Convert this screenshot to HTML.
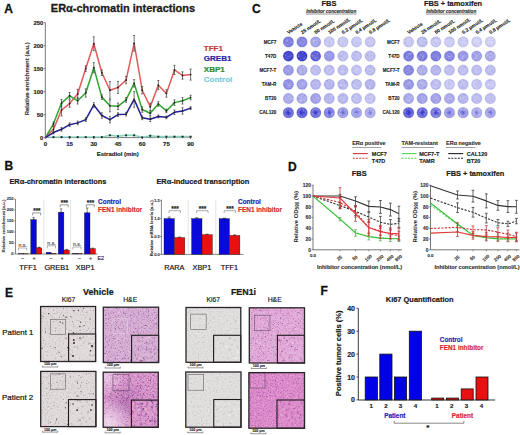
<!DOCTYPE html>
<html><head><meta charset="utf-8"><style>
html,body{margin:0;padding:0;background:#fff;width:520px;height:435px;overflow:hidden}
svg{display:block}
text{font-family:"Liberation Sans", sans-serif}
</style></head><body>
<svg width="520" height="435" viewBox="0 0 520 435" font-family='"Liberation Sans", sans-serif'><defs><filter id="wtex" x="0" y="0" width="1" height="1" color-interpolation-filters="sRGB"><feTurbulence type="fractalNoise" baseFrequency="0.45" numOctaves="2" seed="11"/><feColorMatrix type="matrix" values="0 0 0 0 0.3  0 0 0 0 0.3  0 0 0 0 0.82  2.2 0 0 0 -1.15"/><feComposite in2="SourceAlpha" operator="in"/></filter><filter id="wtex2" x="0" y="0" width="1" height="1" color-interpolation-filters="sRGB"><feTurbulence type="fractalNoise" baseFrequency="0.45" numOctaves="2" seed="23"/><feColorMatrix type="matrix" values="0 0 0 0 0.95  0 0 0 0 0.95  0 0 0 0 1  0 2.2 0 0 -1.15"/><feComposite in2="SourceAlpha" operator="in"/></filter><radialGradient id="w1"><stop offset="0" stop-color="#8383df"/><stop offset="0.6" stop-color="#8383df"/><stop offset="0.9" stop-color="#6e6eda"/><stop offset="1" stop-color="#9191e3"/></radialGradient><radialGradient id="w2"><stop offset="0" stop-color="#8c8ce2"/><stop offset="0.6" stop-color="#8c8ce2"/><stop offset="0.9" stop-color="#7878dc"/><stop offset="1" stop-color="#9999e5"/></radialGradient><radialGradient id="w3"><stop offset="0" stop-color="#ababea"/><stop offset="0.6" stop-color="#ababea"/><stop offset="0.9" stop-color="#9999e5"/><stop offset="1" stop-color="#b4b4ec"/></radialGradient><radialGradient id="w4"><stop offset="0" stop-color="#cbcbf3"/><stop offset="0.6" stop-color="#cbcbf3"/><stop offset="0.9" stop-color="#bdbdef"/><stop offset="1" stop-color="#d0d0f4"/></radialGradient><radialGradient id="w5"><stop offset="0" stop-color="#cbcbf3"/><stop offset="0.6" stop-color="#cbcbf3"/><stop offset="0.9" stop-color="#bdbdef"/><stop offset="1" stop-color="#d0d0f4"/></radialGradient><radialGradient id="w6"><stop offset="0" stop-color="#cbcbf3"/><stop offset="0.6" stop-color="#cbcbf3"/><stop offset="0.9" stop-color="#bdbdef"/><stop offset="1" stop-color="#d0d0f4"/></radialGradient><radialGradient id="w7"><stop offset="0" stop-color="#cbcbf3"/><stop offset="0.6" stop-color="#cbcbf3"/><stop offset="0.9" stop-color="#bdbdef"/><stop offset="1" stop-color="#d0d0f4"/></radialGradient><radialGradient id="w8"><stop offset="0" stop-color="#4d4dd1"/><stop offset="0.6" stop-color="#4d4dd1"/><stop offset="0.9" stop-color="#3333ca"/><stop offset="1" stop-color="#6262d6"/></radialGradient><radialGradient id="w9"><stop offset="0" stop-color="#4444ce"/><stop offset="0.6" stop-color="#4444ce"/><stop offset="0.9" stop-color="#2c2cc8"/><stop offset="1" stop-color="#5b5bd4"/></radialGradient><radialGradient id="w10"><stop offset="0" stop-color="#6868d8"/><stop offset="0.6" stop-color="#6868d8"/><stop offset="0.9" stop-color="#5151d2"/><stop offset="1" stop-color="#7a7add"/></radialGradient><radialGradient id="w11"><stop offset="0" stop-color="#9e9ee7"/><stop offset="0.6" stop-color="#9e9ee7"/><stop offset="0.9" stop-color="#8c8ce1"/><stop offset="1" stop-color="#a9a9e9"/></radialGradient><radialGradient id="w12"><stop offset="0" stop-color="#c2c2f0"/><stop offset="0.6" stop-color="#c2c2f0"/><stop offset="0.9" stop-color="#b3b3ec"/><stop offset="1" stop-color="#c8c8f2"/></radialGradient><radialGradient id="w13"><stop offset="0" stop-color="#c2c2f0"/><stop offset="0.6" stop-color="#c2c2f0"/><stop offset="0.9" stop-color="#b3b3ec"/><stop offset="1" stop-color="#c8c8f2"/></radialGradient><radialGradient id="w14"><stop offset="0" stop-color="#c2c2f0"/><stop offset="0.6" stop-color="#c2c2f0"/><stop offset="0.9" stop-color="#b3b3ec"/><stop offset="1" stop-color="#c8c8f2"/></radialGradient><radialGradient id="w15"><stop offset="0" stop-color="#9e9ee7"/><stop offset="0.6" stop-color="#9e9ee7"/><stop offset="0.9" stop-color="#8c8ce1"/><stop offset="1" stop-color="#a9a9e9"/></radialGradient><radialGradient id="w16"><stop offset="0" stop-color="#b0b0eb"/><stop offset="0.6" stop-color="#b0b0eb"/><stop offset="0.9" stop-color="#9f9fe7"/><stop offset="1" stop-color="#b9b9ee"/></radialGradient><radialGradient id="w17"><stop offset="0" stop-color="#c2c2f0"/><stop offset="0.6" stop-color="#c2c2f0"/><stop offset="0.9" stop-color="#b3b3ec"/><stop offset="1" stop-color="#c8c8f2"/></radialGradient><radialGradient id="w18"><stop offset="0" stop-color="#c2c2f0"/><stop offset="0.6" stop-color="#c2c2f0"/><stop offset="0.9" stop-color="#b3b3ec"/><stop offset="1" stop-color="#c8c8f2"/></radialGradient><radialGradient id="w19"><stop offset="0" stop-color="#c2c2f0"/><stop offset="0.6" stop-color="#c2c2f0"/><stop offset="0.9" stop-color="#b3b3ec"/><stop offset="1" stop-color="#c8c8f2"/></radialGradient><radialGradient id="w20"><stop offset="0" stop-color="#c8c8f2"/><stop offset="0.6" stop-color="#c8c8f2"/><stop offset="0.9" stop-color="#b9b9ee"/><stop offset="1" stop-color="#cdcdf3"/></radialGradient><radialGradient id="w21"><stop offset="0" stop-color="#c2c2f0"/><stop offset="0.6" stop-color="#c2c2f0"/><stop offset="0.9" stop-color="#b3b3ec"/><stop offset="1" stop-color="#c8c8f2"/></radialGradient><radialGradient id="w22"><stop offset="0" stop-color="#9595e4"/><stop offset="0.6" stop-color="#9595e4"/><stop offset="0.9" stop-color="#8282df"/><stop offset="1" stop-color="#a1a1e7"/></radialGradient><radialGradient id="w23"><stop offset="0" stop-color="#a7a7e9"/><stop offset="0.6" stop-color="#a7a7e9"/><stop offset="0.9" stop-color="#9595e4"/><stop offset="1" stop-color="#b1b1ec"/></radialGradient><radialGradient id="w24"><stop offset="0" stop-color="#b9b9ee"/><stop offset="0.6" stop-color="#b9b9ee"/><stop offset="0.9" stop-color="#a9a9e9"/><stop offset="1" stop-color="#c0c0f0"/></radialGradient><radialGradient id="w25"><stop offset="0" stop-color="#b9b9ee"/><stop offset="0.6" stop-color="#b9b9ee"/><stop offset="0.9" stop-color="#a9a9e9"/><stop offset="1" stop-color="#c0c0f0"/></radialGradient><radialGradient id="w26"><stop offset="0" stop-color="#bdbdef"/><stop offset="0.6" stop-color="#bdbdef"/><stop offset="0.9" stop-color="#adadea"/><stop offset="1" stop-color="#c4c4f1"/></radialGradient><radialGradient id="w27"><stop offset="0" stop-color="#c2c2f0"/><stop offset="0.6" stop-color="#c2c2f0"/><stop offset="0.9" stop-color="#b3b3ec"/><stop offset="1" stop-color="#c8c8f2"/></radialGradient><radialGradient id="w28"><stop offset="0" stop-color="#b9b9ee"/><stop offset="0.6" stop-color="#b9b9ee"/><stop offset="0.9" stop-color="#a9a9e9"/><stop offset="1" stop-color="#c0c0f0"/></radialGradient><radialGradient id="w29"><stop offset="0" stop-color="#b0b0eb"/><stop offset="0.6" stop-color="#b0b0eb"/><stop offset="0.9" stop-color="#9f9fe7"/><stop offset="1" stop-color="#b9b9ee"/></radialGradient><radialGradient id="w30"><stop offset="0" stop-color="#b0b0eb"/><stop offset="0.6" stop-color="#b0b0eb"/><stop offset="0.9" stop-color="#9f9fe7"/><stop offset="1" stop-color="#b9b9ee"/></radialGradient><radialGradient id="w31"><stop offset="0" stop-color="#a7a7e9"/><stop offset="0.6" stop-color="#a7a7e9"/><stop offset="0.9" stop-color="#9595e4"/><stop offset="1" stop-color="#b1b1ec"/></radialGradient><radialGradient id="w32"><stop offset="0" stop-color="#b9b9ee"/><stop offset="0.6" stop-color="#b9b9ee"/><stop offset="0.9" stop-color="#a9a9e9"/><stop offset="1" stop-color="#c0c0f0"/></radialGradient><radialGradient id="w33"><stop offset="0" stop-color="#bdbdef"/><stop offset="0.6" stop-color="#bdbdef"/><stop offset="0.9" stop-color="#adadea"/><stop offset="1" stop-color="#c4c4f1"/></radialGradient><radialGradient id="w34"><stop offset="0" stop-color="#c2c2f0"/><stop offset="0.6" stop-color="#c2c2f0"/><stop offset="0.9" stop-color="#b3b3ec"/><stop offset="1" stop-color="#c8c8f2"/></radialGradient><radialGradient id="w35"><stop offset="0" stop-color="#c8c8f2"/><stop offset="0.6" stop-color="#c8c8f2"/><stop offset="0.9" stop-color="#b9b9ee"/><stop offset="1" stop-color="#cdcdf3"/></radialGradient><radialGradient id="w36"><stop offset="0" stop-color="#2c2cc8"/><stop offset="0.35" stop-color="#4d4dd1"/><stop offset="0.7" stop-color="#7a7add"/><stop offset="1" stop-color="#4949cf"/></radialGradient><radialGradient id="w37"><stop offset="0" stop-color="#2c2cc8"/><stop offset="0.35" stop-color="#4343ce"/><stop offset="0.7" stop-color="#7272db"/><stop offset="1" stop-color="#3f3fcd"/></radialGradient><radialGradient id="w38"><stop offset="0" stop-color="#2c2cc8"/><stop offset="0.35" stop-color="#5757d3"/><stop offset="0.7" stop-color="#8282df"/><stop offset="1" stop-color="#5353d2"/></radialGradient><radialGradient id="w39"><stop offset="0" stop-color="#3f3fcd"/><stop offset="0.35" stop-color="#6a6ad8"/><stop offset="0.7" stop-color="#9191e3"/><stop offset="1" stop-color="#6666d7"/></radialGradient><radialGradient id="w40"><stop offset="0" stop-color="#5d5dd5"/><stop offset="0.35" stop-color="#8888e0"/><stop offset="0.7" stop-color="#a9a9e9"/><stop offset="1" stop-color="#8484df"/></radialGradient><radialGradient id="w41"><stop offset="0" stop-color="#6666d7"/><stop offset="0.35" stop-color="#9191e3"/><stop offset="0.7" stop-color="#b1b1ec"/><stop offset="1" stop-color="#8e8ee2"/></radialGradient><radialGradient id="w42"><stop offset="0" stop-color="#7070da"/><stop offset="0.35" stop-color="#9b9be6"/><stop offset="0.7" stop-color="#b9b9ee"/><stop offset="1" stop-color="#9797e5"/></radialGradient><radialGradient id="w43"><stop offset="0" stop-color="#cbcbf3"/><stop offset="0.6" stop-color="#cbcbf3"/><stop offset="0.9" stop-color="#bdbdef"/><stop offset="1" stop-color="#d0d0f4"/></radialGradient><radialGradient id="w44"><stop offset="0" stop-color="#c2c2f0"/><stop offset="0.6" stop-color="#c2c2f0"/><stop offset="0.9" stop-color="#b3b3ec"/><stop offset="1" stop-color="#c8c8f2"/></radialGradient><radialGradient id="w45"><stop offset="0" stop-color="#cbcbf3"/><stop offset="0.6" stop-color="#cbcbf3"/><stop offset="0.9" stop-color="#bdbdef"/><stop offset="1" stop-color="#d0d0f4"/></radialGradient><radialGradient id="w46"><stop offset="0" stop-color="#cfcff4"/><stop offset="0.6" stop-color="#cfcff4"/><stop offset="0.9" stop-color="#c0c0f0"/><stop offset="1" stop-color="#d3d3f5"/></radialGradient><radialGradient id="w47"><stop offset="0" stop-color="#cfcff4"/><stop offset="0.6" stop-color="#cfcff4"/><stop offset="0.9" stop-color="#c0c0f0"/><stop offset="1" stop-color="#d3d3f5"/></radialGradient><radialGradient id="w48"><stop offset="0" stop-color="#d4d4f5"/><stop offset="0.6" stop-color="#d4d4f5"/><stop offset="0.9" stop-color="#c6c6f1"/><stop offset="1" stop-color="#d8d8f6"/></radialGradient><radialGradient id="w49"><stop offset="0" stop-color="#d4d4f5"/><stop offset="0.6" stop-color="#d4d4f5"/><stop offset="0.9" stop-color="#c6c6f1"/><stop offset="1" stop-color="#d8d8f6"/></radialGradient><radialGradient id="w50"><stop offset="0" stop-color="#8383df"/><stop offset="0.6" stop-color="#8383df"/><stop offset="0.9" stop-color="#6e6eda"/><stop offset="1" stop-color="#9191e3"/></radialGradient><radialGradient id="w51"><stop offset="0" stop-color="#8383df"/><stop offset="0.6" stop-color="#8383df"/><stop offset="0.9" stop-color="#6e6eda"/><stop offset="1" stop-color="#9191e3"/></radialGradient><radialGradient id="w52"><stop offset="0" stop-color="#8383df"/><stop offset="0.6" stop-color="#8383df"/><stop offset="0.9" stop-color="#6e6eda"/><stop offset="1" stop-color="#9191e3"/></radialGradient><radialGradient id="w53"><stop offset="0" stop-color="#8c8ce2"/><stop offset="0.6" stop-color="#8c8ce2"/><stop offset="0.9" stop-color="#7878dc"/><stop offset="1" stop-color="#9999e5"/></radialGradient><radialGradient id="w54"><stop offset="0" stop-color="#9e9ee7"/><stop offset="0.6" stop-color="#9e9ee7"/><stop offset="0.9" stop-color="#8c8ce1"/><stop offset="1" stop-color="#a9a9e9"/></radialGradient><radialGradient id="w55"><stop offset="0" stop-color="#a7a7e9"/><stop offset="0.6" stop-color="#a7a7e9"/><stop offset="0.9" stop-color="#9595e4"/><stop offset="1" stop-color="#b1b1ec"/></radialGradient><radialGradient id="w56"><stop offset="0" stop-color="#b0b0eb"/><stop offset="0.6" stop-color="#b0b0eb"/><stop offset="0.9" stop-color="#9f9fe7"/><stop offset="1" stop-color="#b9b9ee"/></radialGradient><radialGradient id="w57"><stop offset="0" stop-color="#8c8ce2"/><stop offset="0.6" stop-color="#8c8ce2"/><stop offset="0.9" stop-color="#7878dc"/><stop offset="1" stop-color="#9999e5"/></radialGradient><radialGradient id="w58"><stop offset="0" stop-color="#b0b0eb"/><stop offset="0.6" stop-color="#b0b0eb"/><stop offset="0.9" stop-color="#9f9fe7"/><stop offset="1" stop-color="#b9b9ee"/></radialGradient><radialGradient id="w59"><stop offset="0" stop-color="#b9b9ee"/><stop offset="0.6" stop-color="#b9b9ee"/><stop offset="0.9" stop-color="#a9a9e9"/><stop offset="1" stop-color="#c0c0f0"/></radialGradient><radialGradient id="w60"><stop offset="0" stop-color="#c2c2f0"/><stop offset="0.6" stop-color="#c2c2f0"/><stop offset="0.9" stop-color="#b3b3ec"/><stop offset="1" stop-color="#c8c8f2"/></radialGradient><radialGradient id="w61"><stop offset="0" stop-color="#c2c2f0"/><stop offset="0.6" stop-color="#c2c2f0"/><stop offset="0.9" stop-color="#b3b3ec"/><stop offset="1" stop-color="#c8c8f2"/></radialGradient><radialGradient id="w62"><stop offset="0" stop-color="#c2c2f0"/><stop offset="0.6" stop-color="#c2c2f0"/><stop offset="0.9" stop-color="#b3b3ec"/><stop offset="1" stop-color="#c8c8f2"/></radialGradient><radialGradient id="w63"><stop offset="0" stop-color="#c2c2f0"/><stop offset="0.6" stop-color="#c2c2f0"/><stop offset="0.9" stop-color="#b3b3ec"/><stop offset="1" stop-color="#c8c8f2"/></radialGradient><radialGradient id="w64"><stop offset="0" stop-color="#9e9ee7"/><stop offset="0.6" stop-color="#9e9ee7"/><stop offset="0.9" stop-color="#8c8ce1"/><stop offset="1" stop-color="#a9a9e9"/></radialGradient><radialGradient id="w65"><stop offset="0" stop-color="#b0b0eb"/><stop offset="0.6" stop-color="#b0b0eb"/><stop offset="0.9" stop-color="#9f9fe7"/><stop offset="1" stop-color="#b9b9ee"/></radialGradient><radialGradient id="w66"><stop offset="0" stop-color="#c2c2f0"/><stop offset="0.6" stop-color="#c2c2f0"/><stop offset="0.9" stop-color="#b3b3ec"/><stop offset="1" stop-color="#c8c8f2"/></radialGradient><radialGradient id="w67"><stop offset="0" stop-color="#cbcbf3"/><stop offset="0.6" stop-color="#cbcbf3"/><stop offset="0.9" stop-color="#bdbdef"/><stop offset="1" stop-color="#d0d0f4"/></radialGradient><radialGradient id="w68"><stop offset="0" stop-color="#c2c2f0"/><stop offset="0.6" stop-color="#c2c2f0"/><stop offset="0.9" stop-color="#b3b3ec"/><stop offset="1" stop-color="#c8c8f2"/></radialGradient><radialGradient id="w69"><stop offset="0" stop-color="#c8c8f2"/><stop offset="0.6" stop-color="#c8c8f2"/><stop offset="0.9" stop-color="#b9b9ee"/><stop offset="1" stop-color="#cdcdf3"/></radialGradient><radialGradient id="w70"><stop offset="0" stop-color="#cbcbf3"/><stop offset="0.6" stop-color="#cbcbf3"/><stop offset="0.9" stop-color="#bdbdef"/><stop offset="1" stop-color="#d0d0f4"/></radialGradient><radialGradient id="w71"><stop offset="0" stop-color="#b0b0eb"/><stop offset="0.6" stop-color="#b0b0eb"/><stop offset="0.9" stop-color="#9f9fe7"/><stop offset="1" stop-color="#b9b9ee"/></radialGradient><radialGradient id="w72"><stop offset="0" stop-color="#a7a7e9"/><stop offset="0.6" stop-color="#a7a7e9"/><stop offset="0.9" stop-color="#9595e4"/><stop offset="1" stop-color="#b1b1ec"/></radialGradient><radialGradient id="w73"><stop offset="0" stop-color="#a7a7e9"/><stop offset="0.6" stop-color="#a7a7e9"/><stop offset="0.9" stop-color="#9595e4"/><stop offset="1" stop-color="#b1b1ec"/></radialGradient><radialGradient id="w74"><stop offset="0" stop-color="#b0b0eb"/><stop offset="0.6" stop-color="#b0b0eb"/><stop offset="0.9" stop-color="#9f9fe7"/><stop offset="1" stop-color="#b9b9ee"/></radialGradient><radialGradient id="w75"><stop offset="0" stop-color="#b9b9ee"/><stop offset="0.6" stop-color="#b9b9ee"/><stop offset="0.9" stop-color="#a9a9e9"/><stop offset="1" stop-color="#c0c0f0"/></radialGradient><radialGradient id="w76"><stop offset="0" stop-color="#c2c2f0"/><stop offset="0.6" stop-color="#c2c2f0"/><stop offset="0.9" stop-color="#b3b3ec"/><stop offset="1" stop-color="#c8c8f2"/></radialGradient><radialGradient id="w77"><stop offset="0" stop-color="#c2c2f0"/><stop offset="0.6" stop-color="#c2c2f0"/><stop offset="0.9" stop-color="#b3b3ec"/><stop offset="1" stop-color="#c8c8f2"/></radialGradient><radialGradient id="w78"><stop offset="0" stop-color="#2c2cc8"/><stop offset="0.35" stop-color="#4343ce"/><stop offset="0.7" stop-color="#7272db"/><stop offset="1" stop-color="#3f3fcd"/></radialGradient><radialGradient id="w79"><stop offset="0" stop-color="#2c2cc8"/><stop offset="0.35" stop-color="#4d4dd1"/><stop offset="0.7" stop-color="#7a7add"/><stop offset="1" stop-color="#4949cf"/></radialGradient><radialGradient id="w80"><stop offset="0" stop-color="#3535ca"/><stop offset="0.35" stop-color="#6060d6"/><stop offset="0.7" stop-color="#8a8ae1"/><stop offset="1" stop-color="#5d5dd5"/></radialGradient><radialGradient id="w81"><stop offset="0" stop-color="#5d5dd5"/><stop offset="0.35" stop-color="#8888e0"/><stop offset="0.7" stop-color="#a9a9e9"/><stop offset="1" stop-color="#8484df"/></radialGradient><radialGradient id="w82"><stop offset="0" stop-color="#5d5dd5"/><stop offset="0.35" stop-color="#8888e0"/><stop offset="0.7" stop-color="#a9a9e9"/><stop offset="1" stop-color="#8484df"/></radialGradient><radialGradient id="w83"><stop offset="0" stop-color="#7070da"/><stop offset="0.35" stop-color="#9b9be6"/><stop offset="0.7" stop-color="#b9b9ee"/><stop offset="1" stop-color="#9797e5"/></radialGradient><radialGradient id="w84"><stop offset="0" stop-color="#6666d7"/><stop offset="0.35" stop-color="#9191e3"/><stop offset="0.7" stop-color="#b1b1ec"/><stop offset="1" stop-color="#8e8ee2"/></radialGradient><filter id="t_ki_0" x="0" y="0" width="1" height="1" color-interpolation-filters="sRGB"><feTurbulence type="fractalNoise" baseFrequency="0.6" numOctaves="2" seed="3"/><feColorMatrix type="matrix" values="0 0 0 0 0.706 0 0 0 0 0.667 0 0 0 0 0.682 4 0 0 0 -2.3"/></filter><filter id="ti_ki_0" x="0" y="0" width="1" height="1" color-interpolation-filters="sRGB"><feTurbulence type="fractalNoise" baseFrequency="0.35" numOctaves="2" seed="9"/><feColorMatrix type="matrix" values="0 0 0 0 0.706 0 0 0 0 0.667 0 0 0 0 0.682 4 0 0 0 -2.3"/></filter><filter id="t_ki_1" x="0" y="0" width="1" height="1" color-interpolation-filters="sRGB"><feTurbulence type="fractalNoise" baseFrequency="0.6" numOctaves="2" seed="4"/><feColorMatrix type="matrix" values="0 0 0 0 0.937 0 0 0 0 0.922 0 0 0 0 0.925 0 3 0 0 -1.75"/></filter><filter id="ti_ki_1" x="0" y="0" width="1" height="1" color-interpolation-filters="sRGB"><feTurbulence type="fractalNoise" baseFrequency="0.35" numOctaves="2" seed="10"/><feColorMatrix type="matrix" values="0 0 0 0 0.937 0 0 0 0 0.922 0 0 0 0 0.925 0 3 0 0 -1.75"/></filter><filter id="t_kig_0" x="0" y="0" width="1" height="1" color-interpolation-filters="sRGB"><feTurbulence type="fractalNoise" baseFrequency="0.6" numOctaves="2" seed="3"/><feColorMatrix type="matrix" values="0 0 0 0 0.769 0 0 0 0 0.753 0 0 0 0 0.753 4 0 0 0 -2.35"/></filter><filter id="ti_kig_0" x="0" y="0" width="1" height="1" color-interpolation-filters="sRGB"><feTurbulence type="fractalNoise" baseFrequency="0.35" numOctaves="2" seed="9"/><feColorMatrix type="matrix" values="0 0 0 0 0.769 0 0 0 0 0.753 0 0 0 0 0.753 4 0 0 0 -2.35"/></filter><filter id="t_kig_1" x="0" y="0" width="1" height="1" color-interpolation-filters="sRGB"><feTurbulence type="fractalNoise" baseFrequency="0.6" numOctaves="2" seed="4"/><feColorMatrix type="matrix" values="0 0 0 0 0.949 0 0 0 0 0.941 0 0 0 0 0.941 0 3 0 0 -1.75"/></filter><filter id="ti_kig_1" x="0" y="0" width="1" height="1" color-interpolation-filters="sRGB"><feTurbulence type="fractalNoise" baseFrequency="0.35" numOctaves="2" seed="10"/><feColorMatrix type="matrix" values="0 0 0 0 0.949 0 0 0 0 0.941 0 0 0 0 0.941 0 3 0 0 -1.75"/></filter><filter id="t_he_0" x="0" y="0" width="1" height="1" color-interpolation-filters="sRGB"><feTurbulence type="fractalNoise" baseFrequency="0.6" numOctaves="2" seed="3"/><feColorMatrix type="matrix" values="0 0 0 0 0.612 0 0 0 0 0.455 0 0 0 0 0.643 5 0 0 0 -2.9"/></filter><filter id="ti_he_0" x="0" y="0" width="1" height="1" color-interpolation-filters="sRGB"><feTurbulence type="fractalNoise" baseFrequency="0.35" numOctaves="2" seed="9"/><feColorMatrix type="matrix" values="0 0 0 0 0.612 0 0 0 0 0.455 0 0 0 0 0.643 5 0 0 0 -2.9"/></filter><filter id="t_he_1" x="0" y="0" width="1" height="1" color-interpolation-filters="sRGB"><feTurbulence type="fractalNoise" baseFrequency="0.6" numOctaves="2" seed="4"/><feColorMatrix type="matrix" values="0 0 0 0 0.925 0 0 0 0 0.831 0 0 0 0 0.918 0 3 0 0 -1.8"/></filter><filter id="ti_he_1" x="0" y="0" width="1" height="1" color-interpolation-filters="sRGB"><feTurbulence type="fractalNoise" baseFrequency="0.35" numOctaves="2" seed="10"/><feColorMatrix type="matrix" values="0 0 0 0 0.925 0 0 0 0 0.831 0 0 0 0 0.918 0 3 0 0 -1.8"/></filter><filter id="t_he_2" x="0" y="0" width="1" height="1" color-interpolation-filters="sRGB"><feTurbulence type="fractalNoise" baseFrequency="0.6" numOctaves="2" seed="5"/><feColorMatrix type="matrix" values="0 0 0 0 0.769 0 0 0 0 0.596 0 0 0 0 0.776 0 0 4 0 -2.1"/></filter><filter id="ti_he_2" x="0" y="0" width="1" height="1" color-interpolation-filters="sRGB"><feTurbulence type="fractalNoise" baseFrequency="0.35" numOctaves="2" seed="11"/><feColorMatrix type="matrix" values="0 0 0 0 0.769 0 0 0 0 0.596 0 0 0 0 0.776 0 0 4 0 -2.1"/></filter><filter id="t_he2_0" x="0" y="0" width="1" height="1" color-interpolation-filters="sRGB"><feTurbulence type="fractalNoise" baseFrequency="0.6" numOctaves="2" seed="3"/><feColorMatrix type="matrix" values="0 0 0 0 0.690 0 0 0 0 0.439 0 0 0 0 0.675 5 0 0 0 -3.0"/></filter><filter id="ti_he2_0" x="0" y="0" width="1" height="1" color-interpolation-filters="sRGB"><feTurbulence type="fractalNoise" baseFrequency="0.35" numOctaves="2" seed="9"/><feColorMatrix type="matrix" values="0 0 0 0 0.690 0 0 0 0 0.439 0 0 0 0 0.675 5 0 0 0 -3.0"/></filter><filter id="t_he2_1" x="0" y="0" width="1" height="1" color-interpolation-filters="sRGB"><feTurbulence type="fractalNoise" baseFrequency="0.6" numOctaves="2" seed="4"/><feColorMatrix type="matrix" values="0 0 0 0 0.957 0 0 0 0 0.847 0 0 0 0 0.933 0 3 0 0 -1.8"/></filter><filter id="ti_he2_1" x="0" y="0" width="1" height="1" color-interpolation-filters="sRGB"><feTurbulence type="fractalNoise" baseFrequency="0.35" numOctaves="2" seed="10"/><feColorMatrix type="matrix" values="0 0 0 0 0.957 0 0 0 0 0.847 0 0 0 0 0.933 0 3 0 0 -1.8"/></filter><filter id="t_he2_2" x="0" y="0" width="1" height="1" color-interpolation-filters="sRGB"><feTurbulence type="fractalNoise" baseFrequency="0.6" numOctaves="2" seed="5"/><feColorMatrix type="matrix" values="0 0 0 0 0.816 0 0 0 0 0.541 0 0 0 0 0.784 0 0 4 0 -2.2"/></filter><filter id="ti_he2_2" x="0" y="0" width="1" height="1" color-interpolation-filters="sRGB"><feTurbulence type="fractalNoise" baseFrequency="0.35" numOctaves="2" seed="11"/><feColorMatrix type="matrix" values="0 0 0 0 0.816 0 0 0 0 0.541 0 0 0 0 0.784 0 0 4 0 -2.2"/></filter><filter id="t_he4_0" x="0" y="0" width="1" height="1" color-interpolation-filters="sRGB"><feTurbulence type="fractalNoise" baseFrequency="0.6" numOctaves="2" seed="3"/><feColorMatrix type="matrix" values="0 0 0 0 0.690 0 0 0 0 0.376 0 0 0 0 0.667 5 0 0 0 -2.95"/></filter><filter id="ti_he4_0" x="0" y="0" width="1" height="1" color-interpolation-filters="sRGB"><feTurbulence type="fractalNoise" baseFrequency="0.35" numOctaves="2" seed="9"/><feColorMatrix type="matrix" values="0 0 0 0 0.690 0 0 0 0 0.376 0 0 0 0 0.667 5 0 0 0 -2.95"/></filter><filter id="t_he4_1" x="0" y="0" width="1" height="1" color-interpolation-filters="sRGB"><feTurbulence type="fractalNoise" baseFrequency="0.6" numOctaves="2" seed="4"/><feColorMatrix type="matrix" values="0 0 0 0 0.949 0 0 0 0 0.800 0 0 0 0 0.910 0 3 0 0 -1.8"/></filter><filter id="ti_he4_1" x="0" y="0" width="1" height="1" color-interpolation-filters="sRGB"><feTurbulence type="fractalNoise" baseFrequency="0.35" numOctaves="2" seed="10"/><feColorMatrix type="matrix" values="0 0 0 0 0.949 0 0 0 0 0.800 0 0 0 0 0.910 0 3 0 0 -1.8"/></filter><filter id="t_he4_2" x="0" y="0" width="1" height="1" color-interpolation-filters="sRGB"><feTurbulence type="fractalNoise" baseFrequency="0.6" numOctaves="2" seed="5"/><feColorMatrix type="matrix" values="0 0 0 0 0.800 0 0 0 0 0.447 0 0 0 0 0.745 0 0 4 0 -2.1"/></filter><filter id="ti_he4_2" x="0" y="0" width="1" height="1" color-interpolation-filters="sRGB"><feTurbulence type="fractalNoise" baseFrequency="0.35" numOctaves="2" seed="11"/><feColorMatrix type="matrix" values="0 0 0 0 0.800 0 0 0 0 0.447 0 0 0 0 0.745 0 0 4 0 -2.1"/></filter><filter id="t_he3_0" x="0" y="0" width="1" height="1" color-interpolation-filters="sRGB"><feTurbulence type="fractalNoise" baseFrequency="0.6" numOctaves="2" seed="3"/><feColorMatrix type="matrix" values="0 0 0 0 0.565 0 0 0 0 0.314 0 0 0 0 0.627 5 0 0 0 -2.85"/></filter><filter id="ti_he3_0" x="0" y="0" width="1" height="1" color-interpolation-filters="sRGB"><feTurbulence type="fractalNoise" baseFrequency="0.35" numOctaves="2" seed="9"/><feColorMatrix type="matrix" values="0 0 0 0 0.565 0 0 0 0 0.314 0 0 0 0 0.627 5 0 0 0 -2.85"/></filter><filter id="t_he3_1" x="0" y="0" width="1" height="1" color-interpolation-filters="sRGB"><feTurbulence type="fractalNoise" baseFrequency="0.6" numOctaves="2" seed="4"/><feColorMatrix type="matrix" values="0 0 0 0 0.949 0 0 0 0 0.816 0 0 0 0 0.910 0 3 0 0 -1.8"/></filter><filter id="ti_he3_1" x="0" y="0" width="1" height="1" color-interpolation-filters="sRGB"><feTurbulence type="fractalNoise" baseFrequency="0.35" numOctaves="2" seed="10"/><feColorMatrix type="matrix" values="0 0 0 0 0.949 0 0 0 0 0.816 0 0 0 0 0.910 0 3 0 0 -1.8"/></filter><filter id="t_he3_2" x="0" y="0" width="1" height="1" color-interpolation-filters="sRGB"><feTurbulence type="fractalNoise" baseFrequency="0.6" numOctaves="2" seed="5"/><feColorMatrix type="matrix" values="0 0 0 0 0.769 0 0 0 0 0.439 0 0 0 0 0.722 0 0 4 0 -2.1"/></filter><filter id="ti_he3_2" x="0" y="0" width="1" height="1" color-interpolation-filters="sRGB"><feTurbulence type="fractalNoise" baseFrequency="0.35" numOctaves="2" seed="11"/><feColorMatrix type="matrix" values="0 0 0 0 0.769 0 0 0 0 0.439 0 0 0 0 0.722 0 0 4 0 -2.1"/></filter><radialGradient id="pale5" cx="0.1" cy="0.92" r="0.45"><stop offset="0" stop-color="#f6eaf4" stop-opacity="0.8"/><stop offset="1" stop-color="#f6eaf4" stop-opacity="0"/></radialGradient><radialGradient id="pale5b" cx="0.05" cy="0.1" r="0.35"><stop offset="0" stop-color="#f6eaf4" stop-opacity="0.6"/><stop offset="1" stop-color="#f6eaf4" stop-opacity="0"/></radialGradient><radialGradient id="band5" cx="0.42" cy="0.55" r="0.4"><stop offset="0" stop-color="#7a3088" stop-opacity="0.3"/><stop offset="1" stop-color="#7a3088" stop-opacity="0"/></radialGradient></defs><text x="4.20" y="12.50" font-size="12" font-weight="bold" fill="#111" stroke="#111" stroke-width="0.30" text-anchor="start" >A</text>
<text x="252.00" y="12.60" font-size="12" font-weight="bold" fill="#111" stroke="#111" stroke-width="0.30" text-anchor="start" >C</text>
<text x="4.60" y="170.30" font-size="12" font-weight="bold" fill="#111" stroke="#111" stroke-width="0.30" text-anchor="start" >B</text>
<text x="288.00" y="170.50" font-size="12" font-weight="bold" fill="#111" stroke="#111" stroke-width="0.30" text-anchor="start" >D</text>
<text x="5.00" y="296.90" font-size="12" font-weight="bold" fill="#111" stroke="#111" stroke-width="0.30" text-anchor="start" >E</text>
<text x="320.50" y="294.80" font-size="12" font-weight="bold" fill="#111" stroke="#111" stroke-width="0.30" text-anchor="start" >F</text>
<text x="50.80" y="12.40" font-size="11" font-weight="bold" fill="#1a1a1a" stroke="#1a1a1a" stroke-width="0.28" text-anchor="start" >ERα-chromatin interactions</text>
<line x1="45.30" y1="22.50" x2="45.30" y2="137.60" stroke="#555" stroke-width="0.8" />
<line x1="45.30" y1="137.60" x2="191.20" y2="137.60" stroke="#555" stroke-width="0.8" />
<line x1="43.80" y1="137.60" x2="45.30" y2="137.60" stroke="#555" stroke-width="0.7" />
<text x="43.30" y="139.70" font-size="5.9" font-weight="bold" fill="#222" stroke="#222" stroke-width="0.15" text-anchor="end" >0</text>
<line x1="43.80" y1="114.60" x2="45.30" y2="114.60" stroke="#555" stroke-width="0.7" />
<text x="43.30" y="116.70" font-size="5.9" font-weight="bold" fill="#222" stroke="#222" stroke-width="0.15" text-anchor="end" >50</text>
<line x1="43.80" y1="91.60" x2="45.30" y2="91.60" stroke="#555" stroke-width="0.7" />
<text x="43.30" y="93.70" font-size="5.9" font-weight="bold" fill="#222" stroke="#222" stroke-width="0.15" text-anchor="end" >100</text>
<line x1="43.80" y1="68.60" x2="45.30" y2="68.60" stroke="#555" stroke-width="0.7" />
<text x="43.30" y="70.70" font-size="5.9" font-weight="bold" fill="#222" stroke="#222" stroke-width="0.15" text-anchor="end" >150</text>
<line x1="43.80" y1="45.60" x2="45.30" y2="45.60" stroke="#555" stroke-width="0.7" />
<text x="43.30" y="47.70" font-size="5.9" font-weight="bold" fill="#222" stroke="#222" stroke-width="0.15" text-anchor="end" >200</text>
<line x1="43.80" y1="22.60" x2="45.30" y2="22.60" stroke="#555" stroke-width="0.7" />
<text x="43.30" y="24.70" font-size="5.9" font-weight="bold" fill="#222" stroke="#222" stroke-width="0.15" text-anchor="end" >250</text>
<line x1="45.40" y1="137.60" x2="45.40" y2="139.10" stroke="#555" stroke-width="0.7" />
<text x="45.40" y="146.30" font-size="6.0" font-weight="bold" fill="#222" stroke="#222" stroke-width="0.15" text-anchor="middle" >0</text>
<line x1="69.60" y1="137.60" x2="69.60" y2="139.10" stroke="#555" stroke-width="0.7" />
<text x="69.60" y="146.30" font-size="6.0" font-weight="bold" fill="#222" stroke="#222" stroke-width="0.15" text-anchor="middle" >15</text>
<line x1="93.80" y1="137.60" x2="93.80" y2="139.10" stroke="#555" stroke-width="0.7" />
<text x="93.80" y="146.30" font-size="6.0" font-weight="bold" fill="#222" stroke="#222" stroke-width="0.15" text-anchor="middle" >30</text>
<line x1="118.00" y1="137.60" x2="118.00" y2="139.10" stroke="#555" stroke-width="0.7" />
<text x="118.00" y="146.30" font-size="6.0" font-weight="bold" fill="#222" stroke="#222" stroke-width="0.15" text-anchor="middle" >45</text>
<line x1="142.20" y1="137.60" x2="142.20" y2="139.10" stroke="#555" stroke-width="0.7" />
<text x="142.20" y="146.30" font-size="6.0" font-weight="bold" fill="#222" stroke="#222" stroke-width="0.15" text-anchor="middle" >60</text>
<line x1="166.40" y1="137.60" x2="166.40" y2="139.10" stroke="#555" stroke-width="0.7" />
<text x="166.40" y="146.30" font-size="6.0" font-weight="bold" fill="#222" stroke="#222" stroke-width="0.15" text-anchor="middle" >75</text>
<line x1="190.60" y1="137.60" x2="190.60" y2="139.10" stroke="#555" stroke-width="0.7" />
<text x="190.60" y="146.30" font-size="6.0" font-weight="bold" fill="#222" stroke="#222" stroke-width="0.15" text-anchor="middle" >90</text>
<text x="117.80" y="156.10" font-size="6" font-weight="bold" fill="#222" stroke="#222" stroke-width="0.15" text-anchor="middle" >Estradiol (min)</text>
<text x="29.40" y="78.80" font-size="6" font-weight="bold" fill="#333" stroke="#333" stroke-width="0.15" text-anchor="middle" transform="rotate(-90 29.4 78.8)">Relative enrichment (a.u.)</text>
<polygon points="45.40,136.45 53.47,135.99 61.53,135.99 69.60,135.99 77.67,135.99 85.73,135.99 93.80,135.99 101.87,135.99 109.93,134.15 118.00,135.07 126.06,134.15 134.13,134.15 142.20,136.22 150.26,134.61 158.33,135.53 166.40,135.53 174.46,135.53 182.53,135.53 190.60,135.53 190.60,137.60 182.53,137.60 174.46,137.60 166.40,137.60 158.33,137.60 150.26,136.91 142.20,137.60 134.13,136.45 126.06,136.45 118.00,137.37 109.93,136.45 101.87,137.60 93.80,137.60 85.73,137.60 77.67,137.60 69.60,137.60 61.53,137.60 53.47,137.60 45.40,137.60" fill="#cff2ec"/>
<polyline points="45.40,137.60 53.47,137.14 61.53,137.14 69.60,137.14 77.67,137.14 85.73,137.14 93.80,137.14 101.87,137.14 109.93,135.30 118.00,136.22 126.06,135.30 134.13,135.30 142.20,137.37 150.26,135.76 158.33,136.68 166.40,136.68 174.46,136.68 182.53,136.68 190.60,136.68" fill="none" stroke="#58c4a4" stroke-width="0.8" stroke-linejoin="round"/>
<polyline points="45.40,137.60 53.47,129.32 61.53,110.00 69.60,103.56 77.67,93.90 85.73,68.60 93.80,43.76 101.87,72.74 109.93,90.22 118.00,87.46 126.06,80.10 134.13,43.30 142.20,90.22 150.26,106.78 158.33,85.16 166.40,93.44 174.46,69.98 182.53,75.50 190.60,74.58" fill="none" stroke="#e05a5a" stroke-width="1.5" stroke-linejoin="round"/>
<polyline points="45.40,137.60 53.47,123.80 61.53,103.10 69.60,95.74 77.67,100.80 85.73,92.98 93.80,67.68 101.87,97.12 109.93,105.86 118.00,106.32 126.06,99.88 134.13,83.32 142.20,109.54 150.26,113.22 158.33,104.02 166.40,110.92 174.46,102.64 182.53,100.80 190.60,97.58" fill="none" stroke="#2fa52f" stroke-width="1.5" stroke-linejoin="round"/>
<polyline points="45.40,137.60 53.47,132.54 61.53,129.32 69.60,124.72 77.67,122.88 85.73,119.66 93.80,104.94 101.87,115.52 109.93,119.66 118.00,114.60 126.06,114.14 134.13,99.42 142.20,117.82 150.26,119.20 158.33,116.44 166.40,117.36 174.46,112.30 182.53,110.92 190.60,108.16" fill="none" stroke="#20209a" stroke-width="1.5" stroke-linejoin="round"/>
<line x1="53.47" y1="126.56" x2="53.47" y2="132.08" stroke="#444" stroke-width="0.75" />
<line x1="52.47" y1="126.56" x2="54.47" y2="126.56" stroke="#444" stroke-width="0.75" />
<line x1="52.47" y1="132.08" x2="54.47" y2="132.08" stroke="#444" stroke-width="0.75" />
<circle cx="53.47" cy="129.32" r="0.9" fill="#222"/>
<line x1="61.53" y1="104.02" x2="61.53" y2="115.98" stroke="#444" stroke-width="0.75" />
<line x1="60.53" y1="104.02" x2="62.53" y2="104.02" stroke="#444" stroke-width="0.75" />
<line x1="60.53" y1="115.98" x2="62.53" y2="115.98" stroke="#444" stroke-width="0.75" />
<circle cx="61.53" cy="110.00" r="0.9" fill="#222"/>
<line x1="69.60" y1="99.88" x2="69.60" y2="107.24" stroke="#444" stroke-width="0.75" />
<line x1="68.60" y1="99.88" x2="70.60" y2="99.88" stroke="#444" stroke-width="0.75" />
<line x1="68.60" y1="107.24" x2="70.60" y2="107.24" stroke="#444" stroke-width="0.75" />
<circle cx="69.60" cy="103.56" r="0.9" fill="#222"/>
<line x1="77.67" y1="89.30" x2="77.67" y2="98.50" stroke="#444" stroke-width="0.75" />
<line x1="76.67" y1="89.30" x2="78.67" y2="89.30" stroke="#444" stroke-width="0.75" />
<line x1="76.67" y1="98.50" x2="78.67" y2="98.50" stroke="#444" stroke-width="0.75" />
<circle cx="77.67" cy="93.90" r="0.9" fill="#222"/>
<line x1="85.73" y1="65.84" x2="85.73" y2="71.36" stroke="#444" stroke-width="0.75" />
<line x1="84.73" y1="65.84" x2="86.73" y2="65.84" stroke="#444" stroke-width="0.75" />
<line x1="84.73" y1="71.36" x2="86.73" y2="71.36" stroke="#444" stroke-width="0.75" />
<circle cx="85.73" cy="68.60" r="0.9" fill="#222"/>
<line x1="93.80" y1="36.86" x2="93.80" y2="50.66" stroke="#444" stroke-width="0.75" />
<line x1="92.80" y1="36.86" x2="94.80" y2="36.86" stroke="#444" stroke-width="0.75" />
<line x1="92.80" y1="50.66" x2="94.80" y2="50.66" stroke="#444" stroke-width="0.75" />
<circle cx="93.80" cy="43.76" r="0.9" fill="#222"/>
<line x1="101.87" y1="69.98" x2="101.87" y2="75.50" stroke="#444" stroke-width="0.75" />
<line x1="100.87" y1="69.98" x2="102.87" y2="69.98" stroke="#444" stroke-width="0.75" />
<line x1="100.87" y1="75.50" x2="102.87" y2="75.50" stroke="#444" stroke-width="0.75" />
<circle cx="101.87" cy="72.74" r="0.9" fill="#222"/>
<line x1="109.93" y1="81.48" x2="109.93" y2="98.96" stroke="#444" stroke-width="0.75" />
<line x1="108.93" y1="81.48" x2="110.93" y2="81.48" stroke="#444" stroke-width="0.75" />
<line x1="108.93" y1="98.96" x2="110.93" y2="98.96" stroke="#444" stroke-width="0.75" />
<circle cx="109.93" cy="90.22" r="0.9" fill="#222"/>
<line x1="118.00" y1="81.48" x2="118.00" y2="93.44" stroke="#444" stroke-width="0.75" />
<line x1="117.00" y1="81.48" x2="119.00" y2="81.48" stroke="#444" stroke-width="0.75" />
<line x1="117.00" y1="93.44" x2="119.00" y2="93.44" stroke="#444" stroke-width="0.75" />
<circle cx="118.00" cy="87.46" r="0.9" fill="#222"/>
<line x1="126.06" y1="76.42" x2="126.06" y2="83.78" stroke="#444" stroke-width="0.75" />
<line x1="125.06" y1="76.42" x2="127.06" y2="76.42" stroke="#444" stroke-width="0.75" />
<line x1="125.06" y1="83.78" x2="127.06" y2="83.78" stroke="#444" stroke-width="0.75" />
<circle cx="126.06" cy="80.10" r="0.9" fill="#222"/>
<line x1="134.13" y1="35.48" x2="134.13" y2="51.12" stroke="#444" stroke-width="0.75" />
<line x1="133.13" y1="35.48" x2="135.13" y2="35.48" stroke="#444" stroke-width="0.75" />
<line x1="133.13" y1="51.12" x2="135.13" y2="51.12" stroke="#444" stroke-width="0.75" />
<circle cx="134.13" cy="43.30" r="0.9" fill="#222"/>
<line x1="142.20" y1="86.54" x2="142.20" y2="93.90" stroke="#444" stroke-width="0.75" />
<line x1="141.20" y1="86.54" x2="143.20" y2="86.54" stroke="#444" stroke-width="0.75" />
<line x1="141.20" y1="93.90" x2="143.20" y2="93.90" stroke="#444" stroke-width="0.75" />
<circle cx="142.20" cy="90.22" r="0.9" fill="#222"/>
<line x1="150.26" y1="103.10" x2="150.26" y2="110.46" stroke="#444" stroke-width="0.75" />
<line x1="149.26" y1="103.10" x2="151.26" y2="103.10" stroke="#444" stroke-width="0.75" />
<line x1="149.26" y1="110.46" x2="151.26" y2="110.46" stroke="#444" stroke-width="0.75" />
<circle cx="150.26" cy="106.78" r="0.9" fill="#222"/>
<line x1="158.33" y1="80.56" x2="158.33" y2="89.76" stroke="#444" stroke-width="0.75" />
<line x1="157.33" y1="80.56" x2="159.33" y2="80.56" stroke="#444" stroke-width="0.75" />
<line x1="157.33" y1="89.76" x2="159.33" y2="89.76" stroke="#444" stroke-width="0.75" />
<circle cx="158.33" cy="85.16" r="0.9" fill="#222"/>
<line x1="166.40" y1="89.76" x2="166.40" y2="97.12" stroke="#444" stroke-width="0.75" />
<line x1="165.40" y1="89.76" x2="167.40" y2="89.76" stroke="#444" stroke-width="0.75" />
<line x1="165.40" y1="97.12" x2="167.40" y2="97.12" stroke="#444" stroke-width="0.75" />
<circle cx="166.40" cy="93.44" r="0.9" fill="#222"/>
<line x1="174.46" y1="65.38" x2="174.46" y2="74.58" stroke="#444" stroke-width="0.75" />
<line x1="173.46" y1="65.38" x2="175.46" y2="65.38" stroke="#444" stroke-width="0.75" />
<line x1="173.46" y1="74.58" x2="175.46" y2="74.58" stroke="#444" stroke-width="0.75" />
<circle cx="174.46" cy="69.98" r="0.9" fill="#222"/>
<line x1="182.53" y1="71.82" x2="182.53" y2="79.18" stroke="#444" stroke-width="0.75" />
<line x1="181.53" y1="71.82" x2="183.53" y2="71.82" stroke="#444" stroke-width="0.75" />
<line x1="181.53" y1="79.18" x2="183.53" y2="79.18" stroke="#444" stroke-width="0.75" />
<circle cx="182.53" cy="75.50" r="0.9" fill="#222"/>
<line x1="190.60" y1="69.06" x2="190.60" y2="80.10" stroke="#444" stroke-width="0.75" />
<line x1="189.60" y1="69.06" x2="191.60" y2="69.06" stroke="#444" stroke-width="0.75" />
<line x1="189.60" y1="80.10" x2="191.60" y2="80.10" stroke="#444" stroke-width="0.75" />
<circle cx="190.60" cy="74.58" r="0.9" fill="#222"/>
<line x1="53.47" y1="121.96" x2="53.47" y2="125.64" stroke="#444" stroke-width="0.75" />
<line x1="52.47" y1="121.96" x2="54.47" y2="121.96" stroke="#444" stroke-width="0.75" />
<line x1="52.47" y1="125.64" x2="54.47" y2="125.64" stroke="#444" stroke-width="0.75" />
<circle cx="53.47" cy="123.80" r="0.9" fill="#222"/>
<line x1="61.53" y1="99.42" x2="61.53" y2="106.78" stroke="#444" stroke-width="0.75" />
<line x1="60.53" y1="99.42" x2="62.53" y2="99.42" stroke="#444" stroke-width="0.75" />
<line x1="60.53" y1="106.78" x2="62.53" y2="106.78" stroke="#444" stroke-width="0.75" />
<circle cx="61.53" cy="103.10" r="0.9" fill="#222"/>
<line x1="69.60" y1="92.52" x2="69.60" y2="98.96" stroke="#444" stroke-width="0.75" />
<line x1="68.60" y1="92.52" x2="70.60" y2="92.52" stroke="#444" stroke-width="0.75" />
<line x1="68.60" y1="98.96" x2="70.60" y2="98.96" stroke="#444" stroke-width="0.75" />
<circle cx="69.60" cy="95.74" r="0.9" fill="#222"/>
<line x1="77.67" y1="97.58" x2="77.67" y2="104.02" stroke="#444" stroke-width="0.75" />
<line x1="76.67" y1="97.58" x2="78.67" y2="97.58" stroke="#444" stroke-width="0.75" />
<line x1="76.67" y1="104.02" x2="78.67" y2="104.02" stroke="#444" stroke-width="0.75" />
<circle cx="77.67" cy="100.80" r="0.9" fill="#222"/>
<line x1="85.73" y1="88.84" x2="85.73" y2="97.12" stroke="#444" stroke-width="0.75" />
<line x1="84.73" y1="88.84" x2="86.73" y2="88.84" stroke="#444" stroke-width="0.75" />
<line x1="84.73" y1="97.12" x2="86.73" y2="97.12" stroke="#444" stroke-width="0.75" />
<circle cx="85.73" cy="92.98" r="0.9" fill="#222"/>
<line x1="93.80" y1="62.62" x2="93.80" y2="72.74" stroke="#444" stroke-width="0.75" />
<line x1="92.80" y1="62.62" x2="94.80" y2="62.62" stroke="#444" stroke-width="0.75" />
<line x1="92.80" y1="72.74" x2="94.80" y2="72.74" stroke="#444" stroke-width="0.75" />
<circle cx="93.80" cy="67.68" r="0.9" fill="#222"/>
<line x1="101.87" y1="94.82" x2="101.87" y2="99.42" stroke="#444" stroke-width="0.75" />
<line x1="100.87" y1="94.82" x2="102.87" y2="94.82" stroke="#444" stroke-width="0.75" />
<line x1="100.87" y1="99.42" x2="102.87" y2="99.42" stroke="#444" stroke-width="0.75" />
<circle cx="101.87" cy="97.12" r="0.9" fill="#222"/>
<line x1="109.93" y1="99.88" x2="109.93" y2="111.84" stroke="#444" stroke-width="0.75" />
<line x1="108.93" y1="99.88" x2="110.93" y2="99.88" stroke="#444" stroke-width="0.75" />
<line x1="108.93" y1="111.84" x2="110.93" y2="111.84" stroke="#444" stroke-width="0.75" />
<circle cx="109.93" cy="105.86" r="0.9" fill="#222"/>
<line x1="118.00" y1="103.10" x2="118.00" y2="109.54" stroke="#444" stroke-width="0.75" />
<line x1="117.00" y1="103.10" x2="119.00" y2="103.10" stroke="#444" stroke-width="0.75" />
<line x1="117.00" y1="109.54" x2="119.00" y2="109.54" stroke="#444" stroke-width="0.75" />
<circle cx="118.00" cy="106.32" r="0.9" fill="#222"/>
<line x1="126.06" y1="97.58" x2="126.06" y2="102.18" stroke="#444" stroke-width="0.75" />
<line x1="125.06" y1="97.58" x2="127.06" y2="97.58" stroke="#444" stroke-width="0.75" />
<line x1="125.06" y1="102.18" x2="127.06" y2="102.18" stroke="#444" stroke-width="0.75" />
<circle cx="126.06" cy="99.88" r="0.9" fill="#222"/>
<line x1="134.13" y1="79.64" x2="134.13" y2="87.00" stroke="#444" stroke-width="0.75" />
<line x1="133.13" y1="79.64" x2="135.13" y2="79.64" stroke="#444" stroke-width="0.75" />
<line x1="133.13" y1="87.00" x2="135.13" y2="87.00" stroke="#444" stroke-width="0.75" />
<circle cx="134.13" cy="83.32" r="0.9" fill="#222"/>
<line x1="142.20" y1="106.78" x2="142.20" y2="112.30" stroke="#444" stroke-width="0.75" />
<line x1="141.20" y1="106.78" x2="143.20" y2="106.78" stroke="#444" stroke-width="0.75" />
<line x1="141.20" y1="112.30" x2="143.20" y2="112.30" stroke="#444" stroke-width="0.75" />
<circle cx="142.20" cy="109.54" r="0.9" fill="#222"/>
<line x1="150.26" y1="110.92" x2="150.26" y2="115.52" stroke="#444" stroke-width="0.75" />
<line x1="149.26" y1="110.92" x2="151.26" y2="110.92" stroke="#444" stroke-width="0.75" />
<line x1="149.26" y1="115.52" x2="151.26" y2="115.52" stroke="#444" stroke-width="0.75" />
<circle cx="150.26" cy="113.22" r="0.9" fill="#222"/>
<line x1="158.33" y1="101.72" x2="158.33" y2="106.32" stroke="#444" stroke-width="0.75" />
<line x1="157.33" y1="101.72" x2="159.33" y2="101.72" stroke="#444" stroke-width="0.75" />
<line x1="157.33" y1="106.32" x2="159.33" y2="106.32" stroke="#444" stroke-width="0.75" />
<circle cx="158.33" cy="104.02" r="0.9" fill="#222"/>
<line x1="166.40" y1="109.08" x2="166.40" y2="112.76" stroke="#444" stroke-width="0.75" />
<line x1="165.40" y1="109.08" x2="167.40" y2="109.08" stroke="#444" stroke-width="0.75" />
<line x1="165.40" y1="112.76" x2="167.40" y2="112.76" stroke="#444" stroke-width="0.75" />
<circle cx="166.40" cy="110.92" r="0.9" fill="#222"/>
<line x1="174.46" y1="99.88" x2="174.46" y2="105.40" stroke="#444" stroke-width="0.75" />
<line x1="173.46" y1="99.88" x2="175.46" y2="99.88" stroke="#444" stroke-width="0.75" />
<line x1="173.46" y1="105.40" x2="175.46" y2="105.40" stroke="#444" stroke-width="0.75" />
<circle cx="174.46" cy="102.64" r="0.9" fill="#222"/>
<line x1="182.53" y1="97.58" x2="182.53" y2="104.02" stroke="#444" stroke-width="0.75" />
<line x1="181.53" y1="97.58" x2="183.53" y2="97.58" stroke="#444" stroke-width="0.75" />
<line x1="181.53" y1="104.02" x2="183.53" y2="104.02" stroke="#444" stroke-width="0.75" />
<circle cx="182.53" cy="100.80" r="0.9" fill="#222"/>
<line x1="190.60" y1="95.28" x2="190.60" y2="99.88" stroke="#444" stroke-width="0.75" />
<line x1="189.60" y1="95.28" x2="191.60" y2="95.28" stroke="#444" stroke-width="0.75" />
<line x1="189.60" y1="99.88" x2="191.60" y2="99.88" stroke="#444" stroke-width="0.75" />
<circle cx="190.60" cy="97.58" r="0.9" fill="#222"/>
<line x1="53.47" y1="131.16" x2="53.47" y2="133.92" stroke="#444" stroke-width="0.75" />
<line x1="52.47" y1="131.16" x2="54.47" y2="131.16" stroke="#444" stroke-width="0.75" />
<line x1="52.47" y1="133.92" x2="54.47" y2="133.92" stroke="#444" stroke-width="0.75" />
<circle cx="53.47" cy="132.54" r="0.9" fill="#222"/>
<line x1="61.53" y1="127.48" x2="61.53" y2="131.16" stroke="#444" stroke-width="0.75" />
<line x1="60.53" y1="127.48" x2="62.53" y2="127.48" stroke="#444" stroke-width="0.75" />
<line x1="60.53" y1="131.16" x2="62.53" y2="131.16" stroke="#444" stroke-width="0.75" />
<circle cx="61.53" cy="129.32" r="0.9" fill="#222"/>
<line x1="69.60" y1="122.88" x2="69.60" y2="126.56" stroke="#444" stroke-width="0.75" />
<line x1="68.60" y1="122.88" x2="70.60" y2="122.88" stroke="#444" stroke-width="0.75" />
<line x1="68.60" y1="126.56" x2="70.60" y2="126.56" stroke="#444" stroke-width="0.75" />
<circle cx="69.60" cy="124.72" r="0.9" fill="#222"/>
<line x1="77.67" y1="121.04" x2="77.67" y2="124.72" stroke="#444" stroke-width="0.75" />
<line x1="76.67" y1="121.04" x2="78.67" y2="121.04" stroke="#444" stroke-width="0.75" />
<line x1="76.67" y1="124.72" x2="78.67" y2="124.72" stroke="#444" stroke-width="0.75" />
<circle cx="77.67" cy="122.88" r="0.9" fill="#222"/>
<line x1="85.73" y1="117.82" x2="85.73" y2="121.50" stroke="#444" stroke-width="0.75" />
<line x1="84.73" y1="117.82" x2="86.73" y2="117.82" stroke="#444" stroke-width="0.75" />
<line x1="84.73" y1="121.50" x2="86.73" y2="121.50" stroke="#444" stroke-width="0.75" />
<circle cx="85.73" cy="119.66" r="0.9" fill="#222"/>
<line x1="93.80" y1="102.64" x2="93.80" y2="107.24" stroke="#444" stroke-width="0.75" />
<line x1="92.80" y1="102.64" x2="94.80" y2="102.64" stroke="#444" stroke-width="0.75" />
<line x1="92.80" y1="107.24" x2="94.80" y2="107.24" stroke="#444" stroke-width="0.75" />
<circle cx="93.80" cy="104.94" r="0.9" fill="#222"/>
<line x1="101.87" y1="112.76" x2="101.87" y2="118.28" stroke="#444" stroke-width="0.75" />
<line x1="100.87" y1="112.76" x2="102.87" y2="112.76" stroke="#444" stroke-width="0.75" />
<line x1="100.87" y1="118.28" x2="102.87" y2="118.28" stroke="#444" stroke-width="0.75" />
<circle cx="101.87" cy="115.52" r="0.9" fill="#222"/>
<line x1="109.93" y1="116.44" x2="109.93" y2="122.88" stroke="#444" stroke-width="0.75" />
<line x1="108.93" y1="116.44" x2="110.93" y2="116.44" stroke="#444" stroke-width="0.75" />
<line x1="108.93" y1="122.88" x2="110.93" y2="122.88" stroke="#444" stroke-width="0.75" />
<circle cx="109.93" cy="119.66" r="0.9" fill="#222"/>
<line x1="118.00" y1="112.76" x2="118.00" y2="116.44" stroke="#444" stroke-width="0.75" />
<line x1="117.00" y1="112.76" x2="119.00" y2="112.76" stroke="#444" stroke-width="0.75" />
<line x1="117.00" y1="116.44" x2="119.00" y2="116.44" stroke="#444" stroke-width="0.75" />
<circle cx="118.00" cy="114.60" r="0.9" fill="#222"/>
<line x1="126.06" y1="112.30" x2="126.06" y2="115.98" stroke="#444" stroke-width="0.75" />
<line x1="125.06" y1="112.30" x2="127.06" y2="112.30" stroke="#444" stroke-width="0.75" />
<line x1="125.06" y1="115.98" x2="127.06" y2="115.98" stroke="#444" stroke-width="0.75" />
<circle cx="126.06" cy="114.14" r="0.9" fill="#222"/>
<line x1="134.13" y1="91.60" x2="134.13" y2="107.24" stroke="#444" stroke-width="0.75" />
<line x1="133.13" y1="91.60" x2="135.13" y2="91.60" stroke="#444" stroke-width="0.75" />
<line x1="133.13" y1="107.24" x2="135.13" y2="107.24" stroke="#444" stroke-width="0.75" />
<circle cx="134.13" cy="99.42" r="0.9" fill="#222"/>
<line x1="142.20" y1="115.98" x2="142.20" y2="119.66" stroke="#444" stroke-width="0.75" />
<line x1="141.20" y1="115.98" x2="143.20" y2="115.98" stroke="#444" stroke-width="0.75" />
<line x1="141.20" y1="119.66" x2="143.20" y2="119.66" stroke="#444" stroke-width="0.75" />
<circle cx="142.20" cy="117.82" r="0.9" fill="#222"/>
<line x1="150.26" y1="116.90" x2="150.26" y2="121.50" stroke="#444" stroke-width="0.75" />
<line x1="149.26" y1="116.90" x2="151.26" y2="116.90" stroke="#444" stroke-width="0.75" />
<line x1="149.26" y1="121.50" x2="151.26" y2="121.50" stroke="#444" stroke-width="0.75" />
<circle cx="150.26" cy="119.20" r="0.9" fill="#222"/>
<line x1="158.33" y1="115.06" x2="158.33" y2="117.82" stroke="#444" stroke-width="0.75" />
<line x1="157.33" y1="115.06" x2="159.33" y2="115.06" stroke="#444" stroke-width="0.75" />
<line x1="157.33" y1="117.82" x2="159.33" y2="117.82" stroke="#444" stroke-width="0.75" />
<circle cx="158.33" cy="116.44" r="0.9" fill="#222"/>
<line x1="166.40" y1="115.98" x2="166.40" y2="118.74" stroke="#444" stroke-width="0.75" />
<line x1="165.40" y1="115.98" x2="167.40" y2="115.98" stroke="#444" stroke-width="0.75" />
<line x1="165.40" y1="118.74" x2="167.40" y2="118.74" stroke="#444" stroke-width="0.75" />
<circle cx="166.40" cy="117.36" r="0.9" fill="#222"/>
<line x1="174.46" y1="110.00" x2="174.46" y2="114.60" stroke="#444" stroke-width="0.75" />
<line x1="173.46" y1="110.00" x2="175.46" y2="110.00" stroke="#444" stroke-width="0.75" />
<line x1="173.46" y1="114.60" x2="175.46" y2="114.60" stroke="#444" stroke-width="0.75" />
<circle cx="174.46" cy="112.30" r="0.9" fill="#222"/>
<line x1="182.53" y1="107.70" x2="182.53" y2="114.14" stroke="#444" stroke-width="0.75" />
<line x1="181.53" y1="107.70" x2="183.53" y2="107.70" stroke="#444" stroke-width="0.75" />
<line x1="181.53" y1="114.14" x2="183.53" y2="114.14" stroke="#444" stroke-width="0.75" />
<circle cx="182.53" cy="110.92" r="0.9" fill="#222"/>
<line x1="190.60" y1="106.78" x2="190.60" y2="109.54" stroke="#444" stroke-width="0.75" />
<line x1="189.60" y1="106.78" x2="191.60" y2="106.78" stroke="#444" stroke-width="0.75" />
<line x1="189.60" y1="109.54" x2="191.60" y2="109.54" stroke="#444" stroke-width="0.75" />
<circle cx="190.60" cy="108.16" r="0.9" fill="#222"/>
<line x1="53.47" y1="136.68" x2="53.47" y2="137.60" stroke="#444" stroke-width="0.75" />
<line x1="52.47" y1="136.68" x2="54.47" y2="136.68" stroke="#444" stroke-width="0.75" />
<line x1="52.47" y1="137.60" x2="54.47" y2="137.60" stroke="#444" stroke-width="0.75" />
<circle cx="53.47" cy="137.14" r="0.9" fill="#222"/>
<line x1="61.53" y1="136.68" x2="61.53" y2="137.60" stroke="#444" stroke-width="0.75" />
<line x1="60.53" y1="136.68" x2="62.53" y2="136.68" stroke="#444" stroke-width="0.75" />
<line x1="60.53" y1="137.60" x2="62.53" y2="137.60" stroke="#444" stroke-width="0.75" />
<circle cx="61.53" cy="137.14" r="0.9" fill="#222"/>
<line x1="69.60" y1="136.68" x2="69.60" y2="137.60" stroke="#444" stroke-width="0.75" />
<line x1="68.60" y1="136.68" x2="70.60" y2="136.68" stroke="#444" stroke-width="0.75" />
<line x1="68.60" y1="137.60" x2="70.60" y2="137.60" stroke="#444" stroke-width="0.75" />
<circle cx="69.60" cy="137.14" r="0.9" fill="#222"/>
<line x1="77.67" y1="136.68" x2="77.67" y2="137.60" stroke="#444" stroke-width="0.75" />
<line x1="76.67" y1="136.68" x2="78.67" y2="136.68" stroke="#444" stroke-width="0.75" />
<line x1="76.67" y1="137.60" x2="78.67" y2="137.60" stroke="#444" stroke-width="0.75" />
<circle cx="77.67" cy="137.14" r="0.9" fill="#222"/>
<line x1="85.73" y1="136.68" x2="85.73" y2="137.60" stroke="#444" stroke-width="0.75" />
<line x1="84.73" y1="136.68" x2="86.73" y2="136.68" stroke="#444" stroke-width="0.75" />
<line x1="84.73" y1="137.60" x2="86.73" y2="137.60" stroke="#444" stroke-width="0.75" />
<circle cx="85.73" cy="137.14" r="0.9" fill="#222"/>
<line x1="93.80" y1="136.68" x2="93.80" y2="137.60" stroke="#444" stroke-width="0.75" />
<line x1="92.80" y1="136.68" x2="94.80" y2="136.68" stroke="#444" stroke-width="0.75" />
<line x1="92.80" y1="137.60" x2="94.80" y2="137.60" stroke="#444" stroke-width="0.75" />
<circle cx="93.80" cy="137.14" r="0.9" fill="#222"/>
<line x1="101.87" y1="136.68" x2="101.87" y2="137.60" stroke="#444" stroke-width="0.75" />
<line x1="100.87" y1="136.68" x2="102.87" y2="136.68" stroke="#444" stroke-width="0.75" />
<line x1="100.87" y1="137.60" x2="102.87" y2="137.60" stroke="#444" stroke-width="0.75" />
<circle cx="101.87" cy="137.14" r="0.9" fill="#222"/>
<line x1="109.93" y1="134.84" x2="109.93" y2="135.76" stroke="#444" stroke-width="0.75" />
<line x1="108.93" y1="134.84" x2="110.93" y2="134.84" stroke="#444" stroke-width="0.75" />
<line x1="108.93" y1="135.76" x2="110.93" y2="135.76" stroke="#444" stroke-width="0.75" />
<circle cx="109.93" cy="135.30" r="0.9" fill="#222"/>
<line x1="118.00" y1="135.76" x2="118.00" y2="136.68" stroke="#444" stroke-width="0.75" />
<line x1="117.00" y1="135.76" x2="119.00" y2="135.76" stroke="#444" stroke-width="0.75" />
<line x1="117.00" y1="136.68" x2="119.00" y2="136.68" stroke="#444" stroke-width="0.75" />
<circle cx="118.00" cy="136.22" r="0.9" fill="#222"/>
<line x1="126.06" y1="134.84" x2="126.06" y2="135.76" stroke="#444" stroke-width="0.75" />
<line x1="125.06" y1="134.84" x2="127.06" y2="134.84" stroke="#444" stroke-width="0.75" />
<line x1="125.06" y1="135.76" x2="127.06" y2="135.76" stroke="#444" stroke-width="0.75" />
<circle cx="126.06" cy="135.30" r="0.9" fill="#222"/>
<line x1="134.13" y1="134.84" x2="134.13" y2="135.76" stroke="#444" stroke-width="0.75" />
<line x1="133.13" y1="134.84" x2="135.13" y2="134.84" stroke="#444" stroke-width="0.75" />
<line x1="133.13" y1="135.76" x2="135.13" y2="135.76" stroke="#444" stroke-width="0.75" />
<circle cx="134.13" cy="135.30" r="0.9" fill="#222"/>
<line x1="142.20" y1="136.91" x2="142.20" y2="137.83" stroke="#444" stroke-width="0.75" />
<line x1="141.20" y1="136.91" x2="143.20" y2="136.91" stroke="#444" stroke-width="0.75" />
<line x1="141.20" y1="137.83" x2="143.20" y2="137.83" stroke="#444" stroke-width="0.75" />
<circle cx="142.20" cy="137.37" r="0.9" fill="#222"/>
<line x1="150.26" y1="135.30" x2="150.26" y2="136.22" stroke="#444" stroke-width="0.75" />
<line x1="149.26" y1="135.30" x2="151.26" y2="135.30" stroke="#444" stroke-width="0.75" />
<line x1="149.26" y1="136.22" x2="151.26" y2="136.22" stroke="#444" stroke-width="0.75" />
<circle cx="150.26" cy="135.76" r="0.9" fill="#222"/>
<line x1="158.33" y1="136.22" x2="158.33" y2="137.14" stroke="#444" stroke-width="0.75" />
<line x1="157.33" y1="136.22" x2="159.33" y2="136.22" stroke="#444" stroke-width="0.75" />
<line x1="157.33" y1="137.14" x2="159.33" y2="137.14" stroke="#444" stroke-width="0.75" />
<circle cx="158.33" cy="136.68" r="0.9" fill="#222"/>
<line x1="166.40" y1="136.22" x2="166.40" y2="137.14" stroke="#444" stroke-width="0.75" />
<line x1="165.40" y1="136.22" x2="167.40" y2="136.22" stroke="#444" stroke-width="0.75" />
<line x1="165.40" y1="137.14" x2="167.40" y2="137.14" stroke="#444" stroke-width="0.75" />
<circle cx="166.40" cy="136.68" r="0.9" fill="#222"/>
<line x1="174.46" y1="136.22" x2="174.46" y2="137.14" stroke="#444" stroke-width="0.75" />
<line x1="173.46" y1="136.22" x2="175.46" y2="136.22" stroke="#444" stroke-width="0.75" />
<line x1="173.46" y1="137.14" x2="175.46" y2="137.14" stroke="#444" stroke-width="0.75" />
<circle cx="174.46" cy="136.68" r="0.9" fill="#222"/>
<line x1="182.53" y1="136.22" x2="182.53" y2="137.14" stroke="#444" stroke-width="0.75" />
<line x1="181.53" y1="136.22" x2="183.53" y2="136.22" stroke="#444" stroke-width="0.75" />
<line x1="181.53" y1="137.14" x2="183.53" y2="137.14" stroke="#444" stroke-width="0.75" />
<circle cx="182.53" cy="136.68" r="0.9" fill="#222"/>
<line x1="190.60" y1="136.22" x2="190.60" y2="137.14" stroke="#444" stroke-width="0.75" />
<line x1="189.60" y1="136.22" x2="191.60" y2="136.22" stroke="#444" stroke-width="0.75" />
<line x1="189.60" y1="137.14" x2="191.60" y2="137.14" stroke="#444" stroke-width="0.75" />
<circle cx="190.60" cy="136.68" r="0.9" fill="#222"/>
<text x="203.80" y="51.00" font-size="8" font-weight="bold" fill="#c43a3a" stroke="#c43a3a" stroke-width="0.20" text-anchor="start" >TFF1</text>
<text x="203.80" y="61.45" font-size="8" font-weight="bold" fill="#2424a8" stroke="#2424a8" stroke-width="0.20" text-anchor="start" >GREB1</text>
<text x="203.80" y="71.90" font-size="8" font-weight="bold" fill="#2a8c2a" stroke="#2a8c2a" stroke-width="0.20" text-anchor="start" >XBP1</text>
<text x="203.80" y="82.35" font-size="8" font-weight="bold" fill="#78cce2" stroke="#78cce2" stroke-width="0.20" text-anchor="start" >Control</text>
<text x="329.00" y="5.60" font-size="7.4" font-weight="bold" fill="#1a1a1a" stroke="#1a1a1a" stroke-width="0.19" text-anchor="middle" >FBS</text>
<text x="453.00" y="5.80" font-size="7.4" font-weight="bold" fill="#1a1a1a" stroke="#1a1a1a" stroke-width="0.19" text-anchor="middle" >FBS + tamoxifen</text>
<text x="331.20" y="12.80" font-size="4.6" font-weight="bold" fill="#222" stroke="#222" stroke-width="0.11" text-anchor="middle" font-style="italic">Inhibitor concentration</text>
<line x1="305.90" y1="14.00" x2="356.50" y2="14.00" stroke="#888" stroke-width="0.9" />
<text x="451.20" y="12.80" font-size="4.6" font-weight="bold" fill="#222" stroke="#222" stroke-width="0.11" text-anchor="middle" font-style="italic">Inhibitor concentration</text>
<line x1="425.90" y1="14.00" x2="476.50" y2="14.00" stroke="#888" stroke-width="0.9" />
<text x="276.30" y="43.50" font-size="4.6" font-weight="bold" fill="#1a1a1a" stroke="#1a1a1a" stroke-width="0.11" text-anchor="end" >MCF7</text>
<circle cx="288.40" cy="41.90" r="5.4" fill="url(#w1)" stroke="#c8c8e4" stroke-width="0.3"/>
<circle cx="288.40" cy="41.90" r="5.0" fill="#000" filter="url(#wtex)" opacity="0.45"/>
<circle cx="288.40" cy="41.90" r="4.6" fill="#000" filter="url(#wtex2)" opacity="0.5"/>
<circle cx="302.02" cy="41.90" r="5.4" fill="url(#w2)" stroke="#c8c8e4" stroke-width="0.3"/>
<circle cx="302.02" cy="41.90" r="5.0" fill="#000" filter="url(#wtex)" opacity="0.43"/>
<circle cx="302.02" cy="41.90" r="4.6" fill="#000" filter="url(#wtex2)" opacity="0.5"/>
<circle cx="315.64" cy="41.90" r="5.4" fill="url(#w3)" stroke="#c8c8e4" stroke-width="0.3"/>
<circle cx="315.64" cy="41.90" r="5.0" fill="#000" filter="url(#wtex)" opacity="0.34"/>
<circle cx="315.64" cy="41.90" r="4.6" fill="#000" filter="url(#wtex2)" opacity="0.5"/>
<circle cx="329.26" cy="41.90" r="5.4" fill="url(#w4)" stroke="#c8c8e4" stroke-width="0.3"/>
<circle cx="329.26" cy="41.90" r="5.0" fill="#000" filter="url(#wtex)" opacity="0.25"/>
<circle cx="329.26" cy="41.90" r="4.6" fill="#000" filter="url(#wtex2)" opacity="0.5"/>
<circle cx="342.88" cy="41.90" r="5.4" fill="url(#w5)" stroke="#c8c8e4" stroke-width="0.3"/>
<circle cx="342.88" cy="41.90" r="5.0" fill="#000" filter="url(#wtex)" opacity="0.25"/>
<circle cx="342.88" cy="41.90" r="4.6" fill="#000" filter="url(#wtex2)" opacity="0.5"/>
<circle cx="356.50" cy="41.90" r="5.4" fill="url(#w6)" stroke="#c8c8e4" stroke-width="0.3"/>
<circle cx="356.50" cy="41.90" r="5.0" fill="#000" filter="url(#wtex)" opacity="0.25"/>
<circle cx="356.50" cy="41.90" r="4.6" fill="#000" filter="url(#wtex2)" opacity="0.5"/>
<circle cx="370.12" cy="41.90" r="5.4" fill="url(#w7)" stroke="#c8c8e4" stroke-width="0.3"/>
<circle cx="370.12" cy="41.90" r="5.0" fill="#000" filter="url(#wtex)" opacity="0.25"/>
<circle cx="370.12" cy="41.90" r="4.6" fill="#000" filter="url(#wtex2)" opacity="0.5"/>
<text x="276.30" y="57.65" font-size="4.6" font-weight="bold" fill="#1a1a1a" stroke="#1a1a1a" stroke-width="0.11" text-anchor="end" >T47D</text>
<circle cx="288.40" cy="56.05" r="5.4" fill="url(#w8)" stroke="#c8c8e4" stroke-width="0.3"/>
<circle cx="288.40" cy="56.05" r="5.0" fill="#000" filter="url(#wtex)" opacity="0.60"/>
<circle cx="288.40" cy="56.05" r="4.6" fill="#000" filter="url(#wtex2)" opacity="0.5"/>
<circle cx="302.02" cy="56.05" r="5.4" fill="url(#w9)" stroke="#c8c8e4" stroke-width="0.3"/>
<circle cx="302.02" cy="56.05" r="5.0" fill="#000" filter="url(#wtex)" opacity="0.62"/>
<circle cx="302.02" cy="56.05" r="4.6" fill="#000" filter="url(#wtex2)" opacity="0.5"/>
<circle cx="315.64" cy="56.05" r="5.4" fill="url(#w10)" stroke="#c8c8e4" stroke-width="0.3"/>
<circle cx="315.64" cy="56.05" r="5.0" fill="#000" filter="url(#wtex)" opacity="0.53"/>
<circle cx="315.64" cy="56.05" r="4.6" fill="#000" filter="url(#wtex2)" opacity="0.5"/>
<circle cx="329.26" cy="56.05" r="5.4" fill="url(#w11)" stroke="#c8c8e4" stroke-width="0.3"/>
<circle cx="329.26" cy="56.05" r="5.0" fill="#000" filter="url(#wtex)" opacity="0.38"/>
<circle cx="329.26" cy="56.05" r="4.6" fill="#000" filter="url(#wtex2)" opacity="0.5"/>
<circle cx="342.88" cy="56.05" r="5.4" fill="url(#w12)" stroke="#c8c8e4" stroke-width="0.3"/>
<circle cx="342.88" cy="56.05" r="5.0" fill="#000" filter="url(#wtex)" opacity="0.28"/>
<circle cx="342.88" cy="56.05" r="4.6" fill="#000" filter="url(#wtex2)" opacity="0.5"/>
<circle cx="356.50" cy="56.05" r="5.4" fill="url(#w13)" stroke="#c8c8e4" stroke-width="0.3"/>
<circle cx="356.50" cy="56.05" r="5.0" fill="#000" filter="url(#wtex)" opacity="0.28"/>
<circle cx="356.50" cy="56.05" r="4.6" fill="#000" filter="url(#wtex2)" opacity="0.5"/>
<circle cx="370.12" cy="56.05" r="5.4" fill="url(#w14)" stroke="#c8c8e4" stroke-width="0.3"/>
<circle cx="370.12" cy="56.05" r="5.0" fill="#000" filter="url(#wtex)" opacity="0.28"/>
<circle cx="370.12" cy="56.05" r="4.6" fill="#000" filter="url(#wtex2)" opacity="0.5"/>
<text x="276.30" y="71.80" font-size="4.6" font-weight="bold" fill="#1a1a1a" stroke="#1a1a1a" stroke-width="0.11" text-anchor="end" >MCF7-T</text>
<circle cx="288.40" cy="70.20" r="5.4" fill="url(#w15)" stroke="#c8c8e4" stroke-width="0.3"/>
<circle cx="288.40" cy="70.20" r="5.0" fill="#000" filter="url(#wtex)" opacity="0.38"/>
<circle cx="288.40" cy="70.20" r="4.6" fill="#000" filter="url(#wtex2)" opacity="0.5"/>
<circle cx="302.02" cy="70.20" r="5.4" fill="url(#w16)" stroke="#c8c8e4" stroke-width="0.3"/>
<circle cx="302.02" cy="70.20" r="5.0" fill="#000" filter="url(#wtex)" opacity="0.32"/>
<circle cx="302.02" cy="70.20" r="4.6" fill="#000" filter="url(#wtex2)" opacity="0.5"/>
<circle cx="315.64" cy="70.20" r="5.4" fill="url(#w17)" stroke="#c8c8e4" stroke-width="0.3"/>
<circle cx="315.64" cy="70.20" r="5.0" fill="#000" filter="url(#wtex)" opacity="0.28"/>
<circle cx="315.64" cy="70.20" r="4.6" fill="#000" filter="url(#wtex2)" opacity="0.5"/>
<circle cx="329.26" cy="70.20" r="5.4" fill="url(#w18)" stroke="#c8c8e4" stroke-width="0.3"/>
<circle cx="329.26" cy="70.20" r="5.0" fill="#000" filter="url(#wtex)" opacity="0.28"/>
<circle cx="329.26" cy="70.20" r="4.6" fill="#000" filter="url(#wtex2)" opacity="0.5"/>
<circle cx="342.88" cy="70.20" r="5.4" fill="url(#w19)" stroke="#c8c8e4" stroke-width="0.3"/>
<circle cx="342.88" cy="70.20" r="5.0" fill="#000" filter="url(#wtex)" opacity="0.28"/>
<circle cx="342.88" cy="70.20" r="4.6" fill="#000" filter="url(#wtex2)" opacity="0.5"/>
<circle cx="356.50" cy="70.20" r="5.4" fill="url(#w20)" stroke="#c8c8e4" stroke-width="0.3"/>
<circle cx="356.50" cy="70.20" r="5.0" fill="#000" filter="url(#wtex)" opacity="0.26"/>
<circle cx="356.50" cy="70.20" r="4.6" fill="#000" filter="url(#wtex2)" opacity="0.5"/>
<circle cx="370.12" cy="70.20" r="5.4" fill="url(#w21)" stroke="#c8c8e4" stroke-width="0.3"/>
<circle cx="370.12" cy="70.20" r="5.0" fill="#000" filter="url(#wtex)" opacity="0.28"/>
<circle cx="370.12" cy="70.20" r="4.6" fill="#000" filter="url(#wtex2)" opacity="0.5"/>
<text x="276.30" y="85.95" font-size="4.6" font-weight="bold" fill="#1a1a1a" stroke="#1a1a1a" stroke-width="0.11" text-anchor="end" >TAM-R</text>
<circle cx="288.40" cy="84.35" r="5.4" fill="url(#w22)" stroke="#c8c8e4" stroke-width="0.3"/>
<circle cx="288.40" cy="84.35" r="5.0" fill="#000" filter="url(#wtex)" opacity="0.40"/>
<circle cx="288.40" cy="84.35" r="4.6" fill="#000" filter="url(#wtex2)" opacity="0.5"/>
<circle cx="302.02" cy="84.35" r="5.4" fill="url(#w23)" stroke="#c8c8e4" stroke-width="0.3"/>
<circle cx="302.02" cy="84.35" r="5.0" fill="#000" filter="url(#wtex)" opacity="0.35"/>
<circle cx="302.02" cy="84.35" r="4.6" fill="#000" filter="url(#wtex2)" opacity="0.5"/>
<circle cx="315.64" cy="84.35" r="5.4" fill="url(#w24)" stroke="#c8c8e4" stroke-width="0.3"/>
<circle cx="315.64" cy="84.35" r="5.0" fill="#000" filter="url(#wtex)" opacity="0.30"/>
<circle cx="315.64" cy="84.35" r="4.6" fill="#000" filter="url(#wtex2)" opacity="0.5"/>
<circle cx="329.26" cy="84.35" r="5.4" fill="url(#w25)" stroke="#c8c8e4" stroke-width="0.3"/>
<circle cx="329.26" cy="84.35" r="5.0" fill="#000" filter="url(#wtex)" opacity="0.30"/>
<circle cx="329.26" cy="84.35" r="4.6" fill="#000" filter="url(#wtex2)" opacity="0.5"/>
<circle cx="342.88" cy="84.35" r="5.4" fill="url(#w26)" stroke="#c8c8e4" stroke-width="0.3"/>
<circle cx="342.88" cy="84.35" r="5.0" fill="#000" filter="url(#wtex)" opacity="0.29"/>
<circle cx="342.88" cy="84.35" r="4.6" fill="#000" filter="url(#wtex2)" opacity="0.5"/>
<circle cx="356.50" cy="84.35" r="5.4" fill="url(#w27)" stroke="#c8c8e4" stroke-width="0.3"/>
<circle cx="356.50" cy="84.35" r="5.0" fill="#000" filter="url(#wtex)" opacity="0.28"/>
<circle cx="356.50" cy="84.35" r="4.6" fill="#000" filter="url(#wtex2)" opacity="0.5"/>
<circle cx="370.12" cy="84.35" r="5.4" fill="url(#w28)" stroke="#c8c8e4" stroke-width="0.3"/>
<circle cx="370.12" cy="84.35" r="5.0" fill="#000" filter="url(#wtex)" opacity="0.30"/>
<circle cx="370.12" cy="84.35" r="4.6" fill="#000" filter="url(#wtex2)" opacity="0.5"/>
<text x="276.30" y="100.10" font-size="4.6" font-weight="bold" fill="#1a1a1a" stroke="#1a1a1a" stroke-width="0.11" text-anchor="end" >BT20</text>
<circle cx="288.40" cy="98.50" r="5.4" fill="url(#w29)" stroke="#c8c8e4" stroke-width="0.3"/>
<circle cx="288.40" cy="98.50" r="5.0" fill="#000" filter="url(#wtex)" opacity="0.32"/>
<circle cx="288.40" cy="98.50" r="4.6" fill="#000" filter="url(#wtex2)" opacity="0.5"/>
<circle cx="302.02" cy="98.50" r="5.4" fill="url(#w30)" stroke="#c8c8e4" stroke-width="0.3"/>
<circle cx="302.02" cy="98.50" r="5.0" fill="#000" filter="url(#wtex)" opacity="0.32"/>
<circle cx="302.02" cy="98.50" r="4.6" fill="#000" filter="url(#wtex2)" opacity="0.5"/>
<circle cx="315.64" cy="98.50" r="5.4" fill="url(#w31)" stroke="#c8c8e4" stroke-width="0.3"/>
<circle cx="315.64" cy="98.50" r="5.0" fill="#000" filter="url(#wtex)" opacity="0.35"/>
<circle cx="315.64" cy="98.50" r="4.6" fill="#000" filter="url(#wtex2)" opacity="0.5"/>
<circle cx="329.26" cy="98.50" r="5.4" fill="url(#w32)" stroke="#c8c8e4" stroke-width="0.3"/>
<circle cx="329.26" cy="98.50" r="5.0" fill="#000" filter="url(#wtex)" opacity="0.30"/>
<circle cx="329.26" cy="98.50" r="4.6" fill="#000" filter="url(#wtex2)" opacity="0.5"/>
<circle cx="342.88" cy="98.50" r="5.4" fill="url(#w33)" stroke="#c8c8e4" stroke-width="0.3"/>
<circle cx="342.88" cy="98.50" r="5.0" fill="#000" filter="url(#wtex)" opacity="0.29"/>
<circle cx="342.88" cy="98.50" r="4.6" fill="#000" filter="url(#wtex2)" opacity="0.5"/>
<circle cx="356.50" cy="98.50" r="5.4" fill="url(#w34)" stroke="#c8c8e4" stroke-width="0.3"/>
<circle cx="356.50" cy="98.50" r="5.0" fill="#000" filter="url(#wtex)" opacity="0.28"/>
<circle cx="356.50" cy="98.50" r="4.6" fill="#000" filter="url(#wtex2)" opacity="0.5"/>
<circle cx="370.12" cy="98.50" r="5.4" fill="url(#w35)" stroke="#c8c8e4" stroke-width="0.3"/>
<circle cx="370.12" cy="98.50" r="5.0" fill="#000" filter="url(#wtex)" opacity="0.26"/>
<circle cx="370.12" cy="98.50" r="4.6" fill="#000" filter="url(#wtex2)" opacity="0.5"/>
<text x="276.30" y="114.25" font-size="4.6" font-weight="bold" fill="#1a1a1a" stroke="#1a1a1a" stroke-width="0.11" text-anchor="end" >CAL120</text>
<circle cx="288.40" cy="112.65" r="5.4" fill="url(#w36)" stroke="#c8c8e4" stroke-width="0.3"/>
<circle cx="288.40" cy="112.65" r="5.0" fill="#000" filter="url(#wtex)" opacity="0.53"/>
<circle cx="288.40" cy="112.65" r="4.6" fill="#000" filter="url(#wtex2)" opacity="0.5"/>
<circle cx="302.02" cy="112.65" r="5.4" fill="url(#w37)" stroke="#c8c8e4" stroke-width="0.3"/>
<circle cx="302.02" cy="112.65" r="5.0" fill="#000" filter="url(#wtex)" opacity="0.55"/>
<circle cx="302.02" cy="112.65" r="4.6" fill="#000" filter="url(#wtex2)" opacity="0.5"/>
<circle cx="315.64" cy="112.65" r="5.4" fill="url(#w38)" stroke="#c8c8e4" stroke-width="0.3"/>
<circle cx="315.64" cy="112.65" r="5.0" fill="#000" filter="url(#wtex)" opacity="0.50"/>
<circle cx="315.64" cy="112.65" r="4.6" fill="#000" filter="url(#wtex2)" opacity="0.5"/>
<circle cx="329.26" cy="112.65" r="5.4" fill="url(#w39)" stroke="#c8c8e4" stroke-width="0.3"/>
<circle cx="329.26" cy="112.65" r="5.0" fill="#000" filter="url(#wtex)" opacity="0.45"/>
<circle cx="329.26" cy="112.65" r="4.6" fill="#000" filter="url(#wtex2)" opacity="0.5"/>
<circle cx="342.88" cy="112.65" r="5.4" fill="url(#w40)" stroke="#c8c8e4" stroke-width="0.3"/>
<circle cx="342.88" cy="112.65" r="5.0" fill="#000" filter="url(#wtex)" opacity="0.38"/>
<circle cx="342.88" cy="112.65" r="4.6" fill="#000" filter="url(#wtex2)" opacity="0.5"/>
<circle cx="356.50" cy="112.65" r="5.4" fill="url(#w41)" stroke="#c8c8e4" stroke-width="0.3"/>
<circle cx="356.50" cy="112.65" r="5.0" fill="#000" filter="url(#wtex)" opacity="0.35"/>
<circle cx="356.50" cy="112.65" r="4.6" fill="#000" filter="url(#wtex2)" opacity="0.5"/>
<circle cx="370.12" cy="112.65" r="5.4" fill="url(#w42)" stroke="#c8c8e4" stroke-width="0.3"/>
<circle cx="370.12" cy="112.65" r="5.0" fill="#000" filter="url(#wtex)" opacity="0.32"/>
<circle cx="370.12" cy="112.65" r="4.6" fill="#000" filter="url(#wtex2)" opacity="0.5"/>
<text x="288.60" y="34.30" font-size="4.9" font-weight="bold" fill="#1a1a1a" stroke="#1a1a1a" stroke-width="0.12" text-anchor="start" transform="rotate(-33 288.60 34.3)">Vehicle</text>
<text x="302.22" y="34.30" font-size="4.9" font-weight="bold" fill="#1a1a1a" stroke="#1a1a1a" stroke-width="0.12" text-anchor="start" transform="rotate(-33 302.22 34.3)">25 nmol/L</text>
<text x="315.84" y="34.30" font-size="4.9" font-weight="bold" fill="#1a1a1a" stroke="#1a1a1a" stroke-width="0.12" text-anchor="start" transform="rotate(-33 315.84 34.3)">50 nmol/L</text>
<text x="329.46" y="34.30" font-size="4.9" font-weight="bold" fill="#1a1a1a" stroke="#1a1a1a" stroke-width="0.12" text-anchor="start" transform="rotate(-33 329.46 34.3)">100 nmol/L</text>
<text x="343.08" y="34.30" font-size="4.9" font-weight="bold" fill="#1a1a1a" stroke="#1a1a1a" stroke-width="0.12" text-anchor="start" transform="rotate(-33 343.08 34.3)">0.2 μmol/L</text>
<text x="356.70" y="34.30" font-size="4.9" font-weight="bold" fill="#1a1a1a" stroke="#1a1a1a" stroke-width="0.12" text-anchor="start" transform="rotate(-33 356.70 34.3)">0.4 μmol/L</text>
<text x="370.32" y="34.30" font-size="4.9" font-weight="bold" fill="#1a1a1a" stroke="#1a1a1a" stroke-width="0.12" text-anchor="start" transform="rotate(-33 370.32 34.3)">0.8 μmol/L</text>
<text x="399.60" y="43.50" font-size="4.6" font-weight="bold" fill="#1a1a1a" stroke="#1a1a1a" stroke-width="0.11" text-anchor="end" >MCF7</text>
<circle cx="408.60" cy="41.90" r="5.4" fill="url(#w43)" stroke="#c8c8e4" stroke-width="0.3"/>
<circle cx="408.60" cy="41.90" r="5.0" fill="#000" filter="url(#wtex)" opacity="0.25"/>
<circle cx="408.60" cy="41.90" r="4.6" fill="#000" filter="url(#wtex2)" opacity="0.5"/>
<circle cx="422.22" cy="41.90" r="5.4" fill="url(#w44)" stroke="#c8c8e4" stroke-width="0.3"/>
<circle cx="422.22" cy="41.90" r="5.0" fill="#000" filter="url(#wtex)" opacity="0.28"/>
<circle cx="422.22" cy="41.90" r="4.6" fill="#000" filter="url(#wtex2)" opacity="0.5"/>
<circle cx="435.84" cy="41.90" r="5.4" fill="url(#w45)" stroke="#c8c8e4" stroke-width="0.3"/>
<circle cx="435.84" cy="41.90" r="5.0" fill="#000" filter="url(#wtex)" opacity="0.25"/>
<circle cx="435.84" cy="41.90" r="4.6" fill="#000" filter="url(#wtex2)" opacity="0.5"/>
<circle cx="449.46" cy="41.90" r="5.4" fill="url(#w46)" stroke="#c8c8e4" stroke-width="0.3"/>
<circle cx="449.46" cy="41.90" r="5.0" fill="#000" filter="url(#wtex)" opacity="0.24"/>
<circle cx="449.46" cy="41.90" r="4.6" fill="#000" filter="url(#wtex2)" opacity="0.5"/>
<circle cx="463.08" cy="41.90" r="5.4" fill="url(#w47)" stroke="#c8c8e4" stroke-width="0.3"/>
<circle cx="463.08" cy="41.90" r="5.0" fill="#000" filter="url(#wtex)" opacity="0.24"/>
<circle cx="463.08" cy="41.90" r="4.6" fill="#000" filter="url(#wtex2)" opacity="0.5"/>
<circle cx="476.70" cy="41.90" r="5.4" fill="url(#w48)" stroke="#c8c8e4" stroke-width="0.3"/>
<circle cx="476.70" cy="41.90" r="5.0" fill="#000" filter="url(#wtex)" opacity="0.22"/>
<circle cx="476.70" cy="41.90" r="4.6" fill="#000" filter="url(#wtex2)" opacity="0.5"/>
<circle cx="490.32" cy="41.90" r="5.4" fill="url(#w49)" stroke="#c8c8e4" stroke-width="0.3"/>
<circle cx="490.32" cy="41.90" r="5.0" fill="#000" filter="url(#wtex)" opacity="0.22"/>
<circle cx="490.32" cy="41.90" r="4.6" fill="#000" filter="url(#wtex2)" opacity="0.5"/>
<text x="399.60" y="57.65" font-size="4.6" font-weight="bold" fill="#1a1a1a" stroke="#1a1a1a" stroke-width="0.11" text-anchor="end" >T47D</text>
<circle cx="408.60" cy="56.05" r="5.4" fill="url(#w50)" stroke="#c8c8e4" stroke-width="0.3"/>
<circle cx="408.60" cy="56.05" r="5.0" fill="#000" filter="url(#wtex)" opacity="0.45"/>
<circle cx="408.60" cy="56.05" r="4.6" fill="#000" filter="url(#wtex2)" opacity="0.5"/>
<circle cx="422.22" cy="56.05" r="5.4" fill="url(#w51)" stroke="#c8c8e4" stroke-width="0.3"/>
<circle cx="422.22" cy="56.05" r="5.0" fill="#000" filter="url(#wtex)" opacity="0.45"/>
<circle cx="422.22" cy="56.05" r="4.6" fill="#000" filter="url(#wtex2)" opacity="0.5"/>
<circle cx="435.84" cy="56.05" r="5.4" fill="url(#w52)" stroke="#c8c8e4" stroke-width="0.3"/>
<circle cx="435.84" cy="56.05" r="5.0" fill="#000" filter="url(#wtex)" opacity="0.45"/>
<circle cx="435.84" cy="56.05" r="4.6" fill="#000" filter="url(#wtex2)" opacity="0.5"/>
<circle cx="449.46" cy="56.05" r="5.4" fill="url(#w53)" stroke="#c8c8e4" stroke-width="0.3"/>
<circle cx="449.46" cy="56.05" r="5.0" fill="#000" filter="url(#wtex)" opacity="0.43"/>
<circle cx="449.46" cy="56.05" r="4.6" fill="#000" filter="url(#wtex2)" opacity="0.5"/>
<circle cx="463.08" cy="56.05" r="5.4" fill="url(#w54)" stroke="#c8c8e4" stroke-width="0.3"/>
<circle cx="463.08" cy="56.05" r="5.0" fill="#000" filter="url(#wtex)" opacity="0.38"/>
<circle cx="463.08" cy="56.05" r="4.6" fill="#000" filter="url(#wtex2)" opacity="0.5"/>
<circle cx="476.70" cy="56.05" r="5.4" fill="url(#w55)" stroke="#c8c8e4" stroke-width="0.3"/>
<circle cx="476.70" cy="56.05" r="5.0" fill="#000" filter="url(#wtex)" opacity="0.35"/>
<circle cx="476.70" cy="56.05" r="4.6" fill="#000" filter="url(#wtex2)" opacity="0.5"/>
<circle cx="490.32" cy="56.05" r="5.4" fill="url(#w56)" stroke="#c8c8e4" stroke-width="0.3"/>
<circle cx="490.32" cy="56.05" r="5.0" fill="#000" filter="url(#wtex)" opacity="0.32"/>
<circle cx="490.32" cy="56.05" r="4.6" fill="#000" filter="url(#wtex2)" opacity="0.5"/>
<text x="399.60" y="71.80" font-size="4.6" font-weight="bold" fill="#1a1a1a" stroke="#1a1a1a" stroke-width="0.11" text-anchor="end" >MCF7-T</text>
<circle cx="408.60" cy="70.20" r="5.4" fill="url(#w57)" stroke="#c8c8e4" stroke-width="0.3"/>
<circle cx="408.60" cy="70.20" r="5.0" fill="#000" filter="url(#wtex)" opacity="0.43"/>
<circle cx="408.60" cy="70.20" r="4.6" fill="#000" filter="url(#wtex2)" opacity="0.5"/>
<circle cx="422.22" cy="70.20" r="5.4" fill="url(#w58)" stroke="#c8c8e4" stroke-width="0.3"/>
<circle cx="422.22" cy="70.20" r="5.0" fill="#000" filter="url(#wtex)" opacity="0.32"/>
<circle cx="422.22" cy="70.20" r="4.6" fill="#000" filter="url(#wtex2)" opacity="0.5"/>
<circle cx="435.84" cy="70.20" r="5.4" fill="url(#w59)" stroke="#c8c8e4" stroke-width="0.3"/>
<circle cx="435.84" cy="70.20" r="5.0" fill="#000" filter="url(#wtex)" opacity="0.30"/>
<circle cx="435.84" cy="70.20" r="4.6" fill="#000" filter="url(#wtex2)" opacity="0.5"/>
<circle cx="449.46" cy="70.20" r="5.4" fill="url(#w60)" stroke="#c8c8e4" stroke-width="0.3"/>
<circle cx="449.46" cy="70.20" r="5.0" fill="#000" filter="url(#wtex)" opacity="0.28"/>
<circle cx="449.46" cy="70.20" r="4.6" fill="#000" filter="url(#wtex2)" opacity="0.5"/>
<circle cx="463.08" cy="70.20" r="5.4" fill="url(#w61)" stroke="#c8c8e4" stroke-width="0.3"/>
<circle cx="463.08" cy="70.20" r="5.0" fill="#000" filter="url(#wtex)" opacity="0.28"/>
<circle cx="463.08" cy="70.20" r="4.6" fill="#000" filter="url(#wtex2)" opacity="0.5"/>
<circle cx="476.70" cy="70.20" r="5.4" fill="url(#w62)" stroke="#c8c8e4" stroke-width="0.3"/>
<circle cx="476.70" cy="70.20" r="5.0" fill="#000" filter="url(#wtex)" opacity="0.28"/>
<circle cx="476.70" cy="70.20" r="4.6" fill="#000" filter="url(#wtex2)" opacity="0.5"/>
<circle cx="490.32" cy="70.20" r="5.4" fill="url(#w63)" stroke="#c8c8e4" stroke-width="0.3"/>
<circle cx="490.32" cy="70.20" r="5.0" fill="#000" filter="url(#wtex)" opacity="0.28"/>
<circle cx="490.32" cy="70.20" r="4.6" fill="#000" filter="url(#wtex2)" opacity="0.5"/>
<text x="399.60" y="85.95" font-size="4.6" font-weight="bold" fill="#1a1a1a" stroke="#1a1a1a" stroke-width="0.11" text-anchor="end" >TAM-R</text>
<circle cx="408.60" cy="84.35" r="5.4" fill="url(#w64)" stroke="#c8c8e4" stroke-width="0.3"/>
<circle cx="408.60" cy="84.35" r="5.0" fill="#000" filter="url(#wtex)" opacity="0.38"/>
<circle cx="408.60" cy="84.35" r="4.6" fill="#000" filter="url(#wtex2)" opacity="0.5"/>
<circle cx="422.22" cy="84.35" r="5.4" fill="url(#w65)" stroke="#c8c8e4" stroke-width="0.3"/>
<circle cx="422.22" cy="84.35" r="5.0" fill="#000" filter="url(#wtex)" opacity="0.32"/>
<circle cx="422.22" cy="84.35" r="4.6" fill="#000" filter="url(#wtex2)" opacity="0.5"/>
<circle cx="435.84" cy="84.35" r="5.4" fill="url(#w66)" stroke="#c8c8e4" stroke-width="0.3"/>
<circle cx="435.84" cy="84.35" r="5.0" fill="#000" filter="url(#wtex)" opacity="0.28"/>
<circle cx="435.84" cy="84.35" r="4.6" fill="#000" filter="url(#wtex2)" opacity="0.5"/>
<circle cx="449.46" cy="84.35" r="5.4" fill="url(#w67)" stroke="#c8c8e4" stroke-width="0.3"/>
<circle cx="449.46" cy="84.35" r="5.0" fill="#000" filter="url(#wtex)" opacity="0.25"/>
<circle cx="449.46" cy="84.35" r="4.6" fill="#000" filter="url(#wtex2)" opacity="0.5"/>
<circle cx="463.08" cy="84.35" r="5.4" fill="url(#w68)" stroke="#c8c8e4" stroke-width="0.3"/>
<circle cx="463.08" cy="84.35" r="5.0" fill="#000" filter="url(#wtex)" opacity="0.28"/>
<circle cx="463.08" cy="84.35" r="4.6" fill="#000" filter="url(#wtex2)" opacity="0.5"/>
<circle cx="476.70" cy="84.35" r="5.4" fill="url(#w69)" stroke="#c8c8e4" stroke-width="0.3"/>
<circle cx="476.70" cy="84.35" r="5.0" fill="#000" filter="url(#wtex)" opacity="0.26"/>
<circle cx="476.70" cy="84.35" r="4.6" fill="#000" filter="url(#wtex2)" opacity="0.5"/>
<circle cx="490.32" cy="84.35" r="5.4" fill="url(#w70)" stroke="#c8c8e4" stroke-width="0.3"/>
<circle cx="490.32" cy="84.35" r="5.0" fill="#000" filter="url(#wtex)" opacity="0.25"/>
<circle cx="490.32" cy="84.35" r="4.6" fill="#000" filter="url(#wtex2)" opacity="0.5"/>
<text x="399.60" y="100.10" font-size="4.6" font-weight="bold" fill="#1a1a1a" stroke="#1a1a1a" stroke-width="0.11" text-anchor="end" >BT20</text>
<circle cx="408.60" cy="98.50" r="5.4" fill="url(#w71)" stroke="#c8c8e4" stroke-width="0.3"/>
<circle cx="408.60" cy="98.50" r="5.0" fill="#000" filter="url(#wtex)" opacity="0.32"/>
<circle cx="408.60" cy="98.50" r="4.6" fill="#000" filter="url(#wtex2)" opacity="0.5"/>
<circle cx="422.22" cy="98.50" r="5.4" fill="url(#w72)" stroke="#c8c8e4" stroke-width="0.3"/>
<circle cx="422.22" cy="98.50" r="5.0" fill="#000" filter="url(#wtex)" opacity="0.35"/>
<circle cx="422.22" cy="98.50" r="4.6" fill="#000" filter="url(#wtex2)" opacity="0.5"/>
<circle cx="435.84" cy="98.50" r="5.4" fill="url(#w73)" stroke="#c8c8e4" stroke-width="0.3"/>
<circle cx="435.84" cy="98.50" r="5.0" fill="#000" filter="url(#wtex)" opacity="0.35"/>
<circle cx="435.84" cy="98.50" r="4.6" fill="#000" filter="url(#wtex2)" opacity="0.5"/>
<circle cx="449.46" cy="98.50" r="5.4" fill="url(#w74)" stroke="#c8c8e4" stroke-width="0.3"/>
<circle cx="449.46" cy="98.50" r="5.0" fill="#000" filter="url(#wtex)" opacity="0.32"/>
<circle cx="449.46" cy="98.50" r="4.6" fill="#000" filter="url(#wtex2)" opacity="0.5"/>
<circle cx="463.08" cy="98.50" r="5.4" fill="url(#w75)" stroke="#c8c8e4" stroke-width="0.3"/>
<circle cx="463.08" cy="98.50" r="5.0" fill="#000" filter="url(#wtex)" opacity="0.30"/>
<circle cx="463.08" cy="98.50" r="4.6" fill="#000" filter="url(#wtex2)" opacity="0.5"/>
<circle cx="476.70" cy="98.50" r="5.4" fill="url(#w76)" stroke="#c8c8e4" stroke-width="0.3"/>
<circle cx="476.70" cy="98.50" r="5.0" fill="#000" filter="url(#wtex)" opacity="0.28"/>
<circle cx="476.70" cy="98.50" r="4.6" fill="#000" filter="url(#wtex2)" opacity="0.5"/>
<circle cx="490.32" cy="98.50" r="5.4" fill="url(#w77)" stroke="#c8c8e4" stroke-width="0.3"/>
<circle cx="490.32" cy="98.50" r="5.0" fill="#000" filter="url(#wtex)" opacity="0.28"/>
<circle cx="490.32" cy="98.50" r="4.6" fill="#000" filter="url(#wtex2)" opacity="0.5"/>
<text x="399.60" y="114.25" font-size="4.6" font-weight="bold" fill="#1a1a1a" stroke="#1a1a1a" stroke-width="0.11" text-anchor="end" >CAL120</text>
<circle cx="408.60" cy="112.65" r="5.4" fill="url(#w78)" stroke="#c8c8e4" stroke-width="0.3"/>
<circle cx="408.60" cy="112.65" r="5.0" fill="#000" filter="url(#wtex)" opacity="0.55"/>
<circle cx="408.60" cy="112.65" r="4.6" fill="#000" filter="url(#wtex2)" opacity="0.5"/>
<circle cx="422.22" cy="112.65" r="5.4" fill="url(#w79)" stroke="#c8c8e4" stroke-width="0.3"/>
<circle cx="422.22" cy="112.65" r="5.0" fill="#000" filter="url(#wtex)" opacity="0.53"/>
<circle cx="422.22" cy="112.65" r="4.6" fill="#000" filter="url(#wtex2)" opacity="0.5"/>
<circle cx="435.84" cy="112.65" r="5.4" fill="url(#w80)" stroke="#c8c8e4" stroke-width="0.3"/>
<circle cx="435.84" cy="112.65" r="5.0" fill="#000" filter="url(#wtex)" opacity="0.47"/>
<circle cx="435.84" cy="112.65" r="4.6" fill="#000" filter="url(#wtex2)" opacity="0.5"/>
<circle cx="449.46" cy="112.65" r="5.4" fill="url(#w81)" stroke="#c8c8e4" stroke-width="0.3"/>
<circle cx="449.46" cy="112.65" r="5.0" fill="#000" filter="url(#wtex)" opacity="0.38"/>
<circle cx="449.46" cy="112.65" r="4.6" fill="#000" filter="url(#wtex2)" opacity="0.5"/>
<circle cx="463.08" cy="112.65" r="5.4" fill="url(#w82)" stroke="#c8c8e4" stroke-width="0.3"/>
<circle cx="463.08" cy="112.65" r="5.0" fill="#000" filter="url(#wtex)" opacity="0.38"/>
<circle cx="463.08" cy="112.65" r="4.6" fill="#000" filter="url(#wtex2)" opacity="0.5"/>
<circle cx="476.70" cy="112.65" r="5.4" fill="url(#w83)" stroke="#c8c8e4" stroke-width="0.3"/>
<circle cx="476.70" cy="112.65" r="5.0" fill="#000" filter="url(#wtex)" opacity="0.32"/>
<circle cx="476.70" cy="112.65" r="4.6" fill="#000" filter="url(#wtex2)" opacity="0.5"/>
<circle cx="490.32" cy="112.65" r="5.4" fill="url(#w84)" stroke="#c8c8e4" stroke-width="0.3"/>
<circle cx="490.32" cy="112.65" r="5.0" fill="#000" filter="url(#wtex)" opacity="0.35"/>
<circle cx="490.32" cy="112.65" r="4.6" fill="#000" filter="url(#wtex2)" opacity="0.5"/>
<text x="408.80" y="34.30" font-size="4.9" font-weight="bold" fill="#1a1a1a" stroke="#1a1a1a" stroke-width="0.12" text-anchor="start" transform="rotate(-33 408.80 34.3)">Vehicle</text>
<text x="422.42" y="34.30" font-size="4.9" font-weight="bold" fill="#1a1a1a" stroke="#1a1a1a" stroke-width="0.12" text-anchor="start" transform="rotate(-33 422.42 34.3)">25 nmol/L</text>
<text x="436.04" y="34.30" font-size="4.9" font-weight="bold" fill="#1a1a1a" stroke="#1a1a1a" stroke-width="0.12" text-anchor="start" transform="rotate(-33 436.04 34.3)">50 nmol/L</text>
<text x="449.66" y="34.30" font-size="4.9" font-weight="bold" fill="#1a1a1a" stroke="#1a1a1a" stroke-width="0.12" text-anchor="start" transform="rotate(-33 449.66 34.3)">100 nmol/L</text>
<text x="463.28" y="34.30" font-size="4.9" font-weight="bold" fill="#1a1a1a" stroke="#1a1a1a" stroke-width="0.12" text-anchor="start" transform="rotate(-33 463.28 34.3)">0.2 μmol/L</text>
<text x="476.90" y="34.30" font-size="4.9" font-weight="bold" fill="#1a1a1a" stroke="#1a1a1a" stroke-width="0.12" text-anchor="start" transform="rotate(-33 476.90 34.3)">0.4 μmol/L</text>
<text x="490.52" y="34.30" font-size="4.9" font-weight="bold" fill="#1a1a1a" stroke="#1a1a1a" stroke-width="0.12" text-anchor="start" transform="rotate(-33 490.52 34.3)">0.8 μmol/L</text>
<text x="9.40" y="183.60" font-size="7.4" font-weight="bold" fill="#1a1a1a" stroke="#1a1a1a" stroke-width="0.19" text-anchor="start" >ERα-chromatin interactions</text>
<line x1="15.50" y1="199.00" x2="15.50" y2="254.00" stroke="#555" stroke-width="0.7" />
<line x1="15.50" y1="254.00" x2="97.50" y2="254.00" stroke="#555" stroke-width="0.7" />
<line x1="14.20" y1="254.00" x2="15.50" y2="254.00" stroke="#555" stroke-width="0.6" />
<text x="13.40" y="255.40" font-size="4.0" font-weight="bold" fill="#333" stroke="#333" stroke-width="0.10" text-anchor="end" >0</text>
<line x1="14.20" y1="243.00" x2="15.50" y2="243.00" stroke="#555" stroke-width="0.6" />
<text x="13.40" y="244.40" font-size="4.0" font-weight="bold" fill="#333" stroke="#333" stroke-width="0.10" text-anchor="end" >50</text>
<line x1="14.20" y1="232.00" x2="15.50" y2="232.00" stroke="#555" stroke-width="0.6" />
<text x="13.40" y="233.40" font-size="4.0" font-weight="bold" fill="#333" stroke="#333" stroke-width="0.10" text-anchor="end" >100</text>
<line x1="14.20" y1="221.00" x2="15.50" y2="221.00" stroke="#555" stroke-width="0.6" />
<text x="13.40" y="222.40" font-size="4.0" font-weight="bold" fill="#333" stroke="#333" stroke-width="0.10" text-anchor="end" >150</text>
<line x1="14.20" y1="210.00" x2="15.50" y2="210.00" stroke="#555" stroke-width="0.6" />
<text x="13.40" y="211.40" font-size="4.0" font-weight="bold" fill="#333" stroke="#333" stroke-width="0.10" text-anchor="end" >200</text>
<line x1="14.20" y1="199.00" x2="15.50" y2="199.00" stroke="#555" stroke-width="0.6" />
<text x="13.40" y="200.40" font-size="4.0" font-weight="bold" fill="#333" stroke="#333" stroke-width="0.10" text-anchor="end" >250</text>
<text x="5.00" y="226.00" font-size="4.35" font-weight="bold" fill="#444" stroke="#444" stroke-width="0.11" text-anchor="middle" transform="rotate(-90 5.0 226.0)">Relative enrichment (a.u.)</text>
<line x1="43.80" y1="199.50" x2="43.80" y2="254.00" stroke="#cfcfcf" stroke-width="0.6" />
<line x1="70.60" y1="199.50" x2="70.60" y2="254.00" stroke="#cfcfcf" stroke-width="0.6" />
<rect x="18.50" y="253.56" width="5.00" height="0.44" fill="#1010c0" stroke="#111" stroke-width="0.3" />
<rect x="23.50" y="253.78" width="5.00" height="0.22" fill="#e01010" stroke="#111" stroke-width="0.3" />
<line x1="33.60" y1="217.48" x2="33.60" y2="219.68" stroke="#333" stroke-width="0.6" />
<line x1="32.40" y1="217.48" x2="34.80" y2="217.48" stroke="#333" stroke-width="0.6" />
<line x1="32.40" y1="219.68" x2="34.80" y2="219.68" stroke="#333" stroke-width="0.6" />
<line x1="39.10" y1="247.18" x2="39.10" y2="247.84" stroke="#333" stroke-width="0.6" />
<line x1="37.90" y1="247.18" x2="40.30" y2="247.18" stroke="#333" stroke-width="0.6" />
<line x1="37.90" y1="247.84" x2="40.30" y2="247.84" stroke="#333" stroke-width="0.6" />
<rect x="30.80" y="219.68" width="5.60" height="34.32" fill="#0a0ad8" stroke="#111" stroke-width="0.35" />
<rect x="36.40" y="247.84" width="5.40" height="6.16" fill="#e81010" stroke="#111" stroke-width="0.35" />
<text x="22.70" y="247.20" font-size="5.2" font-weight="normal" fill="#444" stroke="#444" stroke-width="0.13" text-anchor="middle" >n.s.</text>
<path d="M18.50,250.50 V248.00 H26.70 V250.50" fill="none" stroke="#666" stroke-width="0.5"/>
<text x="36.90" y="213.30" font-size="6.3" font-weight="bold" fill="#222" stroke="#222" stroke-width="0.16" text-anchor="middle" >***</text>
<path d="M32.70,215.40 V212.90 H40.70 V215.40" fill="none" stroke="#444" stroke-width="0.55"/>
<rect x="46.10" y="252.24" width="5.00" height="1.76" fill="#1010c0" stroke="#111" stroke-width="0.3" />
<rect x="51.10" y="253.34" width="5.00" height="0.66" fill="#e01010" stroke="#111" stroke-width="0.3" />
<line x1="61.10" y1="208.90" x2="61.10" y2="212.20" stroke="#333" stroke-width="0.6" />
<line x1="59.90" y1="208.90" x2="62.30" y2="208.90" stroke="#333" stroke-width="0.6" />
<line x1="59.90" y1="212.20" x2="62.30" y2="212.20" stroke="#333" stroke-width="0.6" />
<line x1="66.60" y1="249.38" x2="66.60" y2="250.04" stroke="#333" stroke-width="0.6" />
<line x1="65.40" y1="249.38" x2="67.80" y2="249.38" stroke="#333" stroke-width="0.6" />
<line x1="65.40" y1="250.04" x2="67.80" y2="250.04" stroke="#333" stroke-width="0.6" />
<rect x="58.30" y="212.20" width="5.60" height="41.80" fill="#0a0ad8" stroke="#111" stroke-width="0.35" />
<rect x="63.90" y="250.04" width="5.40" height="3.96" fill="#e81010" stroke="#111" stroke-width="0.35" />
<text x="51.50" y="245.00" font-size="5.2" font-weight="normal" fill="#444" stroke="#444" stroke-width="0.13" text-anchor="middle" >n.s.</text>
<path d="M47.30,248.30 V245.80 H55.50 V248.30" fill="none" stroke="#666" stroke-width="0.5"/>
<text x="64.40" y="205.20" font-size="6.3" font-weight="bold" fill="#222" stroke="#222" stroke-width="0.16" text-anchor="middle" >***</text>
<path d="M60.20,207.30 V204.80 H68.20 V207.30" fill="none" stroke="#444" stroke-width="0.55"/>
<rect x="72.50" y="253.34" width="5.00" height="0.66" fill="#1010c0" stroke="#111" stroke-width="0.3" />
<rect x="77.50" y="253.56" width="5.00" height="0.44" fill="#e01010" stroke="#111" stroke-width="0.3" />
<line x1="87.20" y1="208.02" x2="87.20" y2="212.86" stroke="#333" stroke-width="0.6" />
<line x1="86.00" y1="208.02" x2="88.40" y2="208.02" stroke="#333" stroke-width="0.6" />
<line x1="86.00" y1="212.86" x2="88.40" y2="212.86" stroke="#333" stroke-width="0.6" />
<line x1="92.70" y1="248.06" x2="92.70" y2="248.72" stroke="#333" stroke-width="0.6" />
<line x1="91.50" y1="248.06" x2="93.90" y2="248.06" stroke="#333" stroke-width="0.6" />
<line x1="91.50" y1="248.72" x2="93.90" y2="248.72" stroke="#333" stroke-width="0.6" />
<rect x="84.40" y="212.86" width="5.60" height="41.14" fill="#0a0ad8" stroke="#111" stroke-width="0.35" />
<rect x="90.00" y="248.72" width="5.40" height="5.28" fill="#e81010" stroke="#111" stroke-width="0.35" />
<text x="77.10" y="246.20" font-size="5.2" font-weight="normal" fill="#444" stroke="#444" stroke-width="0.13" text-anchor="middle" >n.s.</text>
<path d="M72.90,249.50 V247.00 H81.10 V249.50" fill="none" stroke="#666" stroke-width="0.5"/>
<text x="90.50" y="205.20" font-size="6.3" font-weight="bold" fill="#222" stroke="#222" stroke-width="0.16" text-anchor="middle" >***</text>
<path d="M86.30,207.30 V204.80 H94.30 V207.30" fill="none" stroke="#444" stroke-width="0.55"/>
<text x="22.50" y="260.30" font-size="5.5" font-weight="normal" fill="#333" stroke="#333" stroke-width="0.14" text-anchor="middle" >−</text>
<text x="34.00" y="260.30" font-size="5.5" font-weight="normal" fill="#333" stroke="#333" stroke-width="0.14" text-anchor="middle" >+</text>
<text x="50.80" y="260.30" font-size="5.5" font-weight="normal" fill="#333" stroke="#333" stroke-width="0.14" text-anchor="middle" >−</text>
<text x="62.00" y="260.30" font-size="5.5" font-weight="normal" fill="#333" stroke="#333" stroke-width="0.14" text-anchor="middle" >+</text>
<text x="79.30" y="260.30" font-size="5.5" font-weight="normal" fill="#333" stroke="#333" stroke-width="0.14" text-anchor="middle" >−</text>
<text x="90.50" y="260.30" font-size="5.5" font-weight="normal" fill="#333" stroke="#333" stroke-width="0.14" text-anchor="middle" >+</text>
<text x="97.40" y="259.80" font-size="5.4" font-weight="normal" fill="#222" stroke="#222" stroke-width="0.14" text-anchor="start" >E2</text>
<text x="28.00" y="270.20" font-size="7.3" font-weight="normal" fill="#111" stroke="#111" stroke-width="0.18" text-anchor="middle" >TFF1</text>
<text x="56.80" y="270.20" font-size="7.3" font-weight="normal" fill="#111" stroke="#111" stroke-width="0.18" text-anchor="middle" >GREB1</text>
<text x="85.20" y="270.20" font-size="7.3" font-weight="normal" fill="#111" stroke="#111" stroke-width="0.18" text-anchor="middle" >XBP1</text>
<text x="98.10" y="203.50" font-size="6.45" font-weight="bold" fill="#2020a8" stroke="#2020a8" stroke-width="0.16" text-anchor="start" >Control</text>
<text x="98.10" y="211.90" font-size="6.45" font-weight="bold" fill="#d02c2c" stroke="#d02c2c" stroke-width="0.16" text-anchor="start" >FEN1 inhibitor</text>
<text x="156.40" y="183.80" font-size="7.4" font-weight="bold" fill="#1a1a1a" stroke="#1a1a1a" stroke-width="0.19" text-anchor="start" >ERα-induced transcription</text>
<line x1="161.40" y1="199.50" x2="161.40" y2="254.40" stroke="#555" stroke-width="0.7" />
<line x1="161.40" y1="254.40" x2="243.50" y2="254.40" stroke="#555" stroke-width="0.7" />
<line x1="160.00" y1="254.40" x2="161.40" y2="254.40" stroke="#555" stroke-width="0.6" />
<text x="159.70" y="255.80" font-size="4.0" font-weight="bold" fill="#333" stroke="#333" stroke-width="0.10" text-anchor="end" >0.0</text>
<line x1="160.00" y1="236.50" x2="161.40" y2="236.50" stroke="#555" stroke-width="0.6" />
<text x="159.70" y="237.90" font-size="4.0" font-weight="bold" fill="#333" stroke="#333" stroke-width="0.10" text-anchor="end" >0.5</text>
<line x1="160.00" y1="218.60" x2="161.40" y2="218.60" stroke="#555" stroke-width="0.6" />
<text x="159.70" y="220.00" font-size="4.0" font-weight="bold" fill="#333" stroke="#333" stroke-width="0.10" text-anchor="end" >1.0</text>
<line x1="160.00" y1="200.70" x2="161.40" y2="200.70" stroke="#555" stroke-width="0.6" />
<text x="159.70" y="202.10" font-size="4.0" font-weight="bold" fill="#333" stroke="#333" stroke-width="0.10" text-anchor="end" >1.5</text>
<text x="153.50" y="228.20" font-size="4.35" font-weight="bold" fill="#333" stroke="#333" stroke-width="0.11" text-anchor="middle" transform="rotate(-90 153.5 228.2)">Relative mRNA levels (a.u.)</text>
<line x1="188.20" y1="199.50" x2="188.20" y2="254.40" stroke="#cfcfcf" stroke-width="0.6" />
<line x1="215.80" y1="199.50" x2="215.80" y2="254.40" stroke="#cfcfcf" stroke-width="0.6" />
<line x1="169.15" y1="216.99" x2="169.15" y2="218.60" stroke="#333" stroke-width="0.6" />
<line x1="167.55" y1="216.99" x2="170.75" y2="216.99" stroke="#333" stroke-width="0.6" />
<line x1="167.55" y1="218.60" x2="170.75" y2="218.60" stroke="#333" stroke-width="0.6" />
<line x1="179.50" y1="237.04" x2="179.50" y2="237.57" stroke="#333" stroke-width="0.6" />
<line x1="177.90" y1="237.04" x2="181.10" y2="237.04" stroke="#333" stroke-width="0.6" />
<line x1="177.90" y1="237.57" x2="181.10" y2="237.57" stroke="#333" stroke-width="0.6" />
<rect x="164.00" y="218.60" width="10.40" height="35.80" fill="#0a0ad8" stroke="#111" stroke-width="0.35" />
<rect x="174.40" y="237.57" width="10.40" height="16.83" fill="#e81010" stroke="#111" stroke-width="0.35" />
<text x="175.00" y="211.40" font-size="6.4" font-weight="bold" fill="#222" stroke="#222" stroke-width="0.16" text-anchor="middle" >***</text>
<path d="M169.10,212.9 V210.7 H180.40 V212.9" fill="none" stroke="#555" stroke-width="0.5"/>
<text x="174.30" y="270.00" font-size="7.3" font-weight="normal" fill="#111" stroke="#111" stroke-width="0.18" text-anchor="middle" >RARA</text>
<line x1="196.75" y1="217.71" x2="196.75" y2="218.60" stroke="#333" stroke-width="0.6" />
<line x1="195.15" y1="217.71" x2="198.35" y2="217.71" stroke="#333" stroke-width="0.6" />
<line x1="195.15" y1="218.60" x2="198.35" y2="218.60" stroke="#333" stroke-width="0.6" />
<line x1="207.10" y1="234.17" x2="207.10" y2="234.71" stroke="#333" stroke-width="0.6" />
<line x1="205.50" y1="234.17" x2="208.70" y2="234.17" stroke="#333" stroke-width="0.6" />
<line x1="205.50" y1="234.71" x2="208.70" y2="234.71" stroke="#333" stroke-width="0.6" />
<rect x="191.60" y="218.60" width="10.40" height="35.80" fill="#0a0ad8" stroke="#111" stroke-width="0.35" />
<rect x="202.00" y="234.71" width="10.40" height="19.69" fill="#e81010" stroke="#111" stroke-width="0.35" />
<text x="202.60" y="211.40" font-size="6.4" font-weight="bold" fill="#222" stroke="#222" stroke-width="0.16" text-anchor="middle" >***</text>
<path d="M196.70,212.9 V210.7 H208.00 V212.9" fill="none" stroke="#555" stroke-width="0.5"/>
<text x="201.90" y="270.00" font-size="7.3" font-weight="normal" fill="#111" stroke="#111" stroke-width="0.18" text-anchor="middle" >XBP1</text>
<line x1="224.25" y1="218.17" x2="224.25" y2="218.60" stroke="#333" stroke-width="0.6" />
<line x1="222.65" y1="218.17" x2="225.85" y2="218.17" stroke="#333" stroke-width="0.6" />
<line x1="222.65" y1="218.60" x2="225.85" y2="218.60" stroke="#333" stroke-width="0.6" />
<line x1="234.60" y1="234.89" x2="234.60" y2="235.43" stroke="#333" stroke-width="0.6" />
<line x1="233.00" y1="234.89" x2="236.20" y2="234.89" stroke="#333" stroke-width="0.6" />
<line x1="233.00" y1="235.43" x2="236.20" y2="235.43" stroke="#333" stroke-width="0.6" />
<rect x="219.10" y="218.60" width="10.40" height="35.80" fill="#0a0ad8" stroke="#111" stroke-width="0.35" />
<rect x="229.50" y="235.43" width="10.40" height="18.97" fill="#e81010" stroke="#111" stroke-width="0.35" />
<text x="230.10" y="211.40" font-size="6.4" font-weight="bold" fill="#222" stroke="#222" stroke-width="0.16" text-anchor="middle" >***</text>
<path d="M224.20,212.9 V210.7 H235.50 V212.9" fill="none" stroke="#555" stroke-width="0.5"/>
<text x="229.40" y="270.00" font-size="7.3" font-weight="normal" fill="#111" stroke="#111" stroke-width="0.18" text-anchor="middle" >TFF1</text>
<text x="238.00" y="203.80" font-size="6.45" font-weight="bold" fill="#2020a8" stroke="#2020a8" stroke-width="0.16" text-anchor="start" >Control</text>
<text x="238.00" y="211.90" font-size="6.45" font-weight="bold" fill="#d02c2c" stroke="#d02c2c" stroke-width="0.16" text-anchor="start" >FEN1 inhibitor</text>
<text x="352.20" y="145.00" font-size="5.5" font-weight="bold" fill="#333" stroke="#333" stroke-width="0.14" text-anchor="start" >ERα positive</text>
<line x1="352.20" y1="147.50" x2="381.40" y2="147.50" stroke="#999" stroke-width="0.9" />
<text x="401.60" y="145.00" font-size="5.5" font-weight="bold" fill="#333" stroke="#333" stroke-width="0.14" text-anchor="start" >TAM-resistant</text>
<line x1="401.60" y1="147.50" x2="433.90" y2="147.50" stroke="#999" stroke-width="0.9" />
<text x="446.00" y="145.00" font-size="5.5" font-weight="bold" fill="#333" stroke="#333" stroke-width="0.14" text-anchor="start" >ERα negative</text>
<line x1="446.00" y1="147.50" x2="475.40" y2="147.50" stroke="#999" stroke-width="0.9" />
<line x1="352.80" y1="153.60" x2="367.80" y2="153.60" stroke="#d83838" stroke-width="1.1" />
<line x1="352.80" y1="158.20" x2="367.80" y2="158.20" stroke="#d83838" stroke-width="1.1" stroke-dasharray="2.0,1.2"/>
<text x="371.80" y="155.80" font-size="5.5" font-weight="bold" fill="#222" stroke="#222" stroke-width="0.14" text-anchor="start" >MCF7</text>
<text x="371.80" y="162.70" font-size="5.5" font-weight="bold" fill="#222" stroke="#222" stroke-width="0.14" text-anchor="start" >T47D</text>
<line x1="401.60" y1="153.60" x2="416.60" y2="153.60" stroke="#50d850" stroke-width="1.1" />
<line x1="401.60" y1="158.20" x2="416.60" y2="158.20" stroke="#50d850" stroke-width="1.1" stroke-dasharray="2.0,1.2"/>
<text x="419.20" y="155.80" font-size="5.5" font-weight="bold" fill="#222" stroke="#222" stroke-width="0.14" text-anchor="start" >MCF7-T</text>
<text x="419.20" y="162.70" font-size="5.5" font-weight="bold" fill="#222" stroke="#222" stroke-width="0.14" text-anchor="start" >TAMR</text>
<line x1="448.20" y1="153.60" x2="463.20" y2="153.60" stroke="#222" stroke-width="1.1" />
<line x1="448.20" y1="158.20" x2="463.20" y2="158.20" stroke="#222" stroke-width="1.1" stroke-dasharray="2.0,1.2"/>
<text x="466.80" y="155.80" font-size="5.5" font-weight="bold" fill="#222" stroke="#222" stroke-width="0.14" text-anchor="start" >CAL120</text>
<text x="466.80" y="162.70" font-size="5.5" font-weight="bold" fill="#222" stroke="#222" stroke-width="0.14" text-anchor="start" >BT20</text>
<text x="351.80" y="176.10" font-size="7.4" font-weight="bold" fill="#1a1a1a" stroke="#1a1a1a" stroke-width="0.19" text-anchor="start" >FBS</text>
<text x="446.20" y="176.10" font-size="7.4" font-weight="bold" fill="#1a1a1a" stroke="#1a1a1a" stroke-width="0.19" text-anchor="start" >FBS + tamoxifen</text>
<line x1="313.00" y1="184.80" x2="313.00" y2="249.80" stroke="#555" stroke-width="0.8" />
<line x1="313.00" y1="249.80" x2="402.00" y2="249.80" stroke="#555" stroke-width="0.8" />
<line x1="311.50" y1="249.80" x2="313.00" y2="249.80" stroke="#555" stroke-width="0.6" />
<text x="311.00" y="251.55" font-size="4.9" font-weight="bold" fill="#333" stroke="#333" stroke-width="0.12" text-anchor="end" >0</text>
<line x1="311.50" y1="239.05" x2="313.00" y2="239.05" stroke="#555" stroke-width="0.6" />
<text x="311.00" y="240.80" font-size="4.9" font-weight="bold" fill="#333" stroke="#333" stroke-width="0.12" text-anchor="end" >20</text>
<line x1="311.50" y1="228.30" x2="313.00" y2="228.30" stroke="#555" stroke-width="0.6" />
<text x="311.00" y="230.05" font-size="4.9" font-weight="bold" fill="#333" stroke="#333" stroke-width="0.12" text-anchor="end" >40</text>
<line x1="311.50" y1="217.55" x2="313.00" y2="217.55" stroke="#555" stroke-width="0.6" />
<text x="311.00" y="219.30" font-size="4.9" font-weight="bold" fill="#333" stroke="#333" stroke-width="0.12" text-anchor="end" >60</text>
<line x1="311.50" y1="206.80" x2="313.00" y2="206.80" stroke="#555" stroke-width="0.6" />
<text x="311.00" y="208.55" font-size="4.9" font-weight="bold" fill="#333" stroke="#333" stroke-width="0.12" text-anchor="end" >80</text>
<line x1="311.50" y1="196.05" x2="313.00" y2="196.05" stroke="#555" stroke-width="0.6" />
<text x="311.00" y="197.80" font-size="4.9" font-weight="bold" fill="#333" stroke="#333" stroke-width="0.12" text-anchor="end" >100</text>
<line x1="311.50" y1="185.30" x2="313.00" y2="185.30" stroke="#555" stroke-width="0.6" />
<text x="311.00" y="187.05" font-size="4.9" font-weight="bold" fill="#333" stroke="#333" stroke-width="0.12" text-anchor="end" >120</text>
<text x="313.00" y="256.60" font-size="4.4" font-weight="bold" fill="#333" stroke="#333" stroke-width="0.11" text-anchor="middle" >0.0</text>
<line x1="340.00" y1="249.80" x2="340.00" y2="251.30" stroke="#555" stroke-width="0.6" />
<text x="340.60" y="259.20" font-size="4.6" font-weight="bold" fill="#333" stroke="#333" stroke-width="0.11" text-anchor="middle" transform="rotate(-40 340.60 259.2)">25</text>
<line x1="355.50" y1="249.80" x2="355.50" y2="251.30" stroke="#555" stroke-width="0.6" />
<text x="356.10" y="259.20" font-size="4.6" font-weight="bold" fill="#333" stroke="#333" stroke-width="0.11" text-anchor="middle" transform="rotate(-40 356.10 259.2)">50</text>
<line x1="368.80" y1="249.80" x2="368.80" y2="251.30" stroke="#555" stroke-width="0.6" />
<text x="369.40" y="259.20" font-size="4.6" font-weight="bold" fill="#333" stroke="#333" stroke-width="0.11" text-anchor="middle" transform="rotate(-40 369.40 259.2)">100</text>
<line x1="380.40" y1="249.80" x2="380.40" y2="251.30" stroke="#555" stroke-width="0.6" />
<text x="381.00" y="259.20" font-size="4.6" font-weight="bold" fill="#333" stroke="#333" stroke-width="0.11" text-anchor="middle" transform="rotate(-40 381.00 259.2)">200</text>
<line x1="390.40" y1="249.80" x2="390.40" y2="251.30" stroke="#555" stroke-width="0.6" />
<text x="391.00" y="259.20" font-size="4.6" font-weight="bold" fill="#333" stroke="#333" stroke-width="0.11" text-anchor="middle" transform="rotate(-40 391.00 259.2)">400</text>
<line x1="398.90" y1="249.80" x2="398.90" y2="251.30" stroke="#555" stroke-width="0.6" />
<text x="399.50" y="259.20" font-size="4.6" font-weight="bold" fill="#333" stroke="#333" stroke-width="0.11" text-anchor="middle" transform="rotate(-40 399.50 259.2)">800</text>
<text x="359.50" y="269.20" font-size="5.65" font-weight="bold" fill="#333" stroke="#333" stroke-width="0.14" text-anchor="middle" >Inhibitor concentration (nmol/L)</text>
<text x="297.8" y="216.7" font-size="5.9" font-weight="bold" fill="#222" text-anchor="middle" transform="rotate(-90 297.8 216.7)">Relative OD<tspan font-size="4.6" dy="0.9">590</tspan><tspan dy="-0.9"> (%)</tspan></text>
<polyline points="313.00,196.05 340.00,218.62 355.50,232.60 368.80,236.36 380.40,237.71 390.40,238.51 398.90,238.51" fill="none" stroke="#7de07d" stroke-width="1.1" stroke-dasharray="2.2,1.4" stroke-linejoin="round"/>
<polyline points="313.00,196.05 340.00,219.16 355.50,232.92 368.80,236.69 380.40,238.08 390.40,238.78 398.90,238.78" fill="none" stroke="#38c038" stroke-width="1.1" stroke-linejoin="round"/>
<line x1="340.00" y1="217.55" x2="340.00" y2="220.78" stroke="#5a5" stroke-width="0.75" />
<line x1="338.60" y1="217.55" x2="341.40" y2="217.55" stroke="#5a5" stroke-width="0.75" />
<line x1="338.60" y1="220.78" x2="341.40" y2="220.78" stroke="#5a5" stroke-width="0.75" />
<line x1="355.50" y1="229.70" x2="355.50" y2="236.15" stroke="#5a5" stroke-width="0.75" />
<line x1="354.10" y1="229.70" x2="356.90" y2="229.70" stroke="#5a5" stroke-width="0.75" />
<line x1="354.10" y1="236.15" x2="356.90" y2="236.15" stroke="#5a5" stroke-width="0.75" />
<line x1="368.80" y1="233.46" x2="368.80" y2="239.91" stroke="#5a5" stroke-width="0.75" />
<line x1="367.40" y1="233.46" x2="370.20" y2="233.46" stroke="#5a5" stroke-width="0.75" />
<line x1="367.40" y1="239.91" x2="370.20" y2="239.91" stroke="#5a5" stroke-width="0.75" />
<line x1="380.40" y1="235.40" x2="380.40" y2="240.77" stroke="#5a5" stroke-width="0.75" />
<line x1="379.00" y1="235.40" x2="381.80" y2="235.40" stroke="#5a5" stroke-width="0.75" />
<line x1="379.00" y1="240.77" x2="381.80" y2="240.77" stroke="#5a5" stroke-width="0.75" />
<line x1="390.40" y1="236.09" x2="390.40" y2="241.47" stroke="#5a5" stroke-width="0.75" />
<line x1="389.00" y1="236.09" x2="391.80" y2="236.09" stroke="#5a5" stroke-width="0.75" />
<line x1="389.00" y1="241.47" x2="391.80" y2="241.47" stroke="#5a5" stroke-width="0.75" />
<line x1="398.90" y1="236.09" x2="398.90" y2="241.47" stroke="#5a5" stroke-width="0.75" />
<line x1="397.50" y1="236.09" x2="400.30" y2="236.09" stroke="#5a5" stroke-width="0.75" />
<line x1="397.50" y1="241.47" x2="400.30" y2="241.47" stroke="#5a5" stroke-width="0.75" />
<polyline points="313.00,196.05 340.00,205.56 355.50,211.32 368.80,217.01 380.40,222.28 390.40,224.38 398.90,223.30" fill="none" stroke="#333" stroke-width="1.1" stroke-dasharray="2.2,1.4" stroke-linejoin="round"/>
<line x1="340.00" y1="202.34" x2="340.00" y2="208.79" stroke="#333" stroke-width="0.75" />
<line x1="338.60" y1="202.34" x2="341.40" y2="202.34" stroke="#333" stroke-width="0.75" />
<line x1="338.60" y1="208.79" x2="341.40" y2="208.79" stroke="#333" stroke-width="0.75" />
<line x1="355.50" y1="207.02" x2="355.50" y2="215.62" stroke="#333" stroke-width="0.75" />
<line x1="354.10" y1="207.02" x2="356.90" y2="207.02" stroke="#333" stroke-width="0.75" />
<line x1="354.10" y1="215.62" x2="356.90" y2="215.62" stroke="#333" stroke-width="0.75" />
<line x1="368.80" y1="212.18" x2="368.80" y2="221.85" stroke="#333" stroke-width="0.75" />
<line x1="367.40" y1="212.18" x2="370.20" y2="212.18" stroke="#333" stroke-width="0.75" />
<line x1="367.40" y1="221.85" x2="370.20" y2="221.85" stroke="#333" stroke-width="0.75" />
<line x1="380.40" y1="216.37" x2="380.40" y2="228.19" stroke="#333" stroke-width="0.75" />
<line x1="379.00" y1="216.37" x2="381.80" y2="216.37" stroke="#333" stroke-width="0.75" />
<line x1="379.00" y1="228.19" x2="381.80" y2="228.19" stroke="#333" stroke-width="0.75" />
<line x1="390.40" y1="219.54" x2="390.40" y2="229.21" stroke="#333" stroke-width="0.75" />
<line x1="389.00" y1="219.54" x2="391.80" y2="219.54" stroke="#333" stroke-width="0.75" />
<line x1="389.00" y1="229.21" x2="391.80" y2="229.21" stroke="#333" stroke-width="0.75" />
<line x1="398.90" y1="218.46" x2="398.90" y2="228.14" stroke="#333" stroke-width="0.75" />
<line x1="397.50" y1="218.46" x2="400.30" y2="218.46" stroke="#333" stroke-width="0.75" />
<line x1="397.50" y1="228.14" x2="400.30" y2="228.14" stroke="#333" stroke-width="0.75" />
<polyline points="313.00,196.05 340.00,196.05 355.50,201.10 368.80,206.37 380.40,206.96 390.40,209.60 398.90,213.79" fill="none" stroke="#333" stroke-width="1.1" stroke-linejoin="round"/>
<line x1="340.00" y1="194.44" x2="340.00" y2="197.66" stroke="#333" stroke-width="0.75" />
<line x1="338.60" y1="194.44" x2="341.40" y2="194.44" stroke="#333" stroke-width="0.75" />
<line x1="338.60" y1="197.66" x2="341.40" y2="197.66" stroke="#333" stroke-width="0.75" />
<line x1="355.50" y1="196.80" x2="355.50" y2="205.40" stroke="#333" stroke-width="0.75" />
<line x1="354.10" y1="196.80" x2="356.90" y2="196.80" stroke="#333" stroke-width="0.75" />
<line x1="354.10" y1="205.40" x2="356.90" y2="205.40" stroke="#333" stroke-width="0.75" />
<line x1="368.80" y1="201.00" x2="368.80" y2="211.75" stroke="#333" stroke-width="0.75" />
<line x1="367.40" y1="201.00" x2="370.20" y2="201.00" stroke="#333" stroke-width="0.75" />
<line x1="367.40" y1="211.75" x2="370.20" y2="211.75" stroke="#333" stroke-width="0.75" />
<line x1="380.40" y1="200.51" x2="380.40" y2="213.41" stroke="#333" stroke-width="0.75" />
<line x1="379.00" y1="200.51" x2="381.80" y2="200.51" stroke="#333" stroke-width="0.75" />
<line x1="379.00" y1="213.41" x2="381.80" y2="213.41" stroke="#333" stroke-width="0.75" />
<line x1="390.40" y1="203.15" x2="390.40" y2="216.05" stroke="#333" stroke-width="0.75" />
<line x1="389.00" y1="203.15" x2="391.80" y2="203.15" stroke="#333" stroke-width="0.75" />
<line x1="389.00" y1="216.05" x2="391.80" y2="216.05" stroke="#333" stroke-width="0.75" />
<line x1="398.90" y1="206.26" x2="398.90" y2="221.31" stroke="#333" stroke-width="0.75" />
<line x1="397.50" y1="206.26" x2="400.30" y2="206.26" stroke="#333" stroke-width="0.75" />
<line x1="397.50" y1="221.31" x2="400.30" y2="221.31" stroke="#333" stroke-width="0.75" />
<polyline points="313.00,196.05 340.00,202.50 355.50,211.69 368.80,227.76 380.40,230.88 390.40,234.48 398.90,235.40" fill="none" stroke="#d03030" stroke-width="1.1" stroke-dasharray="2.2,1.4" stroke-linejoin="round"/>
<line x1="340.00" y1="197.12" x2="340.00" y2="207.88" stroke="#c03030" stroke-width="0.75" />
<line x1="338.60" y1="197.12" x2="341.40" y2="197.12" stroke="#c03030" stroke-width="0.75" />
<line x1="338.60" y1="207.88" x2="341.40" y2="207.88" stroke="#c03030" stroke-width="0.75" />
<line x1="355.50" y1="206.32" x2="355.50" y2="217.07" stroke="#c03030" stroke-width="0.75" />
<line x1="354.10" y1="206.32" x2="356.90" y2="206.32" stroke="#c03030" stroke-width="0.75" />
<line x1="354.10" y1="217.07" x2="356.90" y2="217.07" stroke="#c03030" stroke-width="0.75" />
<line x1="368.80" y1="222.39" x2="368.80" y2="233.14" stroke="#c03030" stroke-width="0.75" />
<line x1="367.40" y1="222.39" x2="370.20" y2="222.39" stroke="#c03030" stroke-width="0.75" />
<line x1="367.40" y1="233.14" x2="370.20" y2="233.14" stroke="#c03030" stroke-width="0.75" />
<line x1="380.40" y1="226.58" x2="380.40" y2="235.18" stroke="#c03030" stroke-width="0.75" />
<line x1="379.00" y1="226.58" x2="381.80" y2="226.58" stroke="#c03030" stroke-width="0.75" />
<line x1="379.00" y1="235.18" x2="381.80" y2="235.18" stroke="#c03030" stroke-width="0.75" />
<line x1="390.40" y1="230.18" x2="390.40" y2="238.78" stroke="#c03030" stroke-width="0.75" />
<line x1="389.00" y1="230.18" x2="391.80" y2="230.18" stroke="#c03030" stroke-width="0.75" />
<line x1="389.00" y1="238.78" x2="391.80" y2="238.78" stroke="#c03030" stroke-width="0.75" />
<line x1="398.90" y1="231.09" x2="398.90" y2="239.70" stroke="#c03030" stroke-width="0.75" />
<line x1="397.50" y1="231.09" x2="400.30" y2="231.09" stroke="#c03030" stroke-width="0.75" />
<line x1="397.50" y1="239.70" x2="400.30" y2="239.70" stroke="#c03030" stroke-width="0.75" />
<polyline points="313.00,196.05 340.00,197.99 355.50,213.79 368.80,227.60 380.40,231.79 390.40,233.30 398.90,233.89" fill="none" stroke="#e03838" stroke-width="1.1" stroke-linejoin="round"/>
<line x1="340.00" y1="187.77" x2="340.00" y2="208.20" stroke="#c03030" stroke-width="0.75" />
<line x1="338.60" y1="187.77" x2="341.40" y2="187.77" stroke="#c03030" stroke-width="0.75" />
<line x1="338.60" y1="208.20" x2="341.40" y2="208.20" stroke="#c03030" stroke-width="0.75" />
<line x1="355.50" y1="206.26" x2="355.50" y2="221.31" stroke="#c03030" stroke-width="0.75" />
<line x1="354.10" y1="206.26" x2="356.90" y2="206.26" stroke="#c03030" stroke-width="0.75" />
<line x1="354.10" y1="221.31" x2="356.90" y2="221.31" stroke="#c03030" stroke-width="0.75" />
<line x1="368.80" y1="219.54" x2="368.80" y2="235.66" stroke="#c03030" stroke-width="0.75" />
<line x1="367.40" y1="219.54" x2="370.20" y2="219.54" stroke="#c03030" stroke-width="0.75" />
<line x1="367.40" y1="235.66" x2="370.20" y2="235.66" stroke="#c03030" stroke-width="0.75" />
<line x1="380.40" y1="225.34" x2="380.40" y2="238.24" stroke="#c03030" stroke-width="0.75" />
<line x1="379.00" y1="225.34" x2="381.80" y2="225.34" stroke="#c03030" stroke-width="0.75" />
<line x1="379.00" y1="238.24" x2="381.80" y2="238.24" stroke="#c03030" stroke-width="0.75" />
<line x1="390.40" y1="227.92" x2="390.40" y2="238.67" stroke="#c03030" stroke-width="0.75" />
<line x1="389.00" y1="227.92" x2="391.80" y2="227.92" stroke="#c03030" stroke-width="0.75" />
<line x1="389.00" y1="238.67" x2="391.80" y2="238.67" stroke="#c03030" stroke-width="0.75" />
<line x1="398.90" y1="227.44" x2="398.90" y2="240.34" stroke="#c03030" stroke-width="0.75" />
<line x1="397.50" y1="227.44" x2="400.30" y2="227.44" stroke="#c03030" stroke-width="0.75" />
<line x1="397.50" y1="240.34" x2="400.30" y2="240.34" stroke="#c03030" stroke-width="0.75" />
<line x1="430.50" y1="184.80" x2="430.50" y2="249.80" stroke="#555" stroke-width="0.8" />
<line x1="430.50" y1="249.80" x2="519.50" y2="249.80" stroke="#555" stroke-width="0.8" />
<line x1="429.00" y1="249.80" x2="430.50" y2="249.80" stroke="#555" stroke-width="0.6" />
<text x="428.50" y="251.55" font-size="4.9" font-weight="bold" fill="#333" stroke="#333" stroke-width="0.12" text-anchor="end" >0</text>
<line x1="429.00" y1="239.05" x2="430.50" y2="239.05" stroke="#555" stroke-width="0.6" />
<text x="428.50" y="240.80" font-size="4.9" font-weight="bold" fill="#333" stroke="#333" stroke-width="0.12" text-anchor="end" >20</text>
<line x1="429.00" y1="228.30" x2="430.50" y2="228.30" stroke="#555" stroke-width="0.6" />
<text x="428.50" y="230.05" font-size="4.9" font-weight="bold" fill="#333" stroke="#333" stroke-width="0.12" text-anchor="end" >40</text>
<line x1="429.00" y1="217.55" x2="430.50" y2="217.55" stroke="#555" stroke-width="0.6" />
<text x="428.50" y="219.30" font-size="4.9" font-weight="bold" fill="#333" stroke="#333" stroke-width="0.12" text-anchor="end" >60</text>
<line x1="429.00" y1="206.80" x2="430.50" y2="206.80" stroke="#555" stroke-width="0.6" />
<text x="428.50" y="208.55" font-size="4.9" font-weight="bold" fill="#333" stroke="#333" stroke-width="0.12" text-anchor="end" >80</text>
<line x1="429.00" y1="196.05" x2="430.50" y2="196.05" stroke="#555" stroke-width="0.6" />
<text x="428.50" y="197.80" font-size="4.9" font-weight="bold" fill="#333" stroke="#333" stroke-width="0.12" text-anchor="end" >100</text>
<line x1="429.00" y1="185.30" x2="430.50" y2="185.30" stroke="#555" stroke-width="0.6" />
<text x="428.50" y="187.05" font-size="4.9" font-weight="bold" fill="#333" stroke="#333" stroke-width="0.12" text-anchor="end" >120</text>
<text x="430.50" y="256.60" font-size="4.4" font-weight="bold" fill="#333" stroke="#333" stroke-width="0.11" text-anchor="middle" >0.0</text>
<line x1="457.50" y1="249.80" x2="457.50" y2="251.30" stroke="#555" stroke-width="0.6" />
<text x="458.10" y="259.20" font-size="4.6" font-weight="bold" fill="#333" stroke="#333" stroke-width="0.11" text-anchor="middle" transform="rotate(-40 458.10 259.2)">25</text>
<line x1="473.00" y1="249.80" x2="473.00" y2="251.30" stroke="#555" stroke-width="0.6" />
<text x="473.60" y="259.20" font-size="4.6" font-weight="bold" fill="#333" stroke="#333" stroke-width="0.11" text-anchor="middle" transform="rotate(-40 473.60 259.2)">50</text>
<line x1="486.30" y1="249.80" x2="486.30" y2="251.30" stroke="#555" stroke-width="0.6" />
<text x="486.90" y="259.20" font-size="4.6" font-weight="bold" fill="#333" stroke="#333" stroke-width="0.11" text-anchor="middle" transform="rotate(-40 486.90 259.2)">100</text>
<line x1="497.90" y1="249.80" x2="497.90" y2="251.30" stroke="#555" stroke-width="0.6" />
<text x="498.50" y="259.20" font-size="4.6" font-weight="bold" fill="#333" stroke="#333" stroke-width="0.11" text-anchor="middle" transform="rotate(-40 498.50 259.2)">200</text>
<line x1="507.90" y1="249.80" x2="507.90" y2="251.30" stroke="#555" stroke-width="0.6" />
<text x="508.50" y="259.20" font-size="4.6" font-weight="bold" fill="#333" stroke="#333" stroke-width="0.11" text-anchor="middle" transform="rotate(-40 508.50 259.2)">400</text>
<line x1="516.40" y1="249.80" x2="516.40" y2="251.30" stroke="#555" stroke-width="0.6" />
<text x="517.00" y="259.20" font-size="4.6" font-weight="bold" fill="#333" stroke="#333" stroke-width="0.11" text-anchor="middle" transform="rotate(-40 517.00 259.2)">800</text>
<text x="477.00" y="269.20" font-size="5.65" font-weight="bold" fill="#333" stroke="#333" stroke-width="0.14" text-anchor="middle" >Inhibitor concentration (nmol/L)</text>
<text x="417.3" y="216.7" font-size="5.9" font-weight="bold" fill="#222" text-anchor="middle" transform="rotate(-90 417.3 216.7)">Relative OD<tspan font-size="4.6" dy="0.9">590</tspan><tspan dy="-0.9"> (%)</tspan></text>
<polyline points="430.50,205.19 457.50,224.54 473.00,234.75 486.30,237.44 497.90,238.51 507.90,238.51 516.40,238.51" fill="none" stroke="#7de07d" stroke-width="1.1" stroke-dasharray="2.2,1.4" stroke-linejoin="round"/>
<polyline points="430.50,203.04 457.50,224.00 473.00,235.40 486.30,237.71 497.90,238.89 507.90,239.05 516.40,239.05" fill="none" stroke="#38c038" stroke-width="1.1" stroke-linejoin="round"/>
<line x1="457.50" y1="222.39" x2="457.50" y2="225.61" stroke="#5a5" stroke-width="0.75" />
<line x1="456.10" y1="222.39" x2="458.90" y2="222.39" stroke="#5a5" stroke-width="0.75" />
<line x1="456.10" y1="225.61" x2="458.90" y2="225.61" stroke="#5a5" stroke-width="0.75" />
<line x1="473.00" y1="233.25" x2="473.00" y2="237.55" stroke="#5a5" stroke-width="0.75" />
<line x1="471.60" y1="233.25" x2="474.40" y2="233.25" stroke="#5a5" stroke-width="0.75" />
<line x1="471.60" y1="237.55" x2="474.40" y2="237.55" stroke="#5a5" stroke-width="0.75" />
<line x1="486.30" y1="235.56" x2="486.30" y2="239.86" stroke="#5a5" stroke-width="0.75" />
<line x1="484.90" y1="235.56" x2="487.70" y2="235.56" stroke="#5a5" stroke-width="0.75" />
<line x1="484.90" y1="239.86" x2="487.70" y2="239.86" stroke="#5a5" stroke-width="0.75" />
<line x1="497.90" y1="236.74" x2="497.90" y2="241.04" stroke="#5a5" stroke-width="0.75" />
<line x1="496.50" y1="236.74" x2="499.30" y2="236.74" stroke="#5a5" stroke-width="0.75" />
<line x1="496.50" y1="241.04" x2="499.30" y2="241.04" stroke="#5a5" stroke-width="0.75" />
<line x1="507.90" y1="236.90" x2="507.90" y2="241.20" stroke="#5a5" stroke-width="0.75" />
<line x1="506.50" y1="236.90" x2="509.30" y2="236.90" stroke="#5a5" stroke-width="0.75" />
<line x1="506.50" y1="241.20" x2="509.30" y2="241.20" stroke="#5a5" stroke-width="0.75" />
<line x1="516.40" y1="236.90" x2="516.40" y2="241.20" stroke="#5a5" stroke-width="0.75" />
<line x1="515.00" y1="236.90" x2="517.80" y2="236.90" stroke="#5a5" stroke-width="0.75" />
<line x1="515.00" y1="241.20" x2="517.80" y2="241.20" stroke="#5a5" stroke-width="0.75" />
<polyline points="430.50,197.99 457.50,207.71 473.00,212.28 486.30,218.09 497.90,222.71 507.90,223.89 516.40,221.10" fill="none" stroke="#333" stroke-width="1.1" stroke-dasharray="2.2,1.4" stroke-linejoin="round"/>
<line x1="457.50" y1="202.88" x2="457.50" y2="212.55" stroke="#333" stroke-width="0.75" />
<line x1="456.10" y1="202.88" x2="458.90" y2="202.88" stroke="#333" stroke-width="0.75" />
<line x1="456.10" y1="212.55" x2="458.90" y2="212.55" stroke="#333" stroke-width="0.75" />
<line x1="473.00" y1="207.45" x2="473.00" y2="217.12" stroke="#333" stroke-width="0.75" />
<line x1="471.60" y1="207.45" x2="474.40" y2="207.45" stroke="#333" stroke-width="0.75" />
<line x1="471.60" y1="217.12" x2="474.40" y2="217.12" stroke="#333" stroke-width="0.75" />
<line x1="486.30" y1="213.25" x2="486.30" y2="222.93" stroke="#333" stroke-width="0.75" />
<line x1="484.90" y1="213.25" x2="487.70" y2="213.25" stroke="#333" stroke-width="0.75" />
<line x1="484.90" y1="222.93" x2="487.70" y2="222.93" stroke="#333" stroke-width="0.75" />
<line x1="497.90" y1="219.49" x2="497.90" y2="225.94" stroke="#333" stroke-width="0.75" />
<line x1="496.50" y1="219.49" x2="499.30" y2="219.49" stroke="#333" stroke-width="0.75" />
<line x1="496.50" y1="225.94" x2="499.30" y2="225.94" stroke="#333" stroke-width="0.75" />
<line x1="507.90" y1="221.21" x2="507.90" y2="226.58" stroke="#333" stroke-width="0.75" />
<line x1="506.50" y1="221.21" x2="509.30" y2="221.21" stroke="#333" stroke-width="0.75" />
<line x1="506.50" y1="226.58" x2="509.30" y2="226.58" stroke="#333" stroke-width="0.75" />
<line x1="516.40" y1="218.41" x2="516.40" y2="223.79" stroke="#333" stroke-width="0.75" />
<line x1="515.00" y1="218.41" x2="517.80" y2="218.41" stroke="#333" stroke-width="0.75" />
<line x1="515.00" y1="223.79" x2="517.80" y2="223.79" stroke="#333" stroke-width="0.75" />
<polyline points="430.50,185.84 457.50,194.98 473.00,196.21 486.30,200.89 497.90,205.40 507.90,206.59 516.40,206.80" fill="none" stroke="#333" stroke-width="1.1" stroke-linejoin="round"/>
<line x1="457.50" y1="190.94" x2="457.50" y2="199.01" stroke="#333" stroke-width="0.75" />
<line x1="456.10" y1="190.94" x2="458.90" y2="190.94" stroke="#333" stroke-width="0.75" />
<line x1="456.10" y1="199.01" x2="458.90" y2="199.01" stroke="#333" stroke-width="0.75" />
<line x1="473.00" y1="190.30" x2="473.00" y2="202.12" stroke="#333" stroke-width="0.75" />
<line x1="471.60" y1="190.30" x2="474.40" y2="190.30" stroke="#333" stroke-width="0.75" />
<line x1="471.60" y1="202.12" x2="474.40" y2="202.12" stroke="#333" stroke-width="0.75" />
<line x1="486.30" y1="193.90" x2="486.30" y2="207.88" stroke="#333" stroke-width="0.75" />
<line x1="484.90" y1="193.90" x2="487.70" y2="193.90" stroke="#333" stroke-width="0.75" />
<line x1="484.90" y1="207.88" x2="487.70" y2="207.88" stroke="#333" stroke-width="0.75" />
<line x1="497.90" y1="200.57" x2="497.90" y2="210.24" stroke="#333" stroke-width="0.75" />
<line x1="496.50" y1="200.57" x2="499.30" y2="200.57" stroke="#333" stroke-width="0.75" />
<line x1="496.50" y1="210.24" x2="499.30" y2="210.24" stroke="#333" stroke-width="0.75" />
<line x1="507.90" y1="200.67" x2="507.90" y2="212.50" stroke="#333" stroke-width="0.75" />
<line x1="506.50" y1="200.67" x2="509.30" y2="200.67" stroke="#333" stroke-width="0.75" />
<line x1="506.50" y1="212.50" x2="509.30" y2="212.50" stroke="#333" stroke-width="0.75" />
<line x1="516.40" y1="200.35" x2="516.40" y2="213.25" stroke="#333" stroke-width="0.75" />
<line x1="515.00" y1="200.35" x2="517.80" y2="200.35" stroke="#333" stroke-width="0.75" />
<line x1="515.00" y1="213.25" x2="517.80" y2="213.25" stroke="#333" stroke-width="0.75" />
<polyline points="430.50,228.52 457.50,227.33 473.00,229.70 486.30,229.91 497.90,232.06 507.90,234.32 516.40,236.58" fill="none" stroke="#d03030" stroke-width="1.1" stroke-dasharray="2.2,1.4" stroke-linejoin="round"/>
<line x1="457.50" y1="223.03" x2="457.50" y2="231.63" stroke="#c03030" stroke-width="0.75" />
<line x1="456.10" y1="223.03" x2="458.90" y2="223.03" stroke="#c03030" stroke-width="0.75" />
<line x1="456.10" y1="231.63" x2="458.90" y2="231.63" stroke="#c03030" stroke-width="0.75" />
<line x1="473.00" y1="225.94" x2="473.00" y2="233.46" stroke="#c03030" stroke-width="0.75" />
<line x1="471.60" y1="225.94" x2="474.40" y2="225.94" stroke="#c03030" stroke-width="0.75" />
<line x1="471.60" y1="233.46" x2="474.40" y2="233.46" stroke="#c03030" stroke-width="0.75" />
<line x1="486.30" y1="225.61" x2="486.30" y2="234.21" stroke="#c03030" stroke-width="0.75" />
<line x1="484.90" y1="225.61" x2="487.70" y2="225.61" stroke="#c03030" stroke-width="0.75" />
<line x1="484.90" y1="234.21" x2="487.70" y2="234.21" stroke="#c03030" stroke-width="0.75" />
<line x1="497.90" y1="227.76" x2="497.90" y2="236.36" stroke="#c03030" stroke-width="0.75" />
<line x1="496.50" y1="227.76" x2="499.30" y2="227.76" stroke="#c03030" stroke-width="0.75" />
<line x1="496.50" y1="236.36" x2="499.30" y2="236.36" stroke="#c03030" stroke-width="0.75" />
<line x1="507.90" y1="230.02" x2="507.90" y2="238.62" stroke="#c03030" stroke-width="0.75" />
<line x1="506.50" y1="230.02" x2="509.30" y2="230.02" stroke="#c03030" stroke-width="0.75" />
<line x1="506.50" y1="238.62" x2="509.30" y2="238.62" stroke="#c03030" stroke-width="0.75" />
<line x1="516.40" y1="232.28" x2="516.40" y2="240.88" stroke="#c03030" stroke-width="0.75" />
<line x1="515.00" y1="232.28" x2="517.80" y2="232.28" stroke="#c03030" stroke-width="0.75" />
<line x1="515.00" y1="240.88" x2="517.80" y2="240.88" stroke="#c03030" stroke-width="0.75" />
<polyline points="430.50,233.14 457.50,232.06 473.00,235.40 486.30,236.58 497.90,236.90 507.90,237.44 516.40,237.44" fill="none" stroke="#e03838" stroke-width="1.1" stroke-linejoin="round"/>
<line x1="457.50" y1="227.76" x2="457.50" y2="236.36" stroke="#c03030" stroke-width="0.75" />
<line x1="456.10" y1="227.76" x2="458.90" y2="227.76" stroke="#c03030" stroke-width="0.75" />
<line x1="456.10" y1="236.36" x2="458.90" y2="236.36" stroke="#c03030" stroke-width="0.75" />
<line x1="473.00" y1="231.63" x2="473.00" y2="239.16" stroke="#c03030" stroke-width="0.75" />
<line x1="471.60" y1="231.63" x2="474.40" y2="231.63" stroke="#c03030" stroke-width="0.75" />
<line x1="471.60" y1="239.16" x2="474.40" y2="239.16" stroke="#c03030" stroke-width="0.75" />
<line x1="486.30" y1="232.28" x2="486.30" y2="240.88" stroke="#c03030" stroke-width="0.75" />
<line x1="484.90" y1="232.28" x2="487.70" y2="232.28" stroke="#c03030" stroke-width="0.75" />
<line x1="484.90" y1="240.88" x2="487.70" y2="240.88" stroke="#c03030" stroke-width="0.75" />
<line x1="497.90" y1="232.60" x2="497.90" y2="241.20" stroke="#c03030" stroke-width="0.75" />
<line x1="496.50" y1="232.60" x2="499.30" y2="232.60" stroke="#c03030" stroke-width="0.75" />
<line x1="496.50" y1="241.20" x2="499.30" y2="241.20" stroke="#c03030" stroke-width="0.75" />
<line x1="507.90" y1="233.14" x2="507.90" y2="241.74" stroke="#c03030" stroke-width="0.75" />
<line x1="506.50" y1="233.14" x2="509.30" y2="233.14" stroke="#c03030" stroke-width="0.75" />
<line x1="506.50" y1="241.74" x2="509.30" y2="241.74" stroke="#c03030" stroke-width="0.75" />
<line x1="516.40" y1="233.14" x2="516.40" y2="241.74" stroke="#c03030" stroke-width="0.75" />
<line x1="515.00" y1="233.14" x2="517.80" y2="233.14" stroke="#c03030" stroke-width="0.75" />
<line x1="515.00" y1="241.74" x2="517.80" y2="241.74" stroke="#c03030" stroke-width="0.75" />
<text x="98.30" y="294.80" font-size="8.9" font-weight="bold" fill="#1a1a1a" stroke="#1a1a1a" stroke-width="0.22" text-anchor="middle" >Vehicle</text>
<text x="243.50" y="295.00" font-size="8.9" font-weight="bold" fill="#1a1a1a" stroke="#1a1a1a" stroke-width="0.22" text-anchor="middle" >FEN1i</text>
<text x="68.60" y="302.40" font-size="6.8" font-weight="normal" fill="#1a1a1a" stroke="#1a1a1a" stroke-width="0.17" text-anchor="middle" >Ki67</text>
<text x="130.20" y="302.40" font-size="6.8" font-weight="normal" fill="#1a1a1a" stroke="#1a1a1a" stroke-width="0.17" text-anchor="middle" >H&E</text>
<text x="213.20" y="302.40" font-size="6.8" font-weight="normal" fill="#1a1a1a" stroke="#1a1a1a" stroke-width="0.17" text-anchor="middle" >Ki67</text>
<text x="274.70" y="302.40" font-size="6.8" font-weight="normal" fill="#1a1a1a" stroke="#1a1a1a" stroke-width="0.17" text-anchor="middle" >H&E</text>
<text x="2.30" y="335.40" font-size="7.9" font-weight="normal" fill="#111" stroke="#111" stroke-width="0.20" text-anchor="start" >Patient 1</text>
<text x="2.10" y="400.20" font-size="7.9" font-weight="normal" fill="#111" stroke="#111" stroke-width="0.20" text-anchor="start" >Patient 2</text>
<rect x="40.60" y="306.50" width="55.00" height="55.00" fill="#dfd9da" stroke="none" stroke-width="0" />
<rect x="40.60" y="306.50" width="55.00" height="55.00" fill="#000" filter="url(#t_ki_0)"/>
<rect x="40.60" y="306.50" width="55.00" height="55.00" fill="#000" filter="url(#t_ki_1)"/>
<circle cx="83.9" cy="357.8" r="0.57" fill="#4a3632"/><circle cx="55.1" cy="347.6" r="0.51" fill="#4a3632"/><circle cx="84.1" cy="325.5" r="0.57" fill="#4a3632"/><circle cx="83.6" cy="308.5" r="0.50" fill="#4a3632"/><circle cx="62.7" cy="323.1" r="0.68" fill="#4a3632"/><circle cx="45.3" cy="331.3" r="0.49" fill="#4a3632"/><circle cx="48.7" cy="313.7" r="0.67" fill="#4a3632"/><circle cx="61.2" cy="356.3" r="0.51" fill="#4a3632"/><circle cx="59.4" cy="317.2" r="0.42" fill="#4a3632"/><circle cx="42.0" cy="348.2" r="0.67" fill="#4a3632"/><circle cx="91.5" cy="345.7" r="0.66" fill="#4a3632"/><circle cx="73.4" cy="332.8" r="0.68" fill="#4a3632"/><circle cx="70.9" cy="316.8" r="0.57" fill="#4a3632"/><circle cx="87.9" cy="347.5" r="0.56" fill="#4a3632"/><circle cx="80.6" cy="322.2" r="0.60" fill="#4a3632"/><circle cx="73.9" cy="310.7" r="0.68" fill="#4a3632"/><circle cx="86.3" cy="349.0" r="0.48" fill="#4a3632"/><circle cx="82.9" cy="326.4" r="0.42" fill="#4a3632"/><circle cx="89.4" cy="345.1" r="0.48" fill="#4a3632"/><circle cx="66.2" cy="317.2" r="0.67" fill="#4a3632"/><circle cx="59.1" cy="352.3" r="0.53" fill="#4a3632"/><circle cx="72.3" cy="321.8" r="0.41" fill="#4a3632"/><circle cx="43.2" cy="316.7" r="0.52" fill="#4a3632"/><circle cx="45.5" cy="332.8" r="0.47" fill="#4a3632"/><circle cx="55.9" cy="328.0" r="0.49" fill="#4a3632"/><circle cx="66.0" cy="338.2" r="0.57" fill="#4a3632"/><circle cx="41.8" cy="315.2" r="0.42" fill="#4a3632"/><circle cx="68.4" cy="332.9" r="0.50" fill="#4a3632"/><circle cx="63.6" cy="315.3" r="0.51" fill="#4a3632"/><circle cx="72.1" cy="352.0" r="0.54" fill="#4a3632"/><circle cx="78.4" cy="310.2" r="0.62" fill="#4a3632"/><circle cx="68.8" cy="336.4" r="0.64" fill="#4a3632"/><circle cx="80.1" cy="326.2" r="0.52" fill="#4a3632"/><circle cx="92.1" cy="345.5" r="0.68" fill="#4a3632"/><circle cx="67.6" cy="347.7" r="0.59" fill="#4a3632"/><circle cx="71.3" cy="340.5" r="0.60" fill="#4a3632"/><circle cx="60.1" cy="322.0" r="0.65" fill="#4a3632"/><circle cx="79.8" cy="326.6" r="0.55" fill="#4a3632"/><circle cx="92.1" cy="348.1" r="0.69" fill="#4a3632"/><circle cx="90.0" cy="319.0" r="0.56" fill="#4a3632"/>
<rect x="50.50" y="319.30" width="15.20" height="15.20" fill="none" stroke="#6a6264" stroke-width="0.6" />
<rect x="68.60" y="334.00" width="27.00" height="27.50" fill="#dfd9da" stroke="none" stroke-width="0" />
<rect x="68.60" y="334.00" width="27.00" height="27.50" fill="#000" filter="url(#ti_ki_0)"/>
<rect x="68.60" y="334.00" width="27.00" height="27.50" fill="#000" filter="url(#ti_ki_1)"/>
<circle cx="73.8" cy="339.9" r="0.98" fill="#4a3632"/><circle cx="90.5" cy="350.7" r="0.80" fill="#4a3632"/>
<circle cx="74" cy="343" r="1.0" fill="#3a2218"/>
<circle cx="92" cy="346" r="1.1" fill="#3a2218"/>
<circle cx="73" cy="356" r="1.0" fill="#3a2218"/>
<circle cx="80" cy="338" r="0.7" fill="#3a2218"/>
<rect x="68.60" y="334.00" width="27.00" height="27.50" fill="none" stroke="#1e1a1e" stroke-width="1.1" />
<rect x="40.60" y="306.50" width="55.00" height="55.00" fill="none" stroke="#2a2628" stroke-width="1.3" />
<text x="50.20" y="365.40" font-size="3.6" font-weight="bold" fill="#222" stroke="#222" stroke-width="0.09" text-anchor="middle" >100 μm</text>
<line x1="42.60" y1="367.00" x2="57.60" y2="367.00" stroke="#555" stroke-width="0.6" />
<line x1="42.60" y1="365.70" x2="42.60" y2="367.40" stroke="#555" stroke-width="0.6" />
<line x1="57.60" y1="365.70" x2="57.60" y2="367.40" stroke="#555" stroke-width="0.6" />
<rect x="103.30" y="307.20" width="55.30" height="55.30" fill="#d8b0d6" stroke="none" stroke-width="0" />
<rect x="103.30" y="307.20" width="55.30" height="55.30" fill="#000" filter="url(#t_he_0)"/>
<rect x="103.30" y="307.20" width="55.30" height="55.30" fill="#000" filter="url(#t_he_1)"/>
<rect x="103.30" y="307.20" width="55.30" height="55.30" fill="#000" filter="url(#t_he_2)"/>
<circle cx="138.4" cy="341.7" r="0.35" fill="#7a5a8a"/><circle cx="147.3" cy="326.1" r="0.37" fill="#7a5a8a"/><circle cx="142.6" cy="326.9" r="0.49" fill="#7a5a8a"/><circle cx="128.8" cy="328.1" r="0.30" fill="#7a5a8a"/><circle cx="144.6" cy="319.6" r="0.39" fill="#7a5a8a"/><circle cx="140.3" cy="333.1" r="0.49" fill="#7a5a8a"/><circle cx="125.3" cy="327.3" r="0.32" fill="#7a5a8a"/><circle cx="105.8" cy="314.5" r="0.41" fill="#7a5a8a"/><circle cx="110.4" cy="334.8" r="0.33" fill="#7a5a8a"/><circle cx="146.6" cy="310.1" r="0.46" fill="#7a5a8a"/><circle cx="154.1" cy="358.7" r="0.39" fill="#7a5a8a"/><circle cx="147.5" cy="317.3" r="0.49" fill="#7a5a8a"/><circle cx="156.3" cy="346.5" r="0.49" fill="#7a5a8a"/><circle cx="137.6" cy="360.0" r="0.38" fill="#7a5a8a"/><circle cx="108.6" cy="319.3" r="0.47" fill="#7a5a8a"/><circle cx="149.2" cy="328.7" r="0.44" fill="#7a5a8a"/><circle cx="152.3" cy="326.8" r="0.35" fill="#7a5a8a"/><circle cx="156.8" cy="327.9" r="0.48" fill="#7a5a8a"/><circle cx="117.8" cy="359.5" r="0.31" fill="#7a5a8a"/><circle cx="123.1" cy="331.6" r="0.31" fill="#7a5a8a"/><circle cx="147.6" cy="358.3" r="0.38" fill="#7a5a8a"/><circle cx="141.3" cy="322.3" r="0.36" fill="#7a5a8a"/><circle cx="140.0" cy="335.6" r="0.32" fill="#7a5a8a"/><circle cx="157.1" cy="360.9" r="0.42" fill="#7a5a8a"/><circle cx="153.5" cy="326.1" r="0.39" fill="#7a5a8a"/><circle cx="138.2" cy="312.2" r="0.31" fill="#7a5a8a"/><circle cx="131.6" cy="318.6" r="0.45" fill="#7a5a8a"/><circle cx="138.1" cy="329.9" r="0.40" fill="#7a5a8a"/><circle cx="141.1" cy="315.0" r="0.45" fill="#7a5a8a"/><circle cx="148.7" cy="319.1" r="0.33" fill="#7a5a8a"/><circle cx="144.4" cy="343.3" r="0.46" fill="#7a5a8a"/><circle cx="157.5" cy="346.4" r="0.48" fill="#7a5a8a"/><circle cx="115.3" cy="329.6" r="0.48" fill="#7a5a8a"/><circle cx="142.3" cy="342.5" r="0.38" fill="#7a5a8a"/><circle cx="116.8" cy="354.3" r="0.31" fill="#7a5a8a"/><circle cx="152.2" cy="352.8" r="0.49" fill="#7a5a8a"/><circle cx="106.2" cy="337.0" r="0.44" fill="#7a5a8a"/><circle cx="125.9" cy="358.9" r="0.43" fill="#7a5a8a"/><circle cx="148.9" cy="310.5" r="0.49" fill="#7a5a8a"/><circle cx="113.7" cy="324.9" r="0.38" fill="#7a5a8a"/><circle cx="144.8" cy="313.2" r="0.39" fill="#7a5a8a"/><circle cx="150.0" cy="339.2" r="0.36" fill="#7a5a8a"/><circle cx="134.4" cy="316.6" r="0.32" fill="#7a5a8a"/><circle cx="128.2" cy="321.2" r="0.41" fill="#7a5a8a"/><circle cx="110.4" cy="317.4" r="0.44" fill="#7a5a8a"/><circle cx="146.4" cy="315.5" r="0.47" fill="#7a5a8a"/><circle cx="144.9" cy="345.3" r="0.41" fill="#7a5a8a"/><circle cx="110.3" cy="323.8" r="0.31" fill="#7a5a8a"/><circle cx="150.3" cy="353.8" r="0.31" fill="#7a5a8a"/><circle cx="150.5" cy="320.6" r="0.49" fill="#7a5a8a"/><circle cx="141.3" cy="327.4" r="0.40" fill="#7a5a8a"/><circle cx="138.2" cy="334.4" r="0.41" fill="#7a5a8a"/><circle cx="147.3" cy="312.0" r="0.37" fill="#7a5a8a"/><circle cx="154.4" cy="344.5" r="0.39" fill="#7a5a8a"/><circle cx="104.3" cy="350.5" r="0.37" fill="#7a5a8a"/><circle cx="130.8" cy="320.6" r="0.34" fill="#7a5a8a"/><circle cx="155.8" cy="323.2" r="0.46" fill="#7a5a8a"/><circle cx="109.6" cy="351.1" r="0.45" fill="#7a5a8a"/><circle cx="138.3" cy="332.8" r="0.35" fill="#7a5a8a"/><circle cx="109.6" cy="339.3" r="0.48" fill="#7a5a8a"/>
<rect x="113.00" y="318.80" width="14.60" height="14.60" fill="none" stroke="#e8d0e8" stroke-width="0.6" />
<rect x="131.60" y="335.30" width="27.00" height="27.20" fill="#d8b0d6" stroke="none" stroke-width="0" />
<rect x="131.60" y="335.30" width="27.00" height="27.20" fill="#000" filter="url(#ti_he_0)"/>
<rect x="131.60" y="335.30" width="27.00" height="27.20" fill="#000" filter="url(#ti_he_1)"/>
<rect x="131.60" y="335.30" width="27.00" height="27.20" fill="#000" filter="url(#ti_he_2)"/>
<circle cx="151.3" cy="348.9" r="0.52" fill="#7a5a8a"/><circle cx="146.3" cy="342.4" r="0.65" fill="#7a5a8a"/><circle cx="157.5" cy="349.9" r="0.49" fill="#7a5a8a"/><circle cx="137.0" cy="359.0" r="0.53" fill="#7a5a8a"/><circle cx="142.1" cy="337.4" r="0.58" fill="#7a5a8a"/><circle cx="141.6" cy="361.0" r="0.78" fill="#7a5a8a"/><circle cx="135.5" cy="355.8" r="0.56" fill="#7a5a8a"/><circle cx="146.1" cy="349.3" r="0.66" fill="#7a5a8a"/><circle cx="146.6" cy="347.2" r="0.62" fill="#7a5a8a"/><circle cx="142.4" cy="341.2" r="0.54" fill="#7a5a8a"/>
<rect x="131.60" y="335.30" width="27.00" height="27.20" fill="none" stroke="#1e1a1e" stroke-width="1.1" />
<rect x="103.30" y="307.20" width="55.30" height="55.30" fill="none" stroke="#2a2628" stroke-width="1.3" />
<text x="112.90" y="366.40" font-size="3.6" font-weight="bold" fill="#222" stroke="#222" stroke-width="0.09" text-anchor="middle" >100 μm</text>
<line x1="105.30" y1="368.00" x2="120.30" y2="368.00" stroke="#555" stroke-width="0.6" />
<line x1="105.30" y1="366.70" x2="105.30" y2="368.40" stroke="#555" stroke-width="0.6" />
<line x1="120.30" y1="366.70" x2="120.30" y2="368.40" stroke="#555" stroke-width="0.6" />
<rect x="186.00" y="307.50" width="54.80" height="54.80" fill="#e0dddd" stroke="none" stroke-width="0" />
<rect x="186.00" y="307.50" width="54.80" height="54.80" fill="#000" filter="url(#t_kig_0)"/>
<rect x="186.00" y="307.50" width="54.80" height="54.80" fill="#000" filter="url(#t_kig_1)"/>
<circle cx="213.7" cy="317.4" r="0.35" fill="#aaa6a6"/><circle cx="229.6" cy="345.3" r="0.33" fill="#aaa6a6"/><circle cx="233.8" cy="354.0" r="0.31" fill="#aaa6a6"/><circle cx="221.0" cy="328.5" r="0.31" fill="#aaa6a6"/><circle cx="203.8" cy="342.6" r="0.32" fill="#aaa6a6"/><circle cx="204.0" cy="344.8" r="0.34" fill="#aaa6a6"/><circle cx="233.2" cy="338.7" r="0.39" fill="#aaa6a6"/><circle cx="189.0" cy="312.2" r="0.39" fill="#aaa6a6"/><circle cx="196.2" cy="336.2" r="0.43" fill="#aaa6a6"/><circle cx="218.2" cy="331.9" r="0.32" fill="#aaa6a6"/>
<rect x="190.70" y="314.10" width="15.50" height="15.50" fill="none" stroke="#6a6264" stroke-width="0.6" />
<rect x="213.60" y="335.30" width="27.20" height="27.00" fill="#e0dddd" stroke="none" stroke-width="0" />
<rect x="213.60" y="335.30" width="27.20" height="27.00" fill="#000" filter="url(#ti_kig_0)"/>
<rect x="213.60" y="335.30" width="27.20" height="27.00" fill="#000" filter="url(#ti_kig_1)"/>
<circle cx="233.9" cy="356.1" r="0.51" fill="#aaa6a6"/>
<rect x="213.60" y="335.30" width="27.20" height="27.00" fill="none" stroke="#1e1a1e" stroke-width="1.1" />
<rect x="186.00" y="307.50" width="54.80" height="54.80" fill="none" stroke="#2a2628" stroke-width="1.3" />
<text x="195.60" y="366.20" font-size="3.6" font-weight="bold" fill="#222" stroke="#222" stroke-width="0.09" text-anchor="middle" >100 μm</text>
<line x1="188.00" y1="367.80" x2="203.00" y2="367.80" stroke="#555" stroke-width="0.6" />
<line x1="188.00" y1="366.50" x2="188.00" y2="368.20" stroke="#555" stroke-width="0.6" />
<line x1="203.00" y1="366.50" x2="203.00" y2="368.20" stroke="#555" stroke-width="0.6" />
<rect x="249.30" y="307.80" width="55.20" height="55.20" fill="#e2acd8" stroke="none" stroke-width="0" />
<rect x="249.30" y="307.80" width="55.20" height="55.20" fill="#000" filter="url(#t_he2_0)"/>
<rect x="249.30" y="307.80" width="55.20" height="55.20" fill="#000" filter="url(#t_he2_1)"/>
<rect x="249.30" y="307.80" width="55.20" height="55.20" fill="#000" filter="url(#t_he2_2)"/>
<circle cx="259.4" cy="327.6" r="0.34" fill="#8a4a90"/><circle cx="266.8" cy="356.4" r="0.30" fill="#8a4a90"/><circle cx="292.2" cy="346.0" r="0.31" fill="#8a4a90"/><circle cx="252.1" cy="338.4" r="0.48" fill="#8a4a90"/><circle cx="272.7" cy="347.5" r="0.47" fill="#8a4a90"/><circle cx="303.0" cy="343.0" r="0.37" fill="#8a4a90"/><circle cx="290.4" cy="340.6" r="0.39" fill="#8a4a90"/><circle cx="294.7" cy="331.2" r="0.43" fill="#8a4a90"/><circle cx="288.2" cy="355.5" r="0.33" fill="#8a4a90"/><circle cx="294.2" cy="357.3" r="0.31" fill="#8a4a90"/><circle cx="262.1" cy="336.9" r="0.39" fill="#8a4a90"/><circle cx="297.8" cy="312.3" r="0.30" fill="#8a4a90"/><circle cx="295.7" cy="345.8" r="0.40" fill="#8a4a90"/><circle cx="266.0" cy="337.3" r="0.48" fill="#8a4a90"/><circle cx="289.7" cy="334.5" r="0.33" fill="#8a4a90"/><circle cx="268.3" cy="333.5" r="0.45" fill="#8a4a90"/><circle cx="297.4" cy="347.9" r="0.45" fill="#8a4a90"/><circle cx="296.1" cy="338.5" r="0.33" fill="#8a4a90"/><circle cx="299.6" cy="334.4" r="0.48" fill="#8a4a90"/><circle cx="283.0" cy="339.1" r="0.40" fill="#8a4a90"/><circle cx="261.8" cy="349.9" r="0.32" fill="#8a4a90"/><circle cx="281.1" cy="317.9" r="0.33" fill="#8a4a90"/><circle cx="285.4" cy="361.1" r="0.43" fill="#8a4a90"/><circle cx="272.6" cy="324.5" r="0.46" fill="#8a4a90"/><circle cx="288.6" cy="346.6" r="0.49" fill="#8a4a90"/><circle cx="263.9" cy="359.8" r="0.38" fill="#8a4a90"/><circle cx="280.4" cy="311.0" r="0.42" fill="#8a4a90"/><circle cx="296.5" cy="325.3" r="0.31" fill="#8a4a90"/><circle cx="278.4" cy="349.8" r="0.36" fill="#8a4a90"/><circle cx="264.1" cy="316.4" r="0.41" fill="#8a4a90"/><circle cx="285.9" cy="330.5" r="0.48" fill="#8a4a90"/><circle cx="278.1" cy="358.5" r="0.43" fill="#8a4a90"/><circle cx="258.8" cy="351.3" r="0.32" fill="#8a4a90"/><circle cx="295.8" cy="339.0" r="0.33" fill="#8a4a90"/><circle cx="266.1" cy="327.5" r="0.38" fill="#8a4a90"/>
<rect x="254.50" y="315.20" width="15.50" height="15.50" fill="none" stroke="#6a4a6a" stroke-width="0.6" />
<rect x="277.40" y="335.30" width="27.10" height="27.70" fill="#e2acd8" stroke="none" stroke-width="0" />
<rect x="277.40" y="335.30" width="27.10" height="27.70" fill="#000" filter="url(#ti_he2_0)"/>
<rect x="277.40" y="335.30" width="27.10" height="27.70" fill="#000" filter="url(#ti_he2_1)"/>
<rect x="277.40" y="335.30" width="27.10" height="27.70" fill="#000" filter="url(#ti_he2_2)"/>
<circle cx="279.7" cy="340.3" r="0.79" fill="#8a4a90"/><circle cx="284.7" cy="338.3" r="0.51" fill="#8a4a90"/><circle cx="291.6" cy="346.4" r="0.71" fill="#8a4a90"/><circle cx="286.9" cy="340.5" r="0.73" fill="#8a4a90"/><circle cx="282.0" cy="350.9" r="0.73" fill="#8a4a90"/>
<rect x="277.40" y="335.30" width="27.10" height="27.70" fill="none" stroke="#1e1a1e" stroke-width="1.1" />
<rect x="249.30" y="307.80" width="55.20" height="55.20" fill="none" stroke="#2a2628" stroke-width="1.3" />
<text x="258.90" y="366.90" font-size="3.6" font-weight="bold" fill="#222" stroke="#222" stroke-width="0.09" text-anchor="middle" >100 μm</text>
<line x1="251.30" y1="368.50" x2="266.30" y2="368.50" stroke="#555" stroke-width="0.6" />
<line x1="251.30" y1="367.20" x2="251.30" y2="368.90" stroke="#555" stroke-width="0.6" />
<line x1="266.30" y1="367.20" x2="266.30" y2="368.90" stroke="#555" stroke-width="0.6" />
<rect x="40.70" y="371.40" width="55.20" height="55.20" fill="#dfd9da" stroke="none" stroke-width="0" />
<rect x="40.70" y="371.40" width="55.20" height="55.20" fill="#000" filter="url(#t_ki_0)"/>
<rect x="40.70" y="371.40" width="55.20" height="55.20" fill="#000" filter="url(#t_ki_1)"/>
<circle cx="66.3" cy="402.8" r="0.55" fill="#4a3632"/><circle cx="81.7" cy="382.6" r="0.39" fill="#4a3632"/><circle cx="81.4" cy="409.0" r="0.50" fill="#4a3632"/><circle cx="93.9" cy="401.4" r="0.43" fill="#4a3632"/><circle cx="59.3" cy="374.1" r="0.55" fill="#4a3632"/><circle cx="63.3" cy="399.7" r="0.39" fill="#4a3632"/><circle cx="90.7" cy="394.5" r="0.36" fill="#4a3632"/><circle cx="80.4" cy="412.9" r="0.37" fill="#4a3632"/><circle cx="77.4" cy="381.2" r="0.40" fill="#4a3632"/><circle cx="90.7" cy="422.6" r="0.37" fill="#4a3632"/><circle cx="46.9" cy="393.8" r="0.39" fill="#4a3632"/><circle cx="80.9" cy="377.5" r="0.41" fill="#4a3632"/><circle cx="77.8" cy="395.9" r="0.51" fill="#4a3632"/><circle cx="56.6" cy="419.1" r="0.53" fill="#4a3632"/><circle cx="65.4" cy="407.4" r="0.50" fill="#4a3632"/><circle cx="67.4" cy="424.3" r="0.55" fill="#4a3632"/><circle cx="78.5" cy="420.3" r="0.46" fill="#4a3632"/><circle cx="93.2" cy="394.1" r="0.48" fill="#4a3632"/><circle cx="76.4" cy="396.1" r="0.42" fill="#4a3632"/><circle cx="70.2" cy="377.0" r="0.48" fill="#4a3632"/><circle cx="85.4" cy="399.7" r="0.47" fill="#4a3632"/><circle cx="89.8" cy="423.3" r="0.46" fill="#4a3632"/><circle cx="86.6" cy="383.4" r="0.42" fill="#4a3632"/><circle cx="92.8" cy="406.3" r="0.45" fill="#4a3632"/><circle cx="50.4" cy="422.5" r="0.49" fill="#4a3632"/><circle cx="81.1" cy="391.8" r="0.53" fill="#4a3632"/><circle cx="77.6" cy="383.1" r="0.56" fill="#4a3632"/><circle cx="86.5" cy="374.7" r="0.40" fill="#4a3632"/><circle cx="54.7" cy="405.9" r="0.40" fill="#4a3632"/><circle cx="56.4" cy="420.6" r="0.42" fill="#4a3632"/>
<rect x="50.30" y="373.90" width="15.30" height="15.30" fill="none" stroke="#6a6264" stroke-width="0.6" />
<rect x="68.50" y="399.60" width="27.40" height="27.00" fill="#dfd9da" stroke="none" stroke-width="0" />
<rect x="68.50" y="399.60" width="27.40" height="27.00" fill="#000" filter="url(#ti_ki_0)"/>
<rect x="68.50" y="399.60" width="27.40" height="27.00" fill="#000" filter="url(#ti_ki_1)"/>
<circle cx="90.9" cy="409.9" r="0.86" fill="#4a3632"/><circle cx="77.2" cy="410.2" r="0.92" fill="#4a3632"/>
<circle cx="73" cy="404" r="0.7" fill="#3a2218"/>
<circle cx="92" cy="405" r="0.8" fill="#3a2218"/>
<circle cx="80" cy="420" r="0.6" fill="#3a2218"/>
<circle cx="88" cy="412" r="0.5" fill="#3a2218"/>
<rect x="68.50" y="399.60" width="27.40" height="27.00" fill="none" stroke="#1e1a1e" stroke-width="1.1" />
<rect x="40.70" y="371.40" width="55.20" height="55.20" fill="none" stroke="#2a2628" stroke-width="1.3" />
<text x="50.30" y="430.50" font-size="3.6" font-weight="bold" fill="#222" stroke="#222" stroke-width="0.09" text-anchor="middle" >100 μm</text>
<line x1="42.70" y1="432.10" x2="57.70" y2="432.10" stroke="#555" stroke-width="0.6" />
<line x1="42.70" y1="430.80" x2="42.70" y2="432.50" stroke="#555" stroke-width="0.6" />
<line x1="57.70" y1="430.80" x2="57.70" y2="432.50" stroke="#555" stroke-width="0.6" />
<rect x="103.20" y="372.20" width="55.10" height="55.10" fill="#da9ccc" stroke="none" stroke-width="0" />
<rect x="103.20" y="372.20" width="55.10" height="55.10" fill="#000" filter="url(#t_he3_0)"/>
<rect x="103.20" y="372.20" width="55.10" height="55.10" fill="#000" filter="url(#t_he3_1)"/>
<rect x="103.20" y="372.20" width="55.10" height="55.10" fill="#000" filter="url(#t_he3_2)"/>
<rect x="103.20" y="372.20" width="55.10" height="55.10" fill="url(#band5)" stroke="none" stroke-width="0" />
<rect x="103.20" y="372.20" width="55.10" height="55.10" fill="url(#pale5)" stroke="none" stroke-width="0" />
<rect x="103.20" y="372.20" width="55.10" height="55.10" fill="url(#pale5b)" stroke="none" stroke-width="0" />
<circle cx="112.1" cy="418.0" r="0.36" fill="#7a3a88"/><circle cx="141.5" cy="388.8" r="0.46" fill="#7a3a88"/><circle cx="138.4" cy="376.4" r="0.49" fill="#7a3a88"/><circle cx="149.0" cy="394.7" r="0.41" fill="#7a3a88"/><circle cx="142.5" cy="412.8" r="0.47" fill="#7a3a88"/><circle cx="155.6" cy="422.7" r="0.35" fill="#7a3a88"/><circle cx="105.3" cy="388.1" r="0.34" fill="#7a3a88"/><circle cx="144.7" cy="414.1" r="0.50" fill="#7a3a88"/><circle cx="149.7" cy="414.5" r="0.50" fill="#7a3a88"/><circle cx="143.6" cy="393.5" r="0.46" fill="#7a3a88"/><circle cx="147.9" cy="389.8" r="0.35" fill="#7a3a88"/><circle cx="114.0" cy="377.0" r="0.45" fill="#7a3a88"/><circle cx="157.2" cy="415.9" r="0.42" fill="#7a3a88"/><circle cx="152.5" cy="394.6" r="0.37" fill="#7a3a88"/><circle cx="104.6" cy="382.3" r="0.44" fill="#7a3a88"/><circle cx="126.4" cy="424.6" r="0.30" fill="#7a3a88"/><circle cx="150.4" cy="416.4" r="0.42" fill="#7a3a88"/><circle cx="137.1" cy="407.2" r="0.31" fill="#7a3a88"/><circle cx="125.1" cy="424.3" r="0.40" fill="#7a3a88"/><circle cx="110.2" cy="397.0" r="0.32" fill="#7a3a88"/><circle cx="140.1" cy="391.2" r="0.50" fill="#7a3a88"/><circle cx="153.7" cy="402.7" r="0.33" fill="#7a3a88"/><circle cx="130.7" cy="414.6" r="0.32" fill="#7a3a88"/><circle cx="118.1" cy="393.5" r="0.46" fill="#7a3a88"/><circle cx="113.8" cy="388.1" r="0.47" fill="#7a3a88"/><circle cx="118.9" cy="411.6" r="0.31" fill="#7a3a88"/><circle cx="130.0" cy="379.7" r="0.41" fill="#7a3a88"/><circle cx="113.5" cy="379.1" r="0.48" fill="#7a3a88"/><circle cx="142.6" cy="400.7" r="0.31" fill="#7a3a88"/><circle cx="129.8" cy="373.2" r="0.46" fill="#7a3a88"/><circle cx="130.7" cy="380.2" r="0.39" fill="#7a3a88"/><circle cx="149.0" cy="422.3" r="0.40" fill="#7a3a88"/><circle cx="138.3" cy="393.1" r="0.45" fill="#7a3a88"/><circle cx="127.6" cy="421.2" r="0.43" fill="#7a3a88"/><circle cx="111.2" cy="393.8" r="0.47" fill="#7a3a88"/><circle cx="112.0" cy="404.8" r="0.43" fill="#7a3a88"/><circle cx="113.8" cy="394.3" r="0.34" fill="#7a3a88"/><circle cx="106.5" cy="397.8" r="0.30" fill="#7a3a88"/><circle cx="112.8" cy="400.5" r="0.40" fill="#7a3a88"/><circle cx="120.7" cy="388.3" r="0.38" fill="#7a3a88"/><circle cx="153.3" cy="425.6" r="0.32" fill="#7a3a88"/><circle cx="141.4" cy="422.1" r="0.47" fill="#7a3a88"/><circle cx="143.4" cy="414.0" r="0.37" fill="#7a3a88"/><circle cx="120.3" cy="378.6" r="0.38" fill="#7a3a88"/><circle cx="156.7" cy="420.0" r="0.31" fill="#7a3a88"/><circle cx="117.0" cy="378.0" r="0.41" fill="#7a3a88"/><circle cx="114.2" cy="385.4" r="0.50" fill="#7a3a88"/><circle cx="117.3" cy="390.3" r="0.48" fill="#7a3a88"/><circle cx="141.3" cy="379.1" r="0.41" fill="#7a3a88"/><circle cx="152.8" cy="400.4" r="0.35" fill="#7a3a88"/><circle cx="136.1" cy="419.0" r="0.31" fill="#7a3a88"/><circle cx="104.8" cy="413.2" r="0.41" fill="#7a3a88"/><circle cx="130.2" cy="380.9" r="0.46" fill="#7a3a88"/><circle cx="130.8" cy="411.4" r="0.36" fill="#7a3a88"/><circle cx="117.6" cy="409.7" r="0.31" fill="#7a3a88"/><circle cx="149.4" cy="387.0" r="0.37" fill="#7a3a88"/><circle cx="156.5" cy="416.5" r="0.47" fill="#7a3a88"/><circle cx="130.5" cy="396.3" r="0.45" fill="#7a3a88"/><circle cx="117.9" cy="389.5" r="0.50" fill="#7a3a88"/><circle cx="155.1" cy="421.9" r="0.44" fill="#7a3a88"/><circle cx="148.0" cy="417.6" r="0.37" fill="#7a3a88"/><circle cx="141.8" cy="385.6" r="0.42" fill="#7a3a88"/><circle cx="130.7" cy="381.0" r="0.44" fill="#7a3a88"/><circle cx="147.3" cy="382.4" r="0.36" fill="#7a3a88"/><circle cx="138.0" cy="385.7" r="0.48" fill="#7a3a88"/><circle cx="129.9" cy="413.2" r="0.43" fill="#7a3a88"/><circle cx="129.5" cy="390.5" r="0.37" fill="#7a3a88"/><circle cx="152.1" cy="414.8" r="0.32" fill="#7a3a88"/><circle cx="137.0" cy="377.8" r="0.39" fill="#7a3a88"/><circle cx="136.1" cy="401.8" r="0.34" fill="#7a3a88"/><circle cx="124.1" cy="394.5" r="0.36" fill="#7a3a88"/><circle cx="150.4" cy="413.7" r="0.41" fill="#7a3a88"/><circle cx="104.4" cy="426.1" r="0.33" fill="#7a3a88"/><circle cx="124.0" cy="408.4" r="0.44" fill="#7a3a88"/><circle cx="115.4" cy="379.6" r="0.37" fill="#7a3a88"/><circle cx="155.0" cy="376.5" r="0.39" fill="#7a3a88"/><circle cx="142.7" cy="398.0" r="0.36" fill="#7a3a88"/><circle cx="137.9" cy="402.6" r="0.45" fill="#7a3a88"/><circle cx="138.5" cy="408.7" r="0.45" fill="#7a3a88"/><circle cx="148.6" cy="386.7" r="0.37" fill="#7a3a88"/><circle cx="128.7" cy="397.3" r="0.43" fill="#7a3a88"/><circle cx="111.0" cy="416.2" r="0.49" fill="#7a3a88"/><circle cx="109.1" cy="396.8" r="0.42" fill="#7a3a88"/><circle cx="129.6" cy="418.4" r="0.32" fill="#7a3a88"/><circle cx="138.4" cy="390.8" r="0.38" fill="#7a3a88"/><circle cx="135.6" cy="411.8" r="0.43" fill="#7a3a88"/><circle cx="123.5" cy="389.9" r="0.31" fill="#7a3a88"/><circle cx="133.9" cy="385.1" r="0.40" fill="#7a3a88"/><circle cx="154.2" cy="391.5" r="0.30" fill="#7a3a88"/><circle cx="140.9" cy="411.7" r="0.46" fill="#7a3a88"/>
<rect x="112.90" y="374.70" width="16.10" height="16.10" fill="none" stroke="#6a4a6a" stroke-width="0.6" />
<rect x="131.40" y="400.10" width="26.90" height="27.20" fill="#da9ccc" stroke="none" stroke-width="0" />
<rect x="131.40" y="400.10" width="26.90" height="27.20" fill="#000" filter="url(#ti_he3_0)"/>
<rect x="131.40" y="400.10" width="26.90" height="27.20" fill="#000" filter="url(#ti_he3_1)"/>
<rect x="131.40" y="400.10" width="26.90" height="27.20" fill="#000" filter="url(#ti_he3_2)"/>
<circle cx="151.8" cy="401.3" r="0.58" fill="#7a3a88"/><circle cx="143.2" cy="408.7" r="0.79" fill="#7a3a88"/><circle cx="150.3" cy="420.9" r="0.75" fill="#7a3a88"/><circle cx="142.6" cy="403.7" r="0.77" fill="#7a3a88"/><circle cx="143.8" cy="408.9" r="0.54" fill="#7a3a88"/><circle cx="154.6" cy="418.3" r="0.61" fill="#7a3a88"/><circle cx="146.0" cy="414.3" r="0.64" fill="#7a3a88"/><circle cx="142.3" cy="409.8" r="0.62" fill="#7a3a88"/><circle cx="134.6" cy="425.1" r="0.67" fill="#7a3a88"/><circle cx="145.6" cy="416.8" r="0.49" fill="#7a3a88"/><circle cx="156.0" cy="406.5" r="0.76" fill="#7a3a88"/><circle cx="148.6" cy="416.5" r="0.56" fill="#7a3a88"/><circle cx="149.7" cy="420.6" r="0.54" fill="#7a3a88"/><circle cx="140.9" cy="424.8" r="0.57" fill="#7a3a88"/><circle cx="156.3" cy="404.5" r="0.52" fill="#7a3a88"/>
<rect x="131.40" y="400.10" width="26.90" height="27.20" fill="none" stroke="#1e1a1e" stroke-width="1.1" />
<rect x="103.20" y="372.20" width="55.10" height="55.10" fill="none" stroke="#2a2628" stroke-width="1.3" />
<text x="112.80" y="431.20" font-size="3.6" font-weight="bold" fill="#222" stroke="#222" stroke-width="0.09" text-anchor="middle" >100 μm</text>
<line x1="105.20" y1="432.80" x2="120.20" y2="432.80" stroke="#555" stroke-width="0.6" />
<line x1="105.20" y1="431.50" x2="105.20" y2="433.20" stroke="#555" stroke-width="0.6" />
<line x1="120.20" y1="431.50" x2="120.20" y2="433.20" stroke="#555" stroke-width="0.6" />
<rect x="185.80" y="372.00" width="55.20" height="55.20" fill="#e0dddd" stroke="none" stroke-width="0" />
<rect x="185.80" y="372.00" width="55.20" height="55.20" fill="#000" filter="url(#t_kig_0)"/>
<rect x="185.80" y="372.00" width="55.20" height="55.20" fill="#000" filter="url(#t_kig_1)"/>
<circle cx="227.1" cy="399.1" r="0.36" fill="#aaa6a6"/><circle cx="208.9" cy="387.4" r="0.34" fill="#aaa6a6"/><circle cx="214.7" cy="410.3" r="0.42" fill="#aaa6a6"/><circle cx="209.5" cy="423.9" r="0.32" fill="#aaa6a6"/><circle cx="239.8" cy="415.4" r="0.43" fill="#aaa6a6"/><circle cx="193.6" cy="406.1" r="0.41" fill="#aaa6a6"/><circle cx="232.3" cy="413.1" r="0.30" fill="#aaa6a6"/><circle cx="218.0" cy="378.9" r="0.43" fill="#aaa6a6"/>
<rect x="188.00" y="374.50" width="15.70" height="15.70" fill="none" stroke="#6a6264" stroke-width="0.6" />
<rect x="213.75" y="399.50" width="27.25" height="27.70" fill="#e0dddd" stroke="none" stroke-width="0" />
<rect x="213.75" y="399.50" width="27.25" height="27.70" fill="#000" filter="url(#ti_kig_0)"/>
<rect x="213.75" y="399.50" width="27.25" height="27.70" fill="#000" filter="url(#ti_kig_1)"/>
<circle cx="230.5" cy="423.2" r="0.54" fill="#aaa6a6"/>
<rect x="213.75" y="399.50" width="27.25" height="27.70" fill="none" stroke="#1e1a1e" stroke-width="1.1" />
<rect x="185.80" y="372.00" width="55.20" height="55.20" fill="none" stroke="#2a2628" stroke-width="1.3" />
<text x="195.40" y="431.10" font-size="3.6" font-weight="bold" fill="#222" stroke="#222" stroke-width="0.09" text-anchor="middle" >100 μm</text>
<line x1="187.80" y1="432.70" x2="202.80" y2="432.70" stroke="#555" stroke-width="0.6" />
<line x1="187.80" y1="431.40" x2="187.80" y2="433.10" stroke="#555" stroke-width="0.6" />
<line x1="202.80" y1="431.40" x2="202.80" y2="433.10" stroke="#555" stroke-width="0.6" />
<rect x="248.90" y="372.60" width="55.60" height="55.60" fill="#de8ecc" stroke="none" stroke-width="0" />
<rect x="248.90" y="372.60" width="55.60" height="55.60" fill="#000" filter="url(#t_he4_0)"/>
<rect x="248.90" y="372.60" width="55.60" height="55.60" fill="#000" filter="url(#t_he4_1)"/>
<rect x="248.90" y="372.60" width="55.60" height="55.60" fill="#000" filter="url(#t_he4_2)"/>
<circle cx="275.7" cy="406.7" r="0.49" fill="#883c8c"/><circle cx="275.9" cy="386.6" r="0.37" fill="#883c8c"/><circle cx="300.1" cy="408.5" r="0.48" fill="#883c8c"/><circle cx="269.7" cy="411.0" r="0.49" fill="#883c8c"/><circle cx="256.5" cy="417.1" r="0.48" fill="#883c8c"/><circle cx="301.6" cy="381.0" r="0.34" fill="#883c8c"/><circle cx="299.0" cy="395.5" r="0.36" fill="#883c8c"/><circle cx="285.1" cy="391.1" r="0.37" fill="#883c8c"/><circle cx="270.9" cy="385.1" r="0.47" fill="#883c8c"/><circle cx="286.6" cy="380.7" r="0.34" fill="#883c8c"/><circle cx="251.2" cy="397.2" r="0.44" fill="#883c8c"/><circle cx="275.9" cy="384.2" r="0.42" fill="#883c8c"/><circle cx="289.0" cy="374.5" r="0.33" fill="#883c8c"/><circle cx="270.4" cy="395.3" r="0.41" fill="#883c8c"/><circle cx="281.4" cy="393.2" r="0.42" fill="#883c8c"/><circle cx="276.6" cy="376.9" r="0.33" fill="#883c8c"/><circle cx="264.7" cy="398.0" r="0.34" fill="#883c8c"/><circle cx="297.9" cy="383.1" r="0.31" fill="#883c8c"/><circle cx="296.1" cy="382.7" r="0.36" fill="#883c8c"/><circle cx="274.8" cy="396.1" r="0.40" fill="#883c8c"/><circle cx="284.7" cy="387.1" r="0.30" fill="#883c8c"/><circle cx="279.3" cy="400.0" r="0.36" fill="#883c8c"/><circle cx="253.6" cy="390.8" r="0.31" fill="#883c8c"/><circle cx="258.2" cy="392.3" r="0.44" fill="#883c8c"/><circle cx="275.7" cy="390.3" r="0.43" fill="#883c8c"/><circle cx="289.1" cy="426.1" r="0.41" fill="#883c8c"/><circle cx="256.9" cy="420.9" r="0.47" fill="#883c8c"/><circle cx="259.9" cy="392.2" r="0.45" fill="#883c8c"/><circle cx="266.9" cy="380.9" r="0.46" fill="#883c8c"/><circle cx="295.5" cy="374.5" r="0.48" fill="#883c8c"/><circle cx="266.5" cy="387.9" r="0.31" fill="#883c8c"/><circle cx="251.5" cy="418.6" r="0.33" fill="#883c8c"/><circle cx="263.4" cy="393.8" r="0.44" fill="#883c8c"/><circle cx="282.0" cy="391.4" r="0.32" fill="#883c8c"/><circle cx="297.1" cy="419.7" r="0.32" fill="#883c8c"/>
<rect x="250.00" y="373.00" width="15.00" height="15.00" fill="none" stroke="#6a4a6a" stroke-width="0.6" />
<rect x="277.00" y="400.00" width="27.50" height="28.20" fill="#de8ecc" stroke="none" stroke-width="0" />
<rect x="277.00" y="400.00" width="27.50" height="28.20" fill="#000" filter="url(#ti_he4_0)"/>
<rect x="277.00" y="400.00" width="27.50" height="28.20" fill="#000" filter="url(#ti_he4_1)"/>
<rect x="277.00" y="400.00" width="27.50" height="28.20" fill="#000" filter="url(#ti_he4_2)"/>
<circle cx="278.4" cy="417.6" r="0.59" fill="#883c8c"/><circle cx="297.1" cy="413.1" r="0.48" fill="#883c8c"/><circle cx="300.6" cy="414.8" r="0.75" fill="#883c8c"/><circle cx="301.5" cy="403.9" r="0.63" fill="#883c8c"/><circle cx="294.2" cy="408.3" r="0.62" fill="#883c8c"/>
<rect x="277.00" y="400.00" width="27.50" height="28.20" fill="none" stroke="#1e1a1e" stroke-width="1.1" />
<rect x="248.90" y="372.60" width="55.60" height="55.60" fill="none" stroke="#2a2628" stroke-width="1.3" />
<text x="258.50" y="432.10" font-size="3.6" font-weight="bold" fill="#222" stroke="#222" stroke-width="0.09" text-anchor="middle" >100 μm</text>
<line x1="250.90" y1="433.70" x2="265.90" y2="433.70" stroke="#555" stroke-width="0.6" />
<line x1="250.90" y1="432.40" x2="250.90" y2="434.10" stroke="#555" stroke-width="0.6" />
<line x1="265.90" y1="432.40" x2="265.90" y2="434.10" stroke="#555" stroke-width="0.6" />
<text x="419.70" y="302.40" font-size="7.45" font-weight="bold" fill="#1a1a1a" stroke="#1a1a1a" stroke-width="0.19" text-anchor="middle" >Ki67 Quantification</text>
<line x1="358.30" y1="308.30" x2="358.30" y2="400.00" stroke="#222" stroke-width="0.9" />
<line x1="358.30" y1="400.00" x2="495.20" y2="400.00" stroke="#222" stroke-width="0.9" />
<line x1="356.50" y1="399.90" x2="358.30" y2="399.90" stroke="#222" stroke-width="0.8" />
<text x="355.00" y="402.40" font-size="7.0" font-weight="bold" fill="#222" stroke="#222" stroke-width="0.18" text-anchor="end" >0</text>
<line x1="356.50" y1="377.00" x2="358.30" y2="377.00" stroke="#222" stroke-width="0.8" />
<text x="355.00" y="379.50" font-size="7.0" font-weight="bold" fill="#222" stroke="#222" stroke-width="0.18" text-anchor="end" >10</text>
<line x1="356.50" y1="354.10" x2="358.30" y2="354.10" stroke="#222" stroke-width="0.8" />
<text x="355.00" y="356.60" font-size="7.0" font-weight="bold" fill="#222" stroke="#222" stroke-width="0.18" text-anchor="end" >20</text>
<line x1="356.50" y1="331.20" x2="358.30" y2="331.20" stroke="#222" stroke-width="0.8" />
<text x="355.00" y="333.70" font-size="7.0" font-weight="bold" fill="#222" stroke="#222" stroke-width="0.18" text-anchor="end" >30</text>
<line x1="356.50" y1="308.30" x2="358.30" y2="308.30" stroke="#222" stroke-width="0.8" />
<text x="355.00" y="310.80" font-size="7.0" font-weight="bold" fill="#222" stroke="#222" stroke-width="0.18" text-anchor="end" >40</text>
<text x="341.00" y="353.30" font-size="7.6" font-weight="bold" fill="#1a1a1a" stroke="#1a1a1a" stroke-width="0.19" text-anchor="middle" transform="rotate(-90 341.0 353.3)">Positive tumor cells (%)</text>
<rect x="365.20" y="377.00" width="12.20" height="22.90" fill="#0000e8" stroke="#111" stroke-width="0.8" />
<text x="371.30" y="408.00" font-size="6.2" font-weight="bold" fill="#222" stroke="#222" stroke-width="0.16" text-anchor="middle" >1</text>
<rect x="379.80" y="354.10" width="12.20" height="45.80" fill="#0000e8" stroke="#111" stroke-width="0.8" />
<text x="385.90" y="408.00" font-size="6.2" font-weight="bold" fill="#222" stroke="#222" stroke-width="0.16" text-anchor="middle" >2</text>
<rect x="394.40" y="377.00" width="12.20" height="22.90" fill="#0000e8" stroke="#111" stroke-width="0.8" />
<text x="400.50" y="408.00" font-size="6.2" font-weight="bold" fill="#222" stroke="#222" stroke-width="0.16" text-anchor="middle" >3</text>
<rect x="409.30" y="331.20" width="12.20" height="68.70" fill="#0000e8" stroke="#111" stroke-width="0.8" />
<text x="415.40" y="408.00" font-size="6.2" font-weight="bold" fill="#222" stroke="#222" stroke-width="0.16" text-anchor="middle" >4</text>
<rect x="431.70" y="398.07" width="12.00" height="1.83" fill="#e81010" stroke="#111" stroke-width="0.8" />
<text x="437.10" y="408.00" font-size="6.2" font-weight="bold" fill="#222" stroke="#222" stroke-width="0.16" text-anchor="middle" >1</text>
<rect x="446.40" y="398.07" width="12.00" height="1.83" fill="#e81010" stroke="#111" stroke-width="0.8" />
<text x="451.80" y="408.00" font-size="6.2" font-weight="bold" fill="#222" stroke="#222" stroke-width="0.16" text-anchor="middle" >2</text>
<rect x="461.20" y="388.91" width="12.00" height="10.99" fill="#e81010" stroke="#111" stroke-width="0.8" />
<text x="466.60" y="408.00" font-size="6.2" font-weight="bold" fill="#222" stroke="#222" stroke-width="0.16" text-anchor="middle" >3</text>
<rect x="476.00" y="377.00" width="12.00" height="22.90" fill="#e81010" stroke="#111" stroke-width="0.8" />
<text x="481.40" y="408.00" font-size="6.2" font-weight="bold" fill="#222" stroke="#222" stroke-width="0.16" text-anchor="middle" >4</text>
<text x="394.80" y="418.20" font-size="6.4" font-weight="bold" fill="#2424b8" stroke="#2424b8" stroke-width="0.16" text-anchor="middle" >Patient</text>
<text x="462.50" y="418.30" font-size="6.4" font-weight="bold" fill="#d42a2a" stroke="#d42a2a" stroke-width="0.16" text-anchor="middle" >Patient</text>
<path d="M394.2,420.8 V423.2 H463.9 V420.8" fill="none" stroke="#555" stroke-width="0.7"/>
<text x="427.90" y="430.00" font-size="8" font-weight="bold" fill="#222" stroke="#222" stroke-width="0.20" text-anchor="middle" >*</text>
<text x="439.80" y="341.50" font-size="6.4" font-weight="bold" fill="#2424b8" stroke="#2424b8" stroke-width="0.16" text-anchor="start" >Control</text>
<text x="439.80" y="349.80" font-size="6.4" font-weight="bold" fill="#d42a2a" stroke="#d42a2a" stroke-width="0.16" text-anchor="start" >FEN1 inhibitor</text></svg>
</body></html>
